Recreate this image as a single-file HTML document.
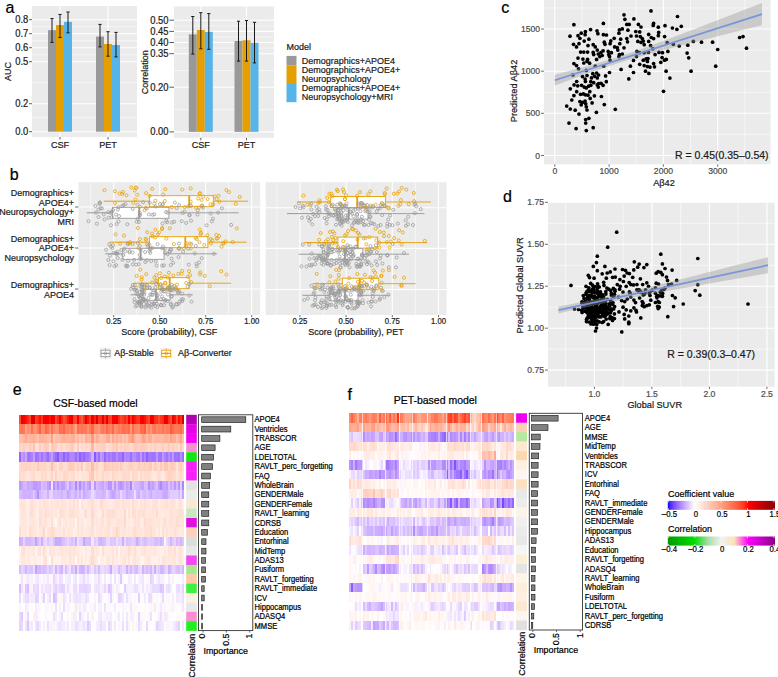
<!DOCTYPE html>
<html><head><meta charset="utf-8"><style>
html,body{margin:0;padding:0;background:#fff;width:778px;height:677px;overflow:hidden}
svg{display:block;position:absolute;left:0;top:0;font-family:"Liberation Sans", sans-serif}
.o{r:1.55px;fill:none;stroke:#E69F00;stroke-width:.75px}
.g{r:1.55px;fill:none;stroke:#999;stroke-width:.75px}
.k{r:1.85px;fill:#000}
.hm div{position:absolute}
</style></head><body>
<svg width="778" height="677" viewBox="0 0 778 677">
<text x="5.5" y="12.9" font-size="16" text-anchor="start" fill="#000" stroke="#000" stroke-width="0.22" >a</text>
<text x="9.8" y="179.8" font-size="16" text-anchor="start" fill="#000" stroke="#000" stroke-width="0.22" >b</text>
<text x="501.3" y="13.1" font-size="16" text-anchor="start" fill="#000" stroke="#000" stroke-width="0.22" >c</text>
<text x="503" y="202" font-size="16" text-anchor="start" fill="#000" stroke="#000" stroke-width="0.22" >d</text>
<text x="12.8" y="395.4" font-size="16" text-anchor="start" fill="#000" stroke="#000" stroke-width="0.22" >e</text>
<text x="347.6" y="400.2" font-size="16" text-anchor="start" fill="#000" stroke="#000" stroke-width="0.22" >f</text>
<rect x="32" y="6" width="105" height="131" fill="#ebebeb" />
<line x1="32" y1="117.7" x2="137" y2="117.7" stroke="#fff" stroke-width="0.55" />
<line x1="32" y1="82.7" x2="137" y2="82.7" stroke="#fff" stroke-width="0.55" />
<line x1="32" y1="54.7" x2="137" y2="54.7" stroke="#fff" stroke-width="0.55" />
<line x1="32" y1="40.7" x2="137" y2="40.7" stroke="#fff" stroke-width="0.55" />
<line x1="32" y1="26.7" x2="137" y2="26.7" stroke="#fff" stroke-width="0.55" />
<line x1="32" y1="131.7" x2="137" y2="131.7" stroke="#fff" stroke-width="1.1" />
<line x1="32" y1="103.7" x2="137" y2="103.7" stroke="#fff" stroke-width="1.1" />
<line x1="32" y1="61.7" x2="137" y2="61.7" stroke="#fff" stroke-width="1.1" />
<line x1="32" y1="47.7" x2="137" y2="47.7" stroke="#fff" stroke-width="1.1" />
<line x1="32" y1="33.7" x2="137" y2="33.7" stroke="#fff" stroke-width="1.1" />
<line x1="32" y1="19.7" x2="137" y2="19.7" stroke="#fff" stroke-width="1.1" />
<line x1="60" y1="6" x2="60" y2="137" stroke="#fff" stroke-width="1.1" />
<line x1="108" y1="6" x2="108" y2="137" stroke="#fff" stroke-width="1.1" />
<rect x="48" y="30.2" width="8" height="101.5" fill="#999999" />
<rect x="56" y="25.1" width="8" height="106.6" fill="#E69F00" />
<rect x="64" y="21.9" width="8" height="109.8" fill="#56B4E9" />
<rect x="96" y="36.6" width="8" height="95.1" fill="#999999" />
<rect x="104" y="44" width="8" height="87.7" fill="#E69F00" />
<rect x="112" y="45" width="8" height="86.7" fill="#56B4E9" />
<line x1="52" y1="18.6" x2="52" y2="42.4" stroke="#1a1a1a" stroke-width="1.0" />
<line x1="50.4" y1="18.6" x2="53.6" y2="18.6" stroke="#1a1a1a" stroke-width="1.0" />
<line x1="50.4" y1="42.4" x2="53.6" y2="42.4" stroke="#1a1a1a" stroke-width="1.0" />
<line x1="60" y1="14.4" x2="60" y2="37.5" stroke="#1a1a1a" stroke-width="1.0" />
<line x1="58.4" y1="14.4" x2="61.6" y2="14.4" stroke="#1a1a1a" stroke-width="1.0" />
<line x1="58.4" y1="37.5" x2="61.6" y2="37.5" stroke="#1a1a1a" stroke-width="1.0" />
<line x1="68" y1="12" x2="68" y2="32.8" stroke="#1a1a1a" stroke-width="1.0" />
<line x1="66.4" y1="12" x2="69.6" y2="12" stroke="#1a1a1a" stroke-width="1.0" />
<line x1="66.4" y1="32.8" x2="69.6" y2="32.8" stroke="#1a1a1a" stroke-width="1.0" />
<line x1="100" y1="24.4" x2="100" y2="46.9" stroke="#1a1a1a" stroke-width="1.0" />
<line x1="98.4" y1="24.4" x2="101.6" y2="24.4" stroke="#1a1a1a" stroke-width="1.0" />
<line x1="98.4" y1="46.9" x2="101.6" y2="46.9" stroke="#1a1a1a" stroke-width="1.0" />
<line x1="108" y1="31.7" x2="108" y2="56.2" stroke="#1a1a1a" stroke-width="1.0" />
<line x1="106.4" y1="31.7" x2="109.6" y2="31.7" stroke="#1a1a1a" stroke-width="1.0" />
<line x1="106.4" y1="56.2" x2="109.6" y2="56.2" stroke="#1a1a1a" stroke-width="1.0" />
<line x1="116" y1="32.4" x2="116" y2="56.9" stroke="#1a1a1a" stroke-width="1.0" />
<line x1="114.4" y1="32.4" x2="117.6" y2="32.4" stroke="#1a1a1a" stroke-width="1.0" />
<line x1="114.4" y1="56.9" x2="117.6" y2="56.9" stroke="#1a1a1a" stroke-width="1.0" />
<text transform="translate(28.3,135) scale(0.926,1)" font-size="10.15" text-anchor="end" fill="#1a1a1a" stroke="#1a1a1a" stroke-width="0.22" >0.0</text>
<line x1="29.1" y1="131.7" x2="32" y2="131.7" stroke="#333" stroke-width="0.8" />
<text transform="translate(28.3,107) scale(0.926,1)" font-size="10.15" text-anchor="end" fill="#1a1a1a" stroke="#1a1a1a" stroke-width="0.22" >0.2</text>
<line x1="29.1" y1="103.7" x2="32" y2="103.7" stroke="#333" stroke-width="0.8" />
<text transform="translate(28.3,65) scale(0.926,1)" font-size="10.15" text-anchor="end" fill="#1a1a1a" stroke="#1a1a1a" stroke-width="0.22" >0.5</text>
<line x1="29.1" y1="61.7" x2="32" y2="61.7" stroke="#333" stroke-width="0.8" />
<text transform="translate(28.3,51) scale(0.926,1)" font-size="10.15" text-anchor="end" fill="#1a1a1a" stroke="#1a1a1a" stroke-width="0.22" >0.6</text>
<line x1="29.1" y1="47.7" x2="32" y2="47.7" stroke="#333" stroke-width="0.8" />
<text transform="translate(28.3,37) scale(0.926,1)" font-size="10.15" text-anchor="end" fill="#1a1a1a" stroke="#1a1a1a" stroke-width="0.22" >0.7</text>
<line x1="29.1" y1="33.7" x2="32" y2="33.7" stroke="#333" stroke-width="0.8" />
<text transform="translate(28.3,23) scale(0.926,1)" font-size="10.15" text-anchor="end" fill="#1a1a1a" stroke="#1a1a1a" stroke-width="0.22" >0.8</text>
<line x1="29.1" y1="19.7" x2="32" y2="19.7" stroke="#333" stroke-width="0.8" />
<line x1="60" y1="137" x2="60" y2="139.5" stroke="#333" stroke-width="0.8" />
<text transform="translate(60,148) scale(0.926,1)" font-size="9.83" text-anchor="middle" fill="#1a1a1a" stroke="#1a1a1a" stroke-width="0.22" >CSF</text>
<line x1="108" y1="137" x2="108" y2="139.5" stroke="#333" stroke-width="0.8" />
<text transform="translate(108,148) scale(0.926,1)" font-size="9.83" text-anchor="middle" fill="#1a1a1a" stroke="#1a1a1a" stroke-width="0.22" >PET</text>
<text transform="translate(10.6,71.5) rotate(-90) scale(0.926,1)" font-size="9.72" text-anchor="middle" fill="#1a1a1a" stroke="#1a1a1a" stroke-width="0.22">AUC</text>
<rect x="174" y="6.5" width="100" height="131.3" fill="#ebebeb" />
<line x1="174" y1="109.6" x2="274" y2="109.6" stroke="#fff" stroke-width="0.55" />
<line x1="174" y1="70.5" x2="274" y2="70.5" stroke="#fff" stroke-width="0.55" />
<line x1="174" y1="48.1" x2="274" y2="48.1" stroke="#fff" stroke-width="0.55" />
<line x1="174" y1="37" x2="274" y2="37" stroke="#fff" stroke-width="0.55" />
<line x1="174" y1="25.8" x2="274" y2="25.8" stroke="#fff" stroke-width="0.55" />
<line x1="174" y1="131.9" x2="274" y2="131.9" stroke="#fff" stroke-width="1.1" />
<line x1="174" y1="87.2" x2="274" y2="87.2" stroke="#fff" stroke-width="1.1" />
<line x1="174" y1="53.7" x2="274" y2="53.7" stroke="#fff" stroke-width="1.1" />
<line x1="174" y1="42.5" x2="274" y2="42.5" stroke="#fff" stroke-width="1.1" />
<line x1="174" y1="31.4" x2="274" y2="31.4" stroke="#fff" stroke-width="1.1" />
<line x1="174" y1="20.2" x2="274" y2="20.2" stroke="#fff" stroke-width="1.1" />
<line x1="200.8" y1="6.5" x2="200.8" y2="137.8" stroke="#fff" stroke-width="1.1" />
<line x1="246.5" y1="6.5" x2="246.5" y2="137.8" stroke="#fff" stroke-width="1.1" />
<rect x="188.8" y="34.4" width="8" height="97.5" fill="#999999" />
<rect x="196.8" y="30" width="8" height="101.9" fill="#E69F00" />
<rect x="204.8" y="31.8" width="8" height="100.1" fill="#56B4E9" />
<rect x="234.5" y="41" width="8" height="90.9" fill="#999999" />
<rect x="242.5" y="40.3" width="8" height="91.6" fill="#E69F00" />
<rect x="250.5" y="42.8" width="8" height="89.1" fill="#56B4E9" />
<line x1="192.8" y1="16.5" x2="192.8" y2="54.1" stroke="#1a1a1a" stroke-width="1.0" />
<line x1="191.2" y1="16.5" x2="194.4" y2="16.5" stroke="#1a1a1a" stroke-width="1.0" />
<line x1="191.2" y1="54.1" x2="194.4" y2="54.1" stroke="#1a1a1a" stroke-width="1.0" />
<line x1="200.8" y1="12.7" x2="200.8" y2="48.8" stroke="#1a1a1a" stroke-width="1.0" />
<line x1="199.2" y1="12.7" x2="202.4" y2="12.7" stroke="#1a1a1a" stroke-width="1.0" />
<line x1="199.2" y1="48.8" x2="202.4" y2="48.8" stroke="#1a1a1a" stroke-width="1.0" />
<line x1="208.8" y1="13.6" x2="208.8" y2="49.3" stroke="#1a1a1a" stroke-width="1.0" />
<line x1="207.2" y1="13.6" x2="210.4" y2="13.6" stroke="#1a1a1a" stroke-width="1.0" />
<line x1="207.2" y1="49.3" x2="210.4" y2="49.3" stroke="#1a1a1a" stroke-width="1.0" />
<line x1="238.5" y1="21.2" x2="238.5" y2="61.1" stroke="#1a1a1a" stroke-width="1.0" />
<line x1="236.9" y1="21.2" x2="240.1" y2="21.2" stroke="#1a1a1a" stroke-width="1.0" />
<line x1="236.9" y1="61.1" x2="240.1" y2="61.1" stroke="#1a1a1a" stroke-width="1.0" />
<line x1="246.5" y1="20.5" x2="246.5" y2="61.1" stroke="#1a1a1a" stroke-width="1.0" />
<line x1="244.9" y1="20.5" x2="248.1" y2="20.5" stroke="#1a1a1a" stroke-width="1.0" />
<line x1="244.9" y1="61.1" x2="248.1" y2="61.1" stroke="#1a1a1a" stroke-width="1.0" />
<line x1="254.5" y1="22.3" x2="254.5" y2="62.9" stroke="#1a1a1a" stroke-width="1.0" />
<line x1="252.9" y1="22.3" x2="256.1" y2="22.3" stroke="#1a1a1a" stroke-width="1.0" />
<line x1="252.9" y1="62.9" x2="256.1" y2="62.9" stroke="#1a1a1a" stroke-width="1.0" />
<text transform="translate(168.5,135.2) scale(0.926,1)" font-size="10.15" text-anchor="end" fill="#1a1a1a" stroke="#1a1a1a" stroke-width="0.22" >0.00</text>
<line x1="169.3" y1="131.9" x2="174" y2="131.9" stroke="#333" stroke-width="0.8" />
<text transform="translate(168.5,90.5) scale(0.926,1)" font-size="10.15" text-anchor="end" fill="#1a1a1a" stroke="#1a1a1a" stroke-width="0.22" >0.20</text>
<line x1="169.3" y1="87.2" x2="174" y2="87.2" stroke="#333" stroke-width="0.8" />
<text transform="translate(168.5,57) scale(0.926,1)" font-size="10.15" text-anchor="end" fill="#1a1a1a" stroke="#1a1a1a" stroke-width="0.22" >0.35</text>
<line x1="169.3" y1="53.7" x2="174" y2="53.7" stroke="#333" stroke-width="0.8" />
<text transform="translate(168.5,45.8) scale(0.926,1)" font-size="10.15" text-anchor="end" fill="#1a1a1a" stroke="#1a1a1a" stroke-width="0.22" >0.40</text>
<line x1="169.3" y1="42.5" x2="174" y2="42.5" stroke="#333" stroke-width="0.8" />
<text transform="translate(168.5,34.7) scale(0.926,1)" font-size="10.15" text-anchor="end" fill="#1a1a1a" stroke="#1a1a1a" stroke-width="0.22" >0.45</text>
<line x1="169.3" y1="31.4" x2="174" y2="31.4" stroke="#333" stroke-width="0.8" />
<text transform="translate(168.5,23.5) scale(0.926,1)" font-size="10.15" text-anchor="end" fill="#1a1a1a" stroke="#1a1a1a" stroke-width="0.22" >0.50</text>
<line x1="169.3" y1="20.2" x2="174" y2="20.2" stroke="#333" stroke-width="0.8" />
<line x1="200.8" y1="137.8" x2="200.8" y2="140.3" stroke="#333" stroke-width="0.8" />
<text transform="translate(200.8,148) scale(0.926,1)" font-size="9.83" text-anchor="middle" fill="#1a1a1a" stroke="#1a1a1a" stroke-width="0.22" >CSF</text>
<line x1="246.5" y1="137.8" x2="246.5" y2="140.3" stroke="#333" stroke-width="0.8" />
<text transform="translate(246.5,148) scale(0.926,1)" font-size="9.83" text-anchor="middle" fill="#1a1a1a" stroke="#1a1a1a" stroke-width="0.22" >PET</text>
<text transform="translate(148.3,72.2) rotate(-90) scale(0.926,1)" font-size="9.72" text-anchor="middle" fill="#1a1a1a" stroke="#1a1a1a" stroke-width="0.22">Correlation</text>
<text transform="translate(286.4,50.2) scale(0.926,1)" font-size="9.72" text-anchor="start" fill="#1a1a1a" stroke="#1a1a1a" stroke-width="0.22" >Model</text>
<rect x="286.5" y="55.9" width="10" height="9.7" fill="#999999" />
<rect x="286.5" y="65.6" width="10" height="18.4" fill="#E69F00" />
<rect x="286.5" y="84" width="10" height="18.2" fill="#56B4E9" />
<text transform="translate(301.7,63.6) scale(0.926,1)" font-size="9.72" text-anchor="start" fill="#1a1a1a" stroke="#1a1a1a" stroke-width="0.22" >Demographics+APOE4</text>
<text transform="translate(301.7,72.7) scale(0.926,1)" font-size="9.72" text-anchor="start" fill="#1a1a1a" stroke="#1a1a1a" stroke-width="0.22" >Demographics+APOE4+</text>
<text transform="translate(301.7,81.7) scale(0.926,1)" font-size="9.72" text-anchor="start" fill="#1a1a1a" stroke="#1a1a1a" stroke-width="0.22" >Neuropsychology</text>
<text transform="translate(301.7,90.8) scale(0.926,1)" font-size="9.72" text-anchor="start" fill="#1a1a1a" stroke="#1a1a1a" stroke-width="0.22" >Demographics+APOE4+</text>
<text transform="translate(301.7,99.9) scale(0.926,1)" font-size="9.72" text-anchor="start" fill="#1a1a1a" stroke="#1a1a1a" stroke-width="0.22" >Neuropsychology+MRI</text>
<rect x="78.4" y="182.2" width="181.8" height="132.8" fill="#ebebeb" />
<line x1="90.7" y1="182.2" x2="90.7" y2="315" stroke="#fff" stroke-width="0.55" />
<line x1="136.7" y1="182.2" x2="136.7" y2="315" stroke="#fff" stroke-width="0.55" />
<line x1="182.7" y1="182.2" x2="182.7" y2="315" stroke="#fff" stroke-width="0.55" />
<line x1="228.7" y1="182.2" x2="228.7" y2="315" stroke="#fff" stroke-width="0.55" />
<line x1="113.7" y1="182.2" x2="113.7" y2="315" stroke="#fff" stroke-width="1.1" />
<line x1="159.7" y1="182.2" x2="159.7" y2="315" stroke="#fff" stroke-width="1.1" />
<line x1="205.7" y1="182.2" x2="205.7" y2="315" stroke="#fff" stroke-width="1.1" />
<line x1="251.7" y1="182.2" x2="251.7" y2="315" stroke="#fff" stroke-width="1.1" />
<line x1="78.4" y1="207" x2="260.2" y2="207" stroke="#fff" stroke-width="1.1" />
<line x1="78.4" y1="248" x2="260.2" y2="248" stroke="#fff" stroke-width="1.1" />
<line x1="78.4" y1="289" x2="260.2" y2="289" stroke="#fff" stroke-width="1.1" />
<line x1="103.8" y1="201.2" x2="149.4" y2="201.2" stroke="#E69F00" stroke-width="1.0"/>
<line x1="213.3" y1="201.2" x2="248" y2="201.2" stroke="#E69F00" stroke-width="0.9"/>
<rect x="149.4" y="195.7" width="63.9" height="11" fill="#fff" stroke="#E69F00" stroke-width="0.9"/>
<line x1="189.2" y1="195.7" x2="189.2" y2="206.7" stroke="#E69F00" stroke-width="1.8"/>
<line x1="86.9" y1="212.8" x2="112.6" y2="212.8" stroke="#999999" stroke-width="1.0"/>
<line x1="168.9" y1="212.8" x2="238.7" y2="212.8" stroke="#999999" stroke-width="0.9"/>
<rect x="112.6" y="207.3" width="56.3" height="11" fill="#fff" stroke="#999999" stroke-width="0.9"/>
<line x1="139.2" y1="207.3" x2="139.2" y2="218.3" stroke="#999999" stroke-width="1.8"/>
<line x1="109.5" y1="242.2" x2="149.4" y2="242.2" stroke="#E69F00" stroke-width="1.0"/>
<line x1="207.9" y1="242.2" x2="246.6" y2="242.2" stroke="#E69F00" stroke-width="0.9"/>
<rect x="149.4" y="236.7" width="58.5" height="11" fill="#fff" stroke="#E69F00" stroke-width="0.9"/>
<line x1="185.3" y1="236.7" x2="185.3" y2="247.7" stroke="#E69F00" stroke-width="1.8"/>
<line x1="105.2" y1="253.8" x2="122.8" y2="253.8" stroke="#999999" stroke-width="1.0"/>
<line x1="164.1" y1="253.8" x2="217" y2="253.8" stroke="#999999" stroke-width="0.9"/>
<rect x="122.8" y="248.3" width="41.3" height="11" fill="#fff" stroke="#999999" stroke-width="0.9"/>
<line x1="140.6" y1="248.3" x2="140.6" y2="259.3" stroke="#999999" stroke-width="1.8"/>
<line x1="134.1" y1="283.2" x2="158.4" y2="283.2" stroke="#E69F00" stroke-width="1.0"/>
<line x1="189.2" y1="283.2" x2="231.1" y2="283.2" stroke="#E69F00" stroke-width="0.9"/>
<rect x="158.4" y="277.7" width="30.8" height="11" fill="#fff" stroke="#E69F00" stroke-width="0.9"/>
<line x1="169.7" y1="277.7" x2="169.7" y2="288.7" stroke="#E69F00" stroke-width="1.8"/>
<line x1="130.7" y1="294.8" x2="143" y2="294.8" stroke="#999999" stroke-width="1.0"/>
<line x1="170" y1="294.8" x2="192.9" y2="294.8" stroke="#999999" stroke-width="0.9"/>
<rect x="143" y="289.3" width="27" height="11" fill="#fff" stroke="#999999" stroke-width="0.9"/>
<line x1="156" y1="289.3" x2="156" y2="300.3" stroke="#999999" stroke-width="1.8"/>
<circle cx="155.1" cy="237.4" class="o"/>
<circle cx="142" cy="301.9" class="g"/>
<circle cx="165.2" cy="282.7" class="o"/>
<circle cx="164.9" cy="252.9" class="g"/>
<circle cx="159" cy="232.4" class="o"/>
<circle cx="118.5" cy="221.5" class="g"/>
<circle cx="186.3" cy="245.5" class="o"/>
<circle cx="200" cy="274.5" class="o"/>
<circle cx="116" cy="214.6" class="g"/>
<circle cx="135.6" cy="199.4" class="o"/>
<circle cx="140" cy="239.1" class="o"/>
<circle cx="189.4" cy="214.8" class="g"/>
<circle cx="226.4" cy="190.1" class="o"/>
<circle cx="110.8" cy="212.9" class="g"/>
<circle cx="200.3" cy="272.4" class="o"/>
<circle cx="175.8" cy="288.2" class="g"/>
<circle cx="199.5" cy="242.3" class="o"/>
<circle cx="210.8" cy="213.5" class="g"/>
<circle cx="201.9" cy="205.4" class="o"/>
<circle cx="100.1" cy="203" class="g"/>
<circle cx="188.3" cy="206.3" class="g"/>
<circle cx="143.3" cy="298.9" class="g"/>
<circle cx="136" cy="287.9" class="o"/>
<circle cx="211.9" cy="221.3" class="g"/>
<circle cx="236.8" cy="228.4" class="o"/>
<circle cx="203.2" cy="196.6" class="o"/>
<circle cx="164" cy="265.4" class="g"/>
<circle cx="114.5" cy="266.2" class="g"/>
<circle cx="140.3" cy="269.7" class="o"/>
<circle cx="146.8" cy="260.2" class="g"/>
<circle cx="196.4" cy="263.9" class="g"/>
<circle cx="136.1" cy="264.6" class="g"/>
<circle cx="140.8" cy="250.2" class="g"/>
<circle cx="167.6" cy="212.7" class="g"/>
<circle cx="162.5" cy="223.5" class="g"/>
<circle cx="139.9" cy="258.5" class="g"/>
<circle cx="156.8" cy="296.1" class="g"/>
<circle cx="111" cy="246.7" class="g"/>
<circle cx="174.2" cy="286" class="o"/>
<circle cx="216.6" cy="199.2" class="o"/>
<circle cx="135.6" cy="306.5" class="g"/>
<circle cx="167.2" cy="222.2" class="g"/>
<circle cx="108.4" cy="260" class="g"/>
<circle cx="178.9" cy="292.5" class="g"/>
<circle cx="141.8" cy="277.3" class="o"/>
<circle cx="141.2" cy="305.5" class="g"/>
<circle cx="162.5" cy="285.4" class="o"/>
<circle cx="131.3" cy="187.5" class="o"/>
<circle cx="146.2" cy="274.2" class="o"/>
<circle cx="134.8" cy="190.5" class="o"/>
<circle cx="101.9" cy="208.4" class="g"/>
<circle cx="162.9" cy="289.8" class="o"/>
<circle cx="137.6" cy="294.2" class="g"/>
<circle cx="95.9" cy="212.6" class="g"/>
<circle cx="171.1" cy="303.7" class="g"/>
<circle cx="155.2" cy="301.6" class="g"/>
<circle cx="138.8" cy="302.6" class="g"/>
<circle cx="152.2" cy="188.9" class="o"/>
<circle cx="161.2" cy="278" class="o"/>
<circle cx="112.9" cy="245.2" class="g"/>
<circle cx="201.6" cy="200" class="o"/>
<circle cx="183.1" cy="251.7" class="g"/>
<circle cx="149.5" cy="244.8" class="o"/>
<circle cx="152.1" cy="282.5" class="o"/>
<circle cx="169.5" cy="251.7" class="g"/>
<circle cx="196.7" cy="239.2" class="o"/>
<circle cx="111" cy="225.2" class="g"/>
<circle cx="141.6" cy="279.5" class="o"/>
<circle cx="156.4" cy="293.9" class="g"/>
<circle cx="144.2" cy="294.6" class="g"/>
<circle cx="122.9" cy="191.9" class="o"/>
<circle cx="152.5" cy="247.9" class="g"/>
<circle cx="145.8" cy="300.8" class="g"/>
<circle cx="189" cy="271.1" class="o"/>
<circle cx="127.7" cy="244.2" class="g"/>
<circle cx="119" cy="216.1" class="g"/>
<circle cx="224" cy="243" class="o"/>
<circle cx="182.3" cy="189.6" class="o"/>
<circle cx="109.9" cy="255.6" class="g"/>
<circle cx="199.5" cy="193.6" class="o"/>
<circle cx="239.8" cy="197" class="o"/>
<circle cx="179" cy="290.9" class="g"/>
<circle cx="203.1" cy="207.4" class="g"/>
<circle cx="226.5" cy="274.6" class="o"/>
<circle cx="155.4" cy="306" class="g"/>
<circle cx="114.9" cy="203.1" class="o"/>
<circle cx="140.4" cy="295.4" class="g"/>
<circle cx="109.2" cy="244.4" class="g"/>
<circle cx="152.1" cy="233.6" class="o"/>
<circle cx="146.6" cy="208.6" class="g"/>
<circle cx="121.3" cy="249.9" class="g"/>
<circle cx="160.9" cy="299.5" class="g"/>
<circle cx="178" cy="292.6" class="g"/>
<circle cx="139.3" cy="303.3" class="g"/>
<circle cx="125.5" cy="204.1" class="g"/>
<circle cx="153" cy="292.3" class="g"/>
<circle cx="139.9" cy="302.2" class="g"/>
<circle cx="216.4" cy="234.8" class="o"/>
<circle cx="139.8" cy="246" class="g"/>
<circle cx="144.4" cy="292.6" class="g"/>
<circle cx="142.3" cy="290.6" class="g"/>
<circle cx="135.6" cy="289.9" class="g"/>
<circle cx="100.5" cy="208.2" class="g"/>
<circle cx="157.5" cy="244.2" class="g"/>
<circle cx="111.8" cy="217.2" class="g"/>
<circle cx="155.4" cy="200.7" class="o"/>
<circle cx="147.2" cy="287.7" class="g"/>
<circle cx="98.4" cy="209.5" class="g"/>
<circle cx="150.2" cy="294.5" class="g"/>
<circle cx="142.5" cy="293.3" class="g"/>
<circle cx="174.2" cy="221.8" class="g"/>
<circle cx="161.9" cy="229.1" class="o"/>
<circle cx="139.7" cy="254.9" class="g"/>
<circle cx="184.4" cy="211.6" class="g"/>
<circle cx="221.3" cy="271.2" class="o"/>
<circle cx="171.7" cy="296.1" class="g"/>
<circle cx="127.6" cy="266" class="g"/>
<circle cx="139.1" cy="296.8" class="g"/>
<circle cx="160.6" cy="284.3" class="o"/>
<circle cx="182.6" cy="213" class="g"/>
<circle cx="151.2" cy="261.1" class="g"/>
<circle cx="196.1" cy="207.6" class="o"/>
<circle cx="189.3" cy="295.6" class="g"/>
<circle cx="218.1" cy="212.6" class="g"/>
<circle cx="165.3" cy="189.2" class="o"/>
<circle cx="179.6" cy="301.8" class="g"/>
<circle cx="145.1" cy="252" class="g"/>
<circle cx="150.3" cy="252.9" class="g"/>
<circle cx="123.2" cy="255" class="g"/>
<circle cx="157.4" cy="307.1" class="g"/>
<circle cx="176.8" cy="304.4" class="g"/>
<circle cx="161" cy="305" class="g"/>
<circle cx="181.7" cy="221.2" class="g"/>
<circle cx="142.6" cy="292.3" class="g"/>
<circle cx="88.5" cy="221.2" class="g"/>
<circle cx="187.5" cy="286.6" class="g"/>
<circle cx="149.7" cy="248.4" class="g"/>
<circle cx="189.7" cy="215.5" class="g"/>
<circle cx="190.8" cy="248.3" class="o"/>
<circle cx="181.8" cy="273.6" class="o"/>
<circle cx="200.1" cy="193.3" class="o"/>
<circle cx="134.5" cy="299.3" class="g"/>
<circle cx="141.3" cy="306.7" class="g"/>
<circle cx="144.7" cy="289.4" class="o"/>
<circle cx="171.6" cy="289.5" class="g"/>
<circle cx="172.9" cy="288.6" class="g"/>
<circle cx="145.3" cy="262.1" class="g"/>
<circle cx="166.4" cy="238.6" class="o"/>
<circle cx="155.3" cy="229.8" class="o"/>
<circle cx="134.7" cy="289.6" class="g"/>
<circle cx="148.9" cy="214.4" class="g"/>
<circle cx="131.1" cy="288.8" class="g"/>
<circle cx="200.6" cy="234.1" class="o"/>
<circle cx="104.6" cy="219.4" class="g"/>
<circle cx="184.6" cy="207.1" class="o"/>
<circle cx="139.8" cy="215.3" class="g"/>
<circle cx="209.7" cy="286.3" class="o"/>
<circle cx="155.4" cy="287.3" class="g"/>
<circle cx="154" cy="303.9" class="g"/>
<circle cx="169.2" cy="287.4" class="g"/>
<circle cx="201.7" cy="258.2" class="g"/>
<circle cx="207.5" cy="235.2" class="o"/>
<circle cx="213.1" cy="204.3" class="o"/>
<circle cx="149.6" cy="287.5" class="g"/>
<circle cx="161.2" cy="291.7" class="g"/>
<circle cx="178.7" cy="248.6" class="g"/>
<circle cx="156.7" cy="303.7" class="g"/>
<circle cx="191.4" cy="244" class="g"/>
<circle cx="199.8" cy="229.6" class="o"/>
<circle cx="153.6" cy="303.7" class="g"/>
<circle cx="177.1" cy="290.4" class="g"/>
<circle cx="219.1" cy="236" class="o"/>
<circle cx="163.2" cy="194.6" class="o"/>
<circle cx="143" cy="299.1" class="g"/>
<circle cx="178.8" cy="248.3" class="o"/>
<circle cx="141.6" cy="289.3" class="g"/>
<circle cx="206.6" cy="225.3" class="g"/>
<circle cx="186.2" cy="283" class="o"/>
<circle cx="188.7" cy="264.6" class="g"/>
<circle cx="156.6" cy="299.3" class="g"/>
<circle cx="195.8" cy="237.8" class="o"/>
<circle cx="199" cy="262.5" class="g"/>
<circle cx="115.5" cy="234.4" class="o"/>
<circle cx="168" cy="294.5" class="g"/>
<circle cx="149.8" cy="287.9" class="g"/>
<circle cx="168.5" cy="288" class="g"/>
<circle cx="190.7" cy="188.4" class="o"/>
<circle cx="178.4" cy="273.9" class="o"/>
<circle cx="221.6" cy="246.7" class="o"/>
<circle cx="183.9" cy="248.4" class="o"/>
<circle cx="122.4" cy="259.9" class="g"/>
<circle cx="137.5" cy="204.6" class="g"/>
<circle cx="167.8" cy="301.1" class="g"/>
<circle cx="176.1" cy="289.6" class="o"/>
<circle cx="179.1" cy="243.6" class="g"/>
<circle cx="194.7" cy="253.4" class="g"/>
<circle cx="127.3" cy="224.2" class="g"/>
<circle cx="132.8" cy="209" class="g"/>
<circle cx="229" cy="192.1" class="o"/>
<circle cx="183" cy="299.2" class="g"/>
<circle cx="142.4" cy="285.1" class="g"/>
<circle cx="95.4" cy="205.9" class="g"/>
<circle cx="155.8" cy="280.5" class="o"/>
<circle cx="126.6" cy="266.4" class="g"/>
<circle cx="137" cy="305.6" class="g"/>
<circle cx="166.2" cy="220.8" class="g"/>
<circle cx="210.5" cy="204.2" class="o"/>
<circle cx="137.8" cy="228.1" class="o"/>
<circle cx="127.7" cy="243.1" class="g"/>
<circle cx="189.5" cy="284.1" class="g"/>
<circle cx="168.2" cy="289.9" class="o"/>
<circle cx="171.7" cy="284.6" class="g"/>
<circle cx="219.3" cy="201.6" class="o"/>
<circle cx="191.1" cy="282.1" class="o"/>
<circle cx="153.4" cy="290.4" class="g"/>
<circle cx="145.6" cy="238.7" class="o"/>
<circle cx="155.6" cy="206.5" class="g"/>
<circle cx="167.4" cy="288.2" class="g"/>
<circle cx="197.4" cy="214.6" class="g"/>
<circle cx="172.4" cy="287" class="g"/>
<circle cx="189.9" cy="243.5" class="o"/>
<circle cx="179.5" cy="248.3" class="g"/>
<circle cx="136.4" cy="293.6" class="g"/>
<circle cx="147.2" cy="232.2" class="o"/>
<circle cx="190.7" cy="201.7" class="o"/>
<circle cx="161.9" cy="289" class="o"/>
<circle cx="165.4" cy="283.2" class="o"/>
<circle cx="163.5" cy="289.2" class="g"/>
<circle cx="146" cy="239.7" class="o"/>
<circle cx="122.2" cy="194.1" class="o"/>
<circle cx="190.1" cy="275.2" class="o"/>
<circle cx="213.9" cy="253.8" class="g"/>
<circle cx="138.9" cy="222" class="g"/>
<circle cx="150.5" cy="249.2" class="g"/>
<circle cx="117.3" cy="251.9" class="g"/>
<circle cx="235.7" cy="203.8" class="o"/>
<circle cx="132.8" cy="285" class="g"/>
<circle cx="162.5" cy="204.5" class="g"/>
<circle cx="160" cy="273.3" class="o"/>
<circle cx="141.6" cy="300.7" class="g"/>
<circle cx="145.8" cy="207.9" class="o"/>
<circle cx="149.8" cy="202.7" class="g"/>
<circle cx="141.6" cy="306.3" class="g"/>
<circle cx="171.9" cy="207" class="o"/>
<circle cx="210.9" cy="243.2" class="o"/>
<circle cx="164.8" cy="201" class="o"/>
<circle cx="165.7" cy="300" class="g"/>
<circle cx="167.7" cy="286.7" class="o"/>
<circle cx="152.1" cy="304.2" class="g"/>
<circle cx="151.3" cy="307.6" class="g"/>
<circle cx="135.7" cy="187.8" class="o"/>
<circle cx="165.3" cy="291.5" class="g"/>
<circle cx="212.9" cy="218.7" class="g"/>
<circle cx="134.8" cy="284.8" class="g"/>
<circle cx="130.2" cy="242.1" class="o"/>
<circle cx="146.1" cy="193.1" class="o"/>
<circle cx="138.4" cy="248" class="o"/>
<circle cx="202.1" cy="206.1" class="g"/>
<circle cx="129.6" cy="243.6" class="o"/>
<circle cx="160.5" cy="284.9" class="g"/>
<circle cx="214.7" cy="196.4" class="o"/>
<circle cx="128.1" cy="260.7" class="g"/>
<circle cx="167.7" cy="277.5" class="o"/>
<circle cx="176.7" cy="208" class="g"/>
<circle cx="129.4" cy="252.4" class="g"/>
<circle cx="104.5" cy="190.2" class="o"/>
<circle cx="155.8" cy="261.4" class="g"/>
<circle cx="106.1" cy="249.7" class="g"/>
<circle cx="126.1" cy="265.5" class="g"/>
<circle cx="173.9" cy="244.1" class="o"/>
<circle cx="157.8" cy="295.1" class="g"/>
<circle cx="99.8" cy="202.4" class="g"/>
<circle cx="195.8" cy="245.9" class="g"/>
<circle cx="148.1" cy="305.4" class="g"/>
<circle cx="137.2" cy="194.7" class="o"/>
<circle cx="141.3" cy="258.9" class="g"/>
<circle cx="221.9" cy="208.2" class="g"/>
<circle cx="156.6" cy="265.6" class="g"/>
<circle cx="140.1" cy="298.1" class="g"/>
<circle cx="162.1" cy="265.6" class="g"/>
<circle cx="158.1" cy="234.2" class="o"/>
<circle cx="170.2" cy="290.2" class="g"/>
<circle cx="125.3" cy="251.3" class="g"/>
<circle cx="164.9" cy="300.7" class="g"/>
<circle cx="98.5" cy="217" class="g"/>
<circle cx="156.9" cy="281.1" class="o"/>
<circle cx="223" cy="243.4" class="o"/>
<circle cx="113.5" cy="253" class="g"/>
<circle cx="116.3" cy="253.7" class="g"/>
<circle cx="149.4" cy="303.1" class="g"/>
<circle cx="197.8" cy="210.4" class="g"/>
<circle cx="108.2" cy="212.2" class="g"/>
<circle cx="187.8" cy="276.8" class="o"/>
<circle cx="162.9" cy="246.5" class="g"/>
<circle cx="99.5" cy="203.8" class="g"/>
<circle cx="149.6" cy="195.8" class="o"/>
<circle cx="162.9" cy="204" class="g"/>
<circle cx="139.8" cy="212.6" class="g"/>
<circle cx="154.4" cy="203.5" class="g"/>
<circle cx="173.1" cy="262.7" class="g"/>
<circle cx="151.6" cy="294.7" class="g"/>
<circle cx="136.8" cy="221.7" class="g"/>
<circle cx="144.9" cy="284.8" class="o"/>
<circle cx="132.9" cy="264.3" class="g"/>
<circle cx="124.1" cy="235.6" class="o"/>
<circle cx="160" cy="204.1" class="g"/>
<circle cx="161.3" cy="305.2" class="g"/>
<circle cx="232.7" cy="242.1" class="o"/>
<circle cx="182.2" cy="270.9" class="o"/>
<circle cx="117.5" cy="253.8" class="g"/>
<circle cx="140.4" cy="285.9" class="g"/>
<circle cx="140.3" cy="296.2" class="g"/>
<circle cx="190.5" cy="205.9" class="o"/>
<circle cx="173.2" cy="306.7" class="g"/>
<circle cx="218.5" cy="195.7" class="o"/>
<circle cx="141.6" cy="284.3" class="g"/>
<circle cx="147.3" cy="244.2" class="g"/>
<circle cx="181.5" cy="299.5" class="g"/>
<circle cx="216.5" cy="238.6" class="o"/>
<circle cx="126.5" cy="195.2" class="o"/>
<circle cx="137.8" cy="243" class="g"/>
<circle cx="178.8" cy="303.8" class="g"/>
<circle cx="231.1" cy="224.9" class="g"/>
<circle cx="169.2" cy="289" class="o"/>
<circle cx="112.3" cy="248" class="g"/>
<circle cx="137.6" cy="218.8" class="g"/>
<circle cx="113.1" cy="210" class="g"/>
<circle cx="162.1" cy="296.3" class="g"/>
<circle cx="170.2" cy="249.5" class="g"/>
<circle cx="212.2" cy="240.2" class="o"/>
<circle cx="204.8" cy="275.9" class="o"/>
<circle cx="171.2" cy="249.4" class="g"/>
<circle cx="176" cy="288.3" class="g"/>
<circle cx="119.5" cy="193.5" class="o"/>
<circle cx="164.7" cy="248.6" class="g"/>
<circle cx="138.8" cy="264.2" class="g"/>
<circle cx="103.8" cy="214.4" class="g"/>
<circle cx="156.4" cy="275.2" class="o"/>
<circle cx="142.6" cy="289.8" class="g"/>
<circle cx="173.3" cy="275.6" class="o"/>
<circle cx="190.8" cy="205.5" class="g"/>
<circle cx="188.2" cy="248.6" class="g"/>
<circle cx="146.9" cy="285.2" class="g"/>
<circle cx="112" cy="211.6" class="g"/>
<circle cx="166.1" cy="212.1" class="g"/>
<circle cx="179.1" cy="205.1" class="g"/>
<circle cx="177" cy="284.5" class="o"/>
<circle cx="176.2" cy="304.2" class="g"/>
<circle cx="207.6" cy="199" class="o"/>
<circle cx="142.3" cy="284.6" class="g"/>
<circle cx="169.9" cy="251.6" class="g"/>
<circle cx="132.7" cy="252.5" class="g"/>
<circle cx="139.9" cy="206.9" class="o"/>
<circle cx="169.8" cy="228.3" class="o"/>
<circle cx="172.3" cy="307.6" class="g"/>
<circle cx="152.6" cy="214.8" class="g"/>
<circle cx="138" cy="302.1" class="g"/>
<circle cx="171.4" cy="296.7" class="g"/>
<circle cx="168.9" cy="272.8" class="o"/>
<circle cx="117.7" cy="258.1" class="g"/>
<circle cx="161.4" cy="287" class="g"/>
<circle cx="198.2" cy="198.5" class="o"/>
<circle cx="115.4" cy="253.1" class="g"/>
<circle cx="129.5" cy="251" class="g"/>
<circle cx="196.9" cy="266.3" class="g"/>
<circle cx="217.4" cy="238.4" class="o"/>
<circle cx="123.7" cy="205.1" class="g"/>
<circle cx="163.7" cy="299" class="g"/>
<circle cx="182.2" cy="293.6" class="g"/>
<circle cx="143.1" cy="299.5" class="g"/>
<circle cx="139.4" cy="292.3" class="g"/>
<circle cx="170.8" cy="304.8" class="g"/>
<circle cx="178.6" cy="257.1" class="g"/>
<circle cx="174.8" cy="202.6" class="g"/>
<circle cx="160.6" cy="305.1" class="g"/>
<circle cx="142" cy="286.8" class="g"/>
<circle cx="120.1" cy="243.6" class="o"/>
<circle cx="186.8" cy="243.5" class="o"/>
<circle cx="170.7" cy="265.1" class="g"/>
<circle cx="162.3" cy="248.4" class="g"/>
<circle cx="118.5" cy="207.4" class="g"/>
<circle cx="146.1" cy="305.8" class="g"/>
<circle cx="154.2" cy="214.3" class="g"/>
<circle cx="164.1" cy="305.2" class="g"/>
<circle cx="164" cy="291.4" class="g"/>
<circle cx="154.4" cy="277.6" class="o"/>
<circle cx="156.9" cy="298.2" class="g"/>
<circle cx="144.4" cy="287.1" class="g"/>
<circle cx="191.5" cy="301.6" class="g"/>
<circle cx="161.7" cy="289.7" class="g"/>
<circle cx="172.5" cy="290.3" class="g"/>
<circle cx="171.9" cy="222.5" class="g"/>
<circle cx="116.2" cy="265.2" class="g"/>
<circle cx="141.2" cy="302.7" class="g"/>
<circle cx="169.5" cy="289.2" class="g"/>
<circle cx="164.8" cy="276.5" class="o"/>
<circle cx="136.7" cy="275.9" class="o"/>
<circle cx="156.3" cy="284.1" class="g"/>
<circle cx="132.6" cy="243.9" class="g"/>
<circle cx="144.5" cy="210.3" class="g"/>
<circle cx="137.8" cy="302" class="g"/>
<circle cx="136.3" cy="187.8" class="o"/>
<circle cx="149.5" cy="251.1" class="g"/>
<circle cx="152.6" cy="294.9" class="g"/>
<circle cx="149.8" cy="306.2" class="g"/>
<circle cx="225.6" cy="241.4" class="o"/>
<circle cx="96.9" cy="223.7" class="g"/>
<circle cx="114.9" cy="191.3" class="o"/>
<circle cx="144.4" cy="299.3" class="g"/>
<circle cx="210.7" cy="239" class="o"/>
<circle cx="148.5" cy="298" class="g"/>
<circle cx="109.6" cy="265.1" class="g"/>
<circle cx="116.6" cy="224.1" class="g"/>
<circle cx="133" cy="287.6" class="g"/>
<circle cx="134.1" cy="259.8" class="g"/>
<circle cx="134.5" cy="302.2" class="g"/>
<circle cx="124.4" cy="248.7" class="g"/>
<circle cx="198.8" cy="207.5" class="o"/>
<circle cx="133.3" cy="202.9" class="o"/>
<circle cx="113.5" cy="261.3" class="g"/>
<circle cx="171.5" cy="258.7" class="g"/>
<circle cx="117.8" cy="209.6" class="g"/>
<circle cx="152.6" cy="236.4" class="o"/>
<circle cx="122.4" cy="206" class="g"/>
<circle cx="146.1" cy="302.3" class="g"/>
<circle cx="191" cy="220.7" class="g"/>
<circle cx="145.5" cy="307.4" class="g"/>
<circle cx="162.2" cy="228" class="o"/>
<circle cx="147.7" cy="246.1" class="g"/>
<circle cx="204.2" cy="244.9" class="o"/>
<circle cx="182.2" cy="301.2" class="g"/>
<circle cx="201" cy="232.8" class="o"/>
<circle cx="136.9" cy="290.8" class="g"/>
<circle cx="143.1" cy="202.3" class="g"/>
<circle cx="186.2" cy="222.9" class="g"/>
<circle cx="167.6" cy="254.3" class="g"/>
<circle cx="108.6" cy="217.8" class="g"/>
<circle cx="140" cy="214.7" class="g"/>
<line x1="113.7" y1="315" x2="113.7" y2="317.2" stroke="#333" stroke-width="0.7" />
<text transform="translate(113.7,324.1) scale(0.926,1)" font-size="8.32" text-anchor="middle" fill="#1a1a1a" stroke="#1a1a1a" stroke-width="0.22" >0.25</text>
<line x1="159.7" y1="315" x2="159.7" y2="317.2" stroke="#333" stroke-width="0.7" />
<text transform="translate(159.7,324.1) scale(0.926,1)" font-size="8.32" text-anchor="middle" fill="#1a1a1a" stroke="#1a1a1a" stroke-width="0.22" >0.50</text>
<line x1="205.7" y1="315" x2="205.7" y2="317.2" stroke="#333" stroke-width="0.7" />
<text transform="translate(205.7,324.1) scale(0.926,1)" font-size="8.32" text-anchor="middle" fill="#1a1a1a" stroke="#1a1a1a" stroke-width="0.22" >0.75</text>
<line x1="251.7" y1="315" x2="251.7" y2="317.2" stroke="#333" stroke-width="0.7" />
<text transform="translate(251.7,324.1) scale(0.926,1)" font-size="8.32" text-anchor="middle" fill="#1a1a1a" stroke="#1a1a1a" stroke-width="0.22" >1.00</text>
<text transform="translate(169.3,334.8) scale(0.926,1)" font-size="9.72" text-anchor="middle" fill="#1a1a1a" stroke="#1a1a1a" stroke-width="0.22" >Score (probability), CSF</text>
<rect x="265.7" y="182.2" width="180.9" height="132.8" fill="#ebebeb" />
<line x1="276.8" y1="182.2" x2="276.8" y2="315" stroke="#fff" stroke-width="0.55" />
<line x1="323" y1="182.2" x2="323" y2="315" stroke="#fff" stroke-width="0.55" />
<line x1="369.2" y1="182.2" x2="369.2" y2="315" stroke="#fff" stroke-width="0.55" />
<line x1="415.4" y1="182.2" x2="415.4" y2="315" stroke="#fff" stroke-width="0.55" />
<line x1="299.9" y1="182.2" x2="299.9" y2="315" stroke="#fff" stroke-width="1.1" />
<line x1="346.1" y1="182.2" x2="346.1" y2="315" stroke="#fff" stroke-width="1.1" />
<line x1="392.3" y1="182.2" x2="392.3" y2="315" stroke="#fff" stroke-width="1.1" />
<line x1="438.5" y1="182.2" x2="438.5" y2="315" stroke="#fff" stroke-width="1.1" />
<line x1="265.7" y1="207.8" x2="446.6" y2="207.8" stroke="#fff" stroke-width="1.1" />
<line x1="265.7" y1="248.4" x2="446.6" y2="248.4" stroke="#fff" stroke-width="1.1" />
<line x1="265.7" y1="289.5" x2="446.6" y2="289.5" stroke="#fff" stroke-width="1.1" />
<line x1="297.3" y1="202" x2="330.7" y2="202" stroke="#E69F00" stroke-width="1.0"/>
<line x1="385.4" y1="202" x2="431" y2="202" stroke="#E69F00" stroke-width="0.9"/>
<rect x="330.7" y="196.5" width="54.7" height="11" fill="#fff" stroke="#E69F00" stroke-width="0.9"/>
<line x1="357.2" y1="196.5" x2="357.2" y2="207.5" stroke="#E69F00" stroke-width="1.8"/>
<line x1="287" y1="213.6" x2="337" y2="213.6" stroke="#999999" stroke-width="1.0"/>
<line x1="368" y1="213.6" x2="424.5" y2="213.6" stroke="#999999" stroke-width="0.9"/>
<rect x="337" y="208.1" width="31" height="11" fill="#fff" stroke="#999999" stroke-width="0.9"/>
<line x1="348.7" y1="208.1" x2="348.7" y2="219.1" stroke="#999999" stroke-width="1.8"/>
<line x1="304.2" y1="242.6" x2="337.9" y2="242.6" stroke="#E69F00" stroke-width="1.0"/>
<line x1="377.7" y1="242.6" x2="427.1" y2="242.6" stroke="#E69F00" stroke-width="0.9"/>
<rect x="337.9" y="237.1" width="39.8" height="11" fill="#fff" stroke="#E69F00" stroke-width="0.9"/>
<line x1="357.7" y1="237.1" x2="357.7" y2="248.1" stroke="#E69F00" stroke-width="1.8"/>
<line x1="298.6" y1="254.2" x2="328" y2="254.2" stroke="#999999" stroke-width="1.0"/>
<line x1="362.8" y1="254.2" x2="409" y2="254.2" stroke="#999999" stroke-width="0.9"/>
<rect x="328" y="248.7" width="34.8" height="11" fill="#fff" stroke="#999999" stroke-width="0.9"/>
<line x1="345" y1="248.7" x2="345" y2="259.7" stroke="#999999" stroke-width="1.8"/>
<line x1="312.7" y1="283.7" x2="342.3" y2="283.7" stroke="#E69F00" stroke-width="1.0"/>
<line x1="378.8" y1="283.7" x2="415.5" y2="283.7" stroke="#E69F00" stroke-width="0.9"/>
<rect x="342.3" y="278.2" width="36.5" height="11" fill="#fff" stroke="#E69F00" stroke-width="0.9"/>
<line x1="359.7" y1="278.2" x2="359.7" y2="289.2" stroke="#E69F00" stroke-width="1.8"/>
<line x1="302.4" y1="295.3" x2="330" y2="295.3" stroke="#999999" stroke-width="1.0"/>
<line x1="358" y1="295.3" x2="389.8" y2="295.3" stroke="#999999" stroke-width="0.9"/>
<rect x="330" y="289.8" width="28" height="11" fill="#fff" stroke="#999999" stroke-width="0.9"/>
<line x1="345" y1="289.8" x2="345" y2="300.8" stroke="#999999" stroke-width="1.8"/>
<circle cx="381" cy="287.7" class="g"/>
<circle cx="339.3" cy="218.9" class="g"/>
<circle cx="359.3" cy="289.2" class="o"/>
<circle cx="357.2" cy="215" class="g"/>
<circle cx="313.1" cy="214" class="g"/>
<circle cx="369" cy="219.7" class="g"/>
<circle cx="345.6" cy="220.6" class="g"/>
<circle cx="357.3" cy="274" class="o"/>
<circle cx="311.7" cy="253.6" class="g"/>
<circle cx="387.5" cy="255.5" class="g"/>
<circle cx="328" cy="239.3" class="o"/>
<circle cx="341.4" cy="208.4" class="g"/>
<circle cx="341.9" cy="206.7" class="g"/>
<circle cx="358.5" cy="285.7" class="o"/>
<circle cx="375.9" cy="261.3" class="g"/>
<circle cx="352.2" cy="252.9" class="g"/>
<circle cx="320.7" cy="289.3" class="g"/>
<circle cx="338.1" cy="293.7" class="g"/>
<circle cx="321.3" cy="302.9" class="g"/>
<circle cx="327.8" cy="248.2" class="g"/>
<circle cx="347.7" cy="253" class="g"/>
<circle cx="366.4" cy="284.4" class="o"/>
<circle cx="302.9" cy="205.7" class="g"/>
<circle cx="331" cy="264.9" class="g"/>
<circle cx="366.9" cy="251.7" class="g"/>
<circle cx="357.2" cy="301.3" class="g"/>
<circle cx="373.8" cy="290.9" class="g"/>
<circle cx="325.8" cy="302.5" class="g"/>
<circle cx="340.4" cy="294.5" class="g"/>
<circle cx="382.8" cy="290.9" class="g"/>
<circle cx="335.5" cy="281.6" class="o"/>
<circle cx="355.9" cy="220.8" class="g"/>
<circle cx="332.3" cy="291.5" class="g"/>
<circle cx="401.7" cy="188" class="o"/>
<circle cx="365.4" cy="238.2" class="o"/>
<circle cx="336.2" cy="301.4" class="g"/>
<circle cx="311.9" cy="264.7" class="g"/>
<circle cx="357.8" cy="306.3" class="g"/>
<circle cx="385.1" cy="206.2" class="g"/>
<circle cx="349.2" cy="278.2" class="o"/>
<circle cx="369.5" cy="254.1" class="g"/>
<circle cx="399" cy="191.6" class="o"/>
<circle cx="359.9" cy="192.1" class="o"/>
<circle cx="377.2" cy="264.9" class="g"/>
<circle cx="359.9" cy="266.2" class="g"/>
<circle cx="310.3" cy="205.3" class="o"/>
<circle cx="330.6" cy="292.9" class="g"/>
<circle cx="400.9" cy="200.1" class="o"/>
<circle cx="304.3" cy="300" class="g"/>
<circle cx="323.9" cy="260" class="g"/>
<circle cx="360.8" cy="207.4" class="g"/>
<circle cx="327.5" cy="209.9" class="g"/>
<circle cx="359.2" cy="302" class="g"/>
<circle cx="401.7" cy="244.5" class="o"/>
<circle cx="357.5" cy="239.6" class="o"/>
<circle cx="397.9" cy="223.6" class="g"/>
<circle cx="331.8" cy="206" class="g"/>
<circle cx="335.1" cy="297.6" class="g"/>
<circle cx="332.8" cy="231.4" class="o"/>
<circle cx="401.4" cy="284.9" class="o"/>
<circle cx="347.5" cy="245.1" class="g"/>
<circle cx="338.8" cy="302.6" class="g"/>
<circle cx="360.8" cy="222.2" class="g"/>
<circle cx="336.6" cy="259.9" class="g"/>
<circle cx="324.7" cy="218" class="g"/>
<circle cx="338.7" cy="278.7" class="o"/>
<circle cx="350.9" cy="302.4" class="g"/>
<circle cx="353.3" cy="256.4" class="g"/>
<circle cx="347.7" cy="222" class="g"/>
<circle cx="381.7" cy="203" class="o"/>
<circle cx="323.2" cy="285.5" class="g"/>
<circle cx="331.5" cy="260" class="g"/>
<circle cx="338.2" cy="212.7" class="g"/>
<circle cx="368.5" cy="302.5" class="g"/>
<circle cx="414.8" cy="213.2" class="g"/>
<circle cx="361.3" cy="265.1" class="g"/>
<circle cx="343.3" cy="210.3" class="g"/>
<circle cx="330.5" cy="252.2" class="g"/>
<circle cx="343.3" cy="241.2" class="o"/>
<circle cx="371.6" cy="265.3" class="g"/>
<circle cx="313.5" cy="293.9" class="g"/>
<circle cx="340.1" cy="288.2" class="g"/>
<circle cx="327.8" cy="254" class="g"/>
<circle cx="360" cy="286.4" class="o"/>
<circle cx="352.2" cy="213.6" class="g"/>
<circle cx="314.1" cy="305.1" class="g"/>
<circle cx="355.8" cy="230.5" class="o"/>
<circle cx="374.6" cy="289.4" class="g"/>
<circle cx="329.6" cy="299.2" class="g"/>
<circle cx="326.7" cy="296.8" class="g"/>
<circle cx="325.5" cy="259" class="g"/>
<circle cx="345" cy="199.1" class="o"/>
<circle cx="344.8" cy="206.2" class="g"/>
<circle cx="317.3" cy="210.8" class="g"/>
<circle cx="413.8" cy="193" class="o"/>
<circle cx="388.2" cy="219.4" class="g"/>
<circle cx="300.1" cy="208.3" class="g"/>
<circle cx="348.8" cy="263.1" class="g"/>
<circle cx="357" cy="302.9" class="g"/>
<circle cx="357.7" cy="208.5" class="g"/>
<circle cx="360.9" cy="205.5" class="o"/>
<circle cx="347.7" cy="300.2" class="g"/>
<circle cx="341.6" cy="225.6" class="g"/>
<circle cx="379.9" cy="232" class="o"/>
<circle cx="332.4" cy="248.9" class="g"/>
<circle cx="311.4" cy="265.6" class="g"/>
<circle cx="351.3" cy="248.9" class="g"/>
<circle cx="336.9" cy="189.7" class="o"/>
<circle cx="367.8" cy="211.9" class="g"/>
<circle cx="344" cy="259.6" class="g"/>
<circle cx="356.9" cy="290.6" class="g"/>
<circle cx="345.1" cy="249.9" class="g"/>
<circle cx="347.3" cy="307.2" class="g"/>
<circle cx="366" cy="209.8" class="g"/>
<circle cx="363.6" cy="238.4" class="o"/>
<circle cx="345.9" cy="206" class="g"/>
<circle cx="375.6" cy="228.9" class="o"/>
<circle cx="345.9" cy="215.3" class="g"/>
<circle cx="346.8" cy="220" class="g"/>
<circle cx="373.6" cy="270.5" class="o"/>
<circle cx="406.3" cy="189.7" class="o"/>
<circle cx="326.8" cy="305.8" class="g"/>
<circle cx="350.5" cy="211.5" class="g"/>
<circle cx="346.1" cy="288.6" class="g"/>
<circle cx="338.8" cy="274.9" class="o"/>
<circle cx="364.9" cy="258.1" class="g"/>
<circle cx="316.7" cy="273.9" class="o"/>
<circle cx="314.6" cy="288.2" class="g"/>
<circle cx="376.8" cy="211.4" class="g"/>
<circle cx="357.1" cy="195.7" class="o"/>
<circle cx="345.7" cy="251" class="g"/>
<circle cx="335.8" cy="210.6" class="g"/>
<circle cx="373.8" cy="288.5" class="o"/>
<circle cx="341.1" cy="205.1" class="g"/>
<circle cx="363" cy="221.1" class="g"/>
<circle cx="361.6" cy="286.5" class="o"/>
<circle cx="346.4" cy="298.2" class="g"/>
<circle cx="326.8" cy="263.5" class="g"/>
<circle cx="336.2" cy="307" class="g"/>
<circle cx="340.4" cy="267.3" class="g"/>
<circle cx="364.3" cy="286" class="g"/>
<circle cx="368.1" cy="288.3" class="g"/>
<circle cx="375.8" cy="277" class="o"/>
<circle cx="369.7" cy="216.1" class="g"/>
<circle cx="326.8" cy="219.5" class="g"/>
<circle cx="348.9" cy="300.4" class="g"/>
<circle cx="383.8" cy="232.4" class="o"/>
<circle cx="388.9" cy="208.3" class="o"/>
<circle cx="355.4" cy="246.7" class="g"/>
<circle cx="338.1" cy="291.8" class="g"/>
<circle cx="324.2" cy="292.2" class="g"/>
<circle cx="368.6" cy="225" class="g"/>
<circle cx="328.9" cy="248.6" class="g"/>
<circle cx="351.2" cy="300" class="g"/>
<circle cx="361.4" cy="292.6" class="g"/>
<circle cx="379.7" cy="208.4" class="g"/>
<circle cx="321.6" cy="263.4" class="g"/>
<circle cx="387.2" cy="226.5" class="g"/>
<circle cx="310.8" cy="218.9" class="g"/>
<circle cx="367.5" cy="254.8" class="g"/>
<circle cx="325.8" cy="206.3" class="g"/>
<circle cx="333.7" cy="293.6" class="g"/>
<circle cx="314.2" cy="292.5" class="g"/>
<circle cx="376.4" cy="286.3" class="g"/>
<circle cx="358.1" cy="233" class="o"/>
<circle cx="352.1" cy="308.3" class="g"/>
<circle cx="354.6" cy="288.4" class="g"/>
<circle cx="340.7" cy="204" class="o"/>
<circle cx="375.1" cy="272.7" class="o"/>
<circle cx="338.8" cy="298.2" class="g"/>
<circle cx="370.8" cy="223.4" class="g"/>
<circle cx="370.4" cy="217" class="g"/>
<circle cx="329.7" cy="213.5" class="g"/>
<circle cx="388.8" cy="267.3" class="g"/>
<circle cx="352.5" cy="252.2" class="g"/>
<circle cx="392.6" cy="244" class="g"/>
<circle cx="348.3" cy="283.8" class="o"/>
<circle cx="394.1" cy="238.2" class="o"/>
<circle cx="333.1" cy="288.6" class="g"/>
<circle cx="326.4" cy="298.7" class="g"/>
<circle cx="321.7" cy="300.3" class="g"/>
<circle cx="363.4" cy="205.4" class="g"/>
<circle cx="371" cy="252" class="g"/>
<circle cx="379.6" cy="299.7" class="g"/>
<circle cx="295.6" cy="207" class="g"/>
<circle cx="414.1" cy="201.2" class="o"/>
<circle cx="372.8" cy="296.9" class="g"/>
<circle cx="327.2" cy="197.8" class="o"/>
<circle cx="340.6" cy="267.4" class="g"/>
<circle cx="345.3" cy="251.1" class="g"/>
<circle cx="344.4" cy="247.3" class="g"/>
<circle cx="363.9" cy="225" class="g"/>
<circle cx="371" cy="306.4" class="g"/>
<circle cx="365.5" cy="261.7" class="g"/>
<circle cx="348" cy="231" class="o"/>
<circle cx="408" cy="224.2" class="g"/>
<circle cx="324.6" cy="245.2" class="o"/>
<circle cx="352.6" cy="256.2" class="g"/>
<circle cx="331.7" cy="252.3" class="g"/>
<circle cx="302.8" cy="244.5" class="g"/>
<circle cx="335.4" cy="242.6" class="o"/>
<circle cx="339.8" cy="208.5" class="g"/>
<circle cx="339.7" cy="256.5" class="g"/>
<circle cx="339.1" cy="250.9" class="g"/>
<circle cx="364.5" cy="205.3" class="o"/>
<circle cx="347.2" cy="218.7" class="g"/>
<circle cx="347.4" cy="210.1" class="g"/>
<circle cx="375.6" cy="204.6" class="o"/>
<circle cx="397.3" cy="193.5" class="o"/>
<circle cx="334.4" cy="295.2" class="g"/>
<circle cx="327.9" cy="252" class="g"/>
<circle cx="323.7" cy="251.9" class="g"/>
<circle cx="361.8" cy="286.2" class="g"/>
<circle cx="384" cy="236.1" class="o"/>
<circle cx="319.7" cy="202.3" class="o"/>
<circle cx="342.6" cy="305.1" class="g"/>
<circle cx="364.1" cy="282.5" class="o"/>
<circle cx="319.8" cy="287.7" class="g"/>
<circle cx="325" cy="259.6" class="g"/>
<circle cx="334.9" cy="293.2" class="g"/>
<circle cx="309.4" cy="265.2" class="g"/>
<circle cx="341.7" cy="216.3" class="g"/>
<circle cx="335.5" cy="300.4" class="g"/>
<circle cx="327.9" cy="255.1" class="g"/>
<circle cx="326.1" cy="260.6" class="g"/>
<circle cx="334.4" cy="233.5" class="o"/>
<circle cx="340" cy="259.5" class="g"/>
<circle cx="334.4" cy="206.5" class="o"/>
<circle cx="372" cy="249.2" class="g"/>
<circle cx="384.3" cy="297.1" class="g"/>
<circle cx="370.4" cy="191.3" class="o"/>
<circle cx="332.6" cy="292.9" class="g"/>
<circle cx="400.3" cy="204.1" class="o"/>
<circle cx="369.4" cy="237.1" class="o"/>
<circle cx="361.3" cy="285.6" class="g"/>
<circle cx="358.7" cy="222.8" class="g"/>
<circle cx="315" cy="300.2" class="g"/>
<circle cx="353.5" cy="216.3" class="g"/>
<circle cx="330.9" cy="288.5" class="o"/>
<circle cx="357.3" cy="221.7" class="g"/>
<circle cx="360.9" cy="291.8" class="g"/>
<circle cx="359.5" cy="234.5" class="o"/>
<circle cx="315.9" cy="288.2" class="g"/>
<circle cx="372.4" cy="223.2" class="g"/>
<circle cx="354.5" cy="308.3" class="g"/>
<circle cx="336" cy="224.9" class="g"/>
<circle cx="345.8" cy="254.6" class="g"/>
<circle cx="357.4" cy="266.8" class="g"/>
<circle cx="351" cy="212.3" class="g"/>
<circle cx="375.9" cy="245.2" class="g"/>
<circle cx="357.7" cy="304.9" class="g"/>
<circle cx="337.7" cy="216.4" class="g"/>
<circle cx="401.6" cy="285.9" class="o"/>
<circle cx="359.4" cy="286.1" class="o"/>
<circle cx="320.8" cy="302.7" class="g"/>
<circle cx="372.4" cy="289.6" class="g"/>
<circle cx="342.4" cy="303.5" class="g"/>
<circle cx="381.7" cy="290.1" class="o"/>
<circle cx="311.4" cy="209.4" class="g"/>
<circle cx="351.8" cy="303.7" class="g"/>
<circle cx="360.4" cy="211.2" class="g"/>
<circle cx="337.3" cy="204.6" class="g"/>
<circle cx="345.2" cy="249.5" class="g"/>
<circle cx="319.4" cy="212.3" class="g"/>
<circle cx="315.5" cy="304.5" class="g"/>
<circle cx="388.4" cy="294.7" class="g"/>
<circle cx="382.2" cy="206.4" class="g"/>
<circle cx="360.2" cy="259.7" class="g"/>
<circle cx="403.9" cy="253" class="g"/>
<circle cx="356.2" cy="246.8" class="g"/>
<circle cx="329.8" cy="289" class="g"/>
<circle cx="303.5" cy="207.3" class="g"/>
<circle cx="328.7" cy="202.2" class="o"/>
<circle cx="387.2" cy="255.1" class="g"/>
<circle cx="343" cy="189.5" class="o"/>
<circle cx="357.4" cy="259.1" class="g"/>
<circle cx="345.1" cy="286.1" class="g"/>
<circle cx="372.5" cy="207.3" class="g"/>
<circle cx="334" cy="215.8" class="g"/>
<circle cx="372" cy="301.5" class="g"/>
<circle cx="367.8" cy="261.4" class="g"/>
<circle cx="340.6" cy="300.4" class="g"/>
<circle cx="306.5" cy="266.5" class="g"/>
<circle cx="347.4" cy="264.2" class="g"/>
<circle cx="362" cy="280.9" class="o"/>
<circle cx="344.7" cy="289.2" class="o"/>
<circle cx="344.9" cy="288.7" class="g"/>
<circle cx="342.9" cy="218.4" class="g"/>
<circle cx="366.4" cy="285.3" class="o"/>
<circle cx="359.3" cy="295.2" class="g"/>
<circle cx="379.4" cy="242.6" class="o"/>
<circle cx="341.7" cy="221.2" class="g"/>
<circle cx="382.4" cy="263.5" class="g"/>
<circle cx="345.8" cy="289.4" class="g"/>
<circle cx="314.6" cy="287.8" class="o"/>
<circle cx="371.2" cy="301.5" class="g"/>
<circle cx="405.7" cy="220.3" class="g"/>
<circle cx="334.2" cy="263.9" class="g"/>
<circle cx="341.3" cy="212.2" class="g"/>
<circle cx="389.6" cy="247.6" class="o"/>
<circle cx="352" cy="225.4" class="g"/>
<circle cx="319.1" cy="258" class="g"/>
<circle cx="331.5" cy="193.7" class="o"/>
<circle cx="415.3" cy="203.8" class="g"/>
<circle cx="342.3" cy="219.5" class="g"/>
<circle cx="380.1" cy="258.5" class="g"/>
<circle cx="374.2" cy="224.2" class="g"/>
<circle cx="349.7" cy="300.4" class="g"/>
<circle cx="396" cy="267.4" class="g"/>
<circle cx="396.7" cy="257.5" class="g"/>
<circle cx="344.9" cy="199.1" class="o"/>
<circle cx="388.1" cy="207.8" class="o"/>
<circle cx="319.7" cy="256" class="g"/>
<circle cx="382.2" cy="215.1" class="g"/>
<circle cx="412.9" cy="225" class="g"/>
<circle cx="392.4" cy="225.2" class="g"/>
<circle cx="319.1" cy="244.4" class="g"/>
<circle cx="338.7" cy="286.9" class="g"/>
<circle cx="329" cy="292.7" class="g"/>
<circle cx="372.1" cy="281" class="o"/>
<circle cx="380.6" cy="225" class="g"/>
<circle cx="319.6" cy="200.3" class="o"/>
<circle cx="386.8" cy="242.1" class="o"/>
<circle cx="338.5" cy="252.5" class="g"/>
<circle cx="331.9" cy="236.9" class="o"/>
<circle cx="337.7" cy="250.3" class="g"/>
<circle cx="361.4" cy="263.5" class="g"/>
<circle cx="353.7" cy="287.6" class="o"/>
<circle cx="340.8" cy="204.3" class="o"/>
<circle cx="343.3" cy="222.1" class="g"/>
<circle cx="319" cy="209.4" class="g"/>
<circle cx="316.6" cy="258.3" class="g"/>
<circle cx="345.1" cy="235.4" class="o"/>
<circle cx="348.7" cy="259.6" class="g"/>
<circle cx="402.8" cy="232.4" class="o"/>
<circle cx="318.5" cy="256.4" class="g"/>
<circle cx="353.7" cy="222.9" class="g"/>
<circle cx="341.4" cy="213.4" class="g"/>
<circle cx="331.4" cy="304.8" class="g"/>
<circle cx="366.3" cy="244.3" class="o"/>
<circle cx="369.8" cy="207.4" class="g"/>
<circle cx="372.9" cy="293.5" class="g"/>
<circle cx="327.8" cy="287.6" class="g"/>
<circle cx="329.6" cy="305" class="g"/>
<circle cx="408.1" cy="216.7" class="g"/>
<circle cx="357.2" cy="218.5" class="g"/>
<circle cx="352" cy="228.9" class="o"/>
<circle cx="399.1" cy="230.3" class="o"/>
<circle cx="353.4" cy="210.6" class="g"/>
<circle cx="322.7" cy="260.4" class="g"/>
<circle cx="301.9" cy="217.7" class="g"/>
<circle cx="376.5" cy="240.3" class="o"/>
<circle cx="341.1" cy="215.4" class="g"/>
<circle cx="339.2" cy="215.9" class="g"/>
<circle cx="414.5" cy="204.5" class="g"/>
<circle cx="331.9" cy="249.4" class="g"/>
<circle cx="358.5" cy="258.4" class="g"/>
<circle cx="326.6" cy="223.4" class="g"/>
<circle cx="360.9" cy="219.7" class="g"/>
<circle cx="381.7" cy="282.7" class="o"/>
<circle cx="332.4" cy="196.2" class="o"/>
<circle cx="347.1" cy="288" class="o"/>
<circle cx="360" cy="266.6" class="g"/>
<circle cx="337.1" cy="219.4" class="g"/>
<circle cx="323.3" cy="257.5" class="g"/>
<circle cx="339.1" cy="290.7" class="g"/>
<circle cx="322.3" cy="284.6" class="g"/>
<circle cx="346" cy="195.3" class="o"/>
<circle cx="345.1" cy="260" class="g"/>
<circle cx="314.9" cy="216.1" class="g"/>
<circle cx="338.8" cy="215.1" class="g"/>
<circle cx="337.9" cy="210.3" class="g"/>
<circle cx="370.5" cy="246.1" class="g"/>
<circle cx="318.3" cy="202.7" class="o"/>
<circle cx="344.1" cy="254" class="g"/>
<circle cx="309.5" cy="258.7" class="g"/>
<circle cx="332.9" cy="215.3" class="g"/>
<circle cx="405.9" cy="225.7" class="g"/>
<circle cx="340.2" cy="223.9" class="g"/>
<circle cx="350.9" cy="254.6" class="g"/>
<circle cx="362.1" cy="203.1" class="g"/>
<circle cx="315.5" cy="297.5" class="g"/>
<circle cx="381.3" cy="275.9" class="o"/>
<circle cx="361.9" cy="216.7" class="g"/>
<circle cx="328.8" cy="244.4" class="g"/>
<circle cx="357.9" cy="281.8" class="o"/>
<circle cx="370.9" cy="205.6" class="o"/>
<circle cx="342.3" cy="262.7" class="g"/>
<circle cx="338.1" cy="246.9" class="o"/>
<circle cx="314.3" cy="258.1" class="g"/>
<circle cx="319.1" cy="239.8" class="o"/>
<circle cx="384.7" cy="193" class="o"/>
<circle cx="362" cy="255.1" class="g"/>
<circle cx="367.2" cy="284.8" class="g"/>
<circle cx="351.8" cy="286.6" class="g"/>
<circle cx="367" cy="264.1" class="g"/>
<circle cx="366" cy="255.5" class="g"/>
<circle cx="298.9" cy="203.3" class="g"/>
<circle cx="362" cy="254.4" class="g"/>
<circle cx="323.6" cy="252.5" class="g"/>
<circle cx="343.2" cy="250.2" class="g"/>
<circle cx="364.9" cy="224.8" class="g"/>
<circle cx="324.4" cy="302" class="g"/>
<circle cx="384.9" cy="194.3" class="o"/>
<circle cx="368.6" cy="249.6" class="g"/>
<circle cx="344.6" cy="263.8" class="g"/>
<circle cx="301.4" cy="266.3" class="g"/>
<circle cx="333" cy="286.7" class="g"/>
<circle cx="364.8" cy="205.7" class="g"/>
<circle cx="318" cy="306.9" class="g"/>
<circle cx="384.2" cy="205.3" class="o"/>
<circle cx="331.5" cy="289.7" class="g"/>
<circle cx="340" cy="291.7" class="g"/>
<circle cx="311.4" cy="285.8" class="g"/>
<circle cx="408.8" cy="204.2" class="o"/>
<circle cx="375" cy="248.1" class="o"/>
<circle cx="346.8" cy="249.2" class="g"/>
<circle cx="338.9" cy="291.9" class="g"/>
<circle cx="323.5" cy="249.5" class="g"/>
<circle cx="335" cy="293.8" class="g"/>
<circle cx="322.1" cy="246.7" class="g"/>
<circle cx="360.3" cy="294.3" class="g"/>
<circle cx="361.2" cy="203" class="g"/>
<circle cx="379.4" cy="247.6" class="o"/>
<circle cx="342" cy="222" class="g"/>
<circle cx="346.8" cy="260.7" class="g"/>
<circle cx="332.6" cy="204.7" class="g"/>
<circle cx="353" cy="248.9" class="g"/>
<circle cx="329.4" cy="282.3" class="o"/>
<circle cx="344.1" cy="192" class="o"/>
<circle cx="393.8" cy="193.7" class="o"/>
<circle cx="370.7" cy="251.5" class="g"/>
<circle cx="380.6" cy="205.2" class="g"/>
<circle cx="348.9" cy="256.1" class="g"/>
<circle cx="326.4" cy="307.8" class="g"/>
<circle cx="336.3" cy="263" class="g"/>
<circle cx="307.4" cy="204.7" class="o"/>
<circle cx="362.6" cy="300.3" class="g"/>
<circle cx="359.1" cy="302.7" class="g"/>
<circle cx="321.9" cy="246.2" class="g"/>
<circle cx="371.4" cy="286.6" class="g"/>
<circle cx="350.5" cy="246.5" class="g"/>
<circle cx="362.1" cy="255.8" class="g"/>
<circle cx="368.7" cy="262.5" class="g"/>
<circle cx="316.1" cy="260.1" class="g"/>
<circle cx="344.3" cy="205.5" class="g"/>
<circle cx="322.7" cy="306.7" class="g"/>
<circle cx="420.8" cy="209.2" class="g"/>
<circle cx="318.1" cy="216" class="g"/>
<circle cx="332.6" cy="243" class="o"/>
<circle cx="357" cy="213.9" class="g"/>
<circle cx="358.1" cy="265.2" class="g"/>
<circle cx="338.4" cy="300.9" class="g"/>
<circle cx="358.5" cy="303.4" class="g"/>
<circle cx="346.5" cy="234.3" class="o"/>
<circle cx="345.4" cy="301.7" class="g"/>
<circle cx="316.5" cy="206.8" class="g"/>
<circle cx="340" cy="295.4" class="g"/>
<circle cx="327.6" cy="303.9" class="g"/>
<circle cx="335.7" cy="214.6" class="g"/>
<circle cx="330.6" cy="265.7" class="g"/>
<circle cx="353.7" cy="255" class="g"/>
<circle cx="325.2" cy="257.2" class="g"/>
<circle cx="359" cy="287.1" class="g"/>
<circle cx="350.4" cy="251.9" class="g"/>
<circle cx="324" cy="244" class="g"/>
<circle cx="361.4" cy="291.2" class="g"/>
<circle cx="328.5" cy="263.5" class="g"/>
<circle cx="390.2" cy="215.4" class="g"/>
<circle cx="344.5" cy="260" class="g"/>
<circle cx="311.3" cy="203.7" class="g"/>
<circle cx="334" cy="251.3" class="g"/>
<circle cx="404" cy="277.7" class="o"/>
<circle cx="329" cy="246" class="g"/>
<circle cx="388.8" cy="235.9" class="o"/>
<circle cx="389.7" cy="224.8" class="g"/>
<circle cx="338.2" cy="210.4" class="g"/>
<circle cx="354" cy="289.3" class="g"/>
<circle cx="347.8" cy="307.2" class="g"/>
<circle cx="386.6" cy="188.5" class="o"/>
<circle cx="375.5" cy="301.5" class="g"/>
<circle cx="327.7" cy="263.5" class="g"/>
<circle cx="320.7" cy="233.1" class="o"/>
<circle cx="308" cy="217.2" class="g"/>
<circle cx="381.4" cy="275.8" class="o"/>
<circle cx="336.1" cy="269.8" class="o"/>
<circle cx="339.9" cy="222.7" class="g"/>
<circle cx="338.1" cy="292.3" class="g"/>
<circle cx="345.9" cy="296.3" class="g"/>
<circle cx="348.1" cy="247.3" class="g"/>
<circle cx="345.2" cy="291" class="g"/>
<circle cx="336.6" cy="297.1" class="g"/>
<circle cx="378.3" cy="226.1" class="g"/>
<circle cx="380.7" cy="255.6" class="g"/>
<circle cx="393.2" cy="209.7" class="g"/>
<circle cx="330" cy="232" class="o"/>
<circle cx="322.1" cy="288.5" class="g"/>
<circle cx="321.9" cy="308.2" class="g"/>
<circle cx="330.6" cy="295.4" class="g"/>
<circle cx="349" cy="290.7" class="g"/>
<circle cx="343.3" cy="300.8" class="g"/>
<circle cx="326.5" cy="305.7" class="g"/>
<circle cx="347.9" cy="215" class="g"/>
<circle cx="369.5" cy="211.5" class="g"/>
<circle cx="340.9" cy="289.4" class="g"/>
<circle cx="329.1" cy="216.1" class="g"/>
<circle cx="416.2" cy="206.3" class="g"/>
<circle cx="331.3" cy="287.6" class="g"/>
<circle cx="328.1" cy="213.7" class="g"/>
<circle cx="344.2" cy="291.3" class="g"/>
<circle cx="353" cy="229.3" class="o"/>
<circle cx="387.3" cy="223.7" class="g"/>
<circle cx="309.2" cy="244.6" class="g"/>
<circle cx="303.5" cy="195.6" class="o"/>
<circle cx="424.8" cy="240.9" class="o"/>
<circle cx="382.7" cy="203.9" class="g"/>
<circle cx="361" cy="264.4" class="g"/>
<circle cx="394.6" cy="276.9" class="o"/>
<circle cx="335" cy="294.3" class="g"/>
<circle cx="358.5" cy="203.5" class="g"/>
<circle cx="340.6" cy="249.7" class="g"/>
<circle cx="367" cy="205" class="g"/>
<circle cx="312.6" cy="305.6" class="g"/>
<circle cx="323.4" cy="264.8" class="g"/>
<circle cx="398.5" cy="206" class="o"/>
<circle cx="363.3" cy="290.8" class="g"/>
<circle cx="370.4" cy="277.1" class="o"/>
<circle cx="346.8" cy="262.4" class="g"/>
<circle cx="373.2" cy="206.1" class="g"/>
<circle cx="325.7" cy="241.6" class="o"/>
<circle cx="349.5" cy="267.3" class="g"/>
<circle cx="326.1" cy="209.4" class="g"/>
<circle cx="380" cy="298.4" class="g"/>
<circle cx="307.9" cy="298.4" class="g"/>
<circle cx="317" cy="284.4" class="o"/>
<circle cx="382.9" cy="270.6" class="o"/>
<circle cx="338.3" cy="284.5" class="g"/>
<circle cx="360.3" cy="203.7" class="g"/>
<circle cx="337.8" cy="191.1" class="o"/>
<circle cx="355.3" cy="287.1" class="g"/>
<circle cx="350.9" cy="259.2" class="g"/>
<circle cx="366.1" cy="207.7" class="o"/>
<circle cx="321" cy="256.7" class="g"/>
<circle cx="372.4" cy="277.8" class="o"/>
<circle cx="321.8" cy="258.9" class="g"/>
<circle cx="390.9" cy="241.6" class="o"/>
<circle cx="355.4" cy="209.6" class="g"/>
<circle cx="339" cy="270.1" class="o"/>
<circle cx="315.3" cy="264.2" class="g"/>
<circle cx="376.9" cy="252.1" class="g"/>
<circle cx="364.9" cy="274.8" class="o"/>
<circle cx="389" cy="270.2" class="o"/>
<circle cx="324.9" cy="289.7" class="g"/>
<circle cx="352" cy="290.3" class="g"/>
<circle cx="333.2" cy="240" class="o"/>
<circle cx="359.2" cy="303.6" class="g"/>
<circle cx="335.6" cy="238" class="o"/>
<circle cx="398.7" cy="240.5" class="o"/>
<circle cx="367" cy="249.4" class="o"/>
<circle cx="327.3" cy="263.2" class="g"/>
<circle cx="354.4" cy="222.1" class="g"/>
<circle cx="338.7" cy="219.1" class="g"/>
<circle cx="348" cy="307.9" class="g"/>
<circle cx="346.4" cy="262.8" class="g"/>
<circle cx="376.4" cy="285.3" class="g"/>
<circle cx="340.1" cy="263.4" class="g"/>
<circle cx="355.9" cy="307.5" class="g"/>
<circle cx="357.1" cy="222.6" class="g"/>
<circle cx="335.4" cy="305.2" class="g"/>
<circle cx="309.3" cy="220.8" class="g"/>
<circle cx="356.3" cy="263.8" class="g"/>
<circle cx="322.1" cy="260.2" class="g"/>
<circle cx="346.6" cy="203.5" class="g"/>
<circle cx="345.2" cy="296.4" class="g"/>
<circle cx="358.2" cy="290.1" class="g"/>
<circle cx="312.3" cy="224.3" class="g"/>
<circle cx="347.6" cy="252.6" class="g"/>
<circle cx="365.3" cy="211.3" class="g"/>
<circle cx="330.3" cy="276.3" class="o"/>
<circle cx="356.7" cy="266.6" class="g"/>
<circle cx="334.9" cy="209" class="g"/>
<circle cx="342.9" cy="247" class="o"/>
<circle cx="378" cy="208.4" class="g"/>
<circle cx="338.3" cy="213.7" class="g"/>
<circle cx="345.6" cy="265.2" class="g"/>
<circle cx="350.8" cy="294.7" class="g"/>
<circle cx="361.6" cy="295.4" class="g"/>
<circle cx="329.4" cy="193.7" class="o"/>
<circle cx="363" cy="303.2" class="g"/>
<circle cx="368.2" cy="194.4" class="o"/>
<circle cx="339.9" cy="203.4" class="g"/>
<line x1="299.9" y1="315" x2="299.9" y2="317.2" stroke="#333" stroke-width="0.7" />
<text transform="translate(299.9,324.1) scale(0.926,1)" font-size="8.32" text-anchor="middle" fill="#1a1a1a" stroke="#1a1a1a" stroke-width="0.22" >0.25</text>
<line x1="346.1" y1="315" x2="346.1" y2="317.2" stroke="#333" stroke-width="0.7" />
<text transform="translate(346.1,324.1) scale(0.926,1)" font-size="8.32" text-anchor="middle" fill="#1a1a1a" stroke="#1a1a1a" stroke-width="0.22" >0.50</text>
<line x1="392.3" y1="315" x2="392.3" y2="317.2" stroke="#333" stroke-width="0.7" />
<text transform="translate(392.3,324.1) scale(0.926,1)" font-size="8.32" text-anchor="middle" fill="#1a1a1a" stroke="#1a1a1a" stroke-width="0.22" >0.75</text>
<line x1="438.5" y1="315" x2="438.5" y2="317.2" stroke="#333" stroke-width="0.7" />
<text transform="translate(438.5,324.1) scale(0.926,1)" font-size="8.32" text-anchor="middle" fill="#1a1a1a" stroke="#1a1a1a" stroke-width="0.22" >1.00</text>
<text transform="translate(356.1,334.8) scale(0.926,1)" font-size="9.72" text-anchor="middle" fill="#1a1a1a" stroke="#1a1a1a" stroke-width="0.22" >Score (probability), PET</text>
<text transform="translate(74.1,196.2) scale(0.926,1)" font-size="9.72" text-anchor="end" fill="#1a1a1a" stroke="#1a1a1a" stroke-width="0.22" >Demographics+</text>
<text transform="translate(74.1,205.8) scale(0.926,1)" font-size="9.72" text-anchor="end" fill="#1a1a1a" stroke="#1a1a1a" stroke-width="0.22" >APOE4+</text>
<text transform="translate(74.1,215.3) scale(0.926,1)" font-size="9.72" text-anchor="end" fill="#1a1a1a" stroke="#1a1a1a" stroke-width="0.22" >Neuropsychology+</text>
<text transform="translate(74.1,224.8) scale(0.926,1)" font-size="9.72" text-anchor="end" fill="#1a1a1a" stroke="#1a1a1a" stroke-width="0.22" >MRI</text>
<text transform="translate(74.1,241.7) scale(0.926,1)" font-size="9.72" text-anchor="end" fill="#1a1a1a" stroke="#1a1a1a" stroke-width="0.22" >Demographics+</text>
<text transform="translate(74.1,251.2) scale(0.926,1)" font-size="9.72" text-anchor="end" fill="#1a1a1a" stroke="#1a1a1a" stroke-width="0.22" >APOE4+</text>
<text transform="translate(74.1,260.8) scale(0.926,1)" font-size="9.72" text-anchor="end" fill="#1a1a1a" stroke="#1a1a1a" stroke-width="0.22" >Neuropsychology</text>
<text transform="translate(74.1,288.3) scale(0.926,1)" font-size="9.72" text-anchor="end" fill="#1a1a1a" stroke="#1a1a1a" stroke-width="0.22" >Demographics+</text>
<text transform="translate(74.1,297.9) scale(0.926,1)" font-size="9.72" text-anchor="end" fill="#1a1a1a" stroke="#1a1a1a" stroke-width="0.22" >APOE4</text>
<line x1="75" y1="207" x2="78.4" y2="207" stroke="#333" stroke-width="0.7" />
<line x1="75" y1="248" x2="78.4" y2="248" stroke="#333" stroke-width="0.7" />
<line x1="75" y1="289" x2="78.4" y2="289" stroke="#333" stroke-width="0.7" />
<rect x="99.5" y="347.8" width="12" height="11.2" fill="#f2f2f2" />
<line x1="105.5" y1="348.4" x2="105.5" y2="358.4" stroke="#999999" stroke-width="0.9"/>
<rect x="101" y="350.2" width="9" height="6.4" fill="#fff" stroke="#999999" stroke-width="0.9"/>
<line x1="101" y1="353.4" x2="110" y2="353.4" stroke="#999999" stroke-width="1.2" />
<circle cx="105.5" cy="353.4" r="1.5" fill="none" stroke="#999999" stroke-width="0.75"/>
<text transform="translate(114.2,355.8) scale(0.926,1)" font-size="9.72" text-anchor="start" fill="#1a1a1a" stroke="#1a1a1a" stroke-width="0.22" >A&#946;-Stable</text>
<rect x="160.2" y="347.8" width="12" height="11.2" fill="#f2f2f2" />
<line x1="166.2" y1="348.4" x2="166.2" y2="358.4" stroke="#E69F00" stroke-width="0.9"/>
<rect x="161.7" y="350.2" width="9" height="6.4" fill="#fff" stroke="#E69F00" stroke-width="0.9"/>
<line x1="161.7" y1="353.4" x2="170.7" y2="353.4" stroke="#E69F00" stroke-width="1.2" />
<circle cx="166.2" cy="353.4" r="1.5" fill="none" stroke="#E69F00" stroke-width="0.75"/>
<text transform="translate(178,355.8) scale(0.926,1)" font-size="9.72" text-anchor="start" fill="#1a1a1a" stroke="#1a1a1a" stroke-width="0.22" >A&#946;-Converter</text>
<rect x="544" y="0" width="226.6" height="164.3" fill="#ebebeb" />
<line x1="581.9" y1="0" x2="581.9" y2="164.3" stroke="#fff" stroke-width="0.55" />
<line x1="636.2" y1="0" x2="636.2" y2="164.3" stroke="#fff" stroke-width="0.55" />
<line x1="690.5" y1="0" x2="690.5" y2="164.3" stroke="#fff" stroke-width="0.55" />
<line x1="744.8" y1="0" x2="744.8" y2="164.3" stroke="#fff" stroke-width="0.55" />
<line x1="544" y1="134.4" x2="770.6" y2="134.4" stroke="#fff" stroke-width="0.55" />
<line x1="544" y1="92.3" x2="770.6" y2="92.3" stroke="#fff" stroke-width="0.55" />
<line x1="544" y1="50.1" x2="770.6" y2="50.1" stroke="#fff" stroke-width="0.55" />
<line x1="544" y1="7.9" x2="770.6" y2="7.9" stroke="#fff" stroke-width="0.55" />
<line x1="554.8" y1="0" x2="554.8" y2="164.3" stroke="#fff" stroke-width="1.1" />
<line x1="609.1" y1="0" x2="609.1" y2="164.3" stroke="#fff" stroke-width="1.1" />
<line x1="663.4" y1="0" x2="663.4" y2="164.3" stroke="#fff" stroke-width="1.1" />
<line x1="717.7" y1="0" x2="717.7" y2="164.3" stroke="#fff" stroke-width="1.1" />
<line x1="544" y1="155.5" x2="770.6" y2="155.5" stroke="#fff" stroke-width="1.1" />
<line x1="544" y1="113.3" x2="770.6" y2="113.3" stroke="#fff" stroke-width="1.1" />
<line x1="544" y1="71.2" x2="770.6" y2="71.2" stroke="#fff" stroke-width="1.1" />
<line x1="544" y1="29" x2="770.6" y2="29" stroke="#fff" stroke-width="1.1" />
<circle cx="573.9" cy="24.7" class="k"/>
<circle cx="603.4" cy="23.4" class="k"/>
<circle cx="624" cy="14.8" class="k"/>
<circle cx="624.9" cy="19.3" class="k"/>
<circle cx="633.9" cy="18.9" class="k"/>
<circle cx="651" cy="10.9" class="k"/>
<circle cx="653.6" cy="23.4" class="k"/>
<circle cx="653.2" cy="25.4" class="k"/>
<circle cx="658.3" cy="27.2" class="k"/>
<circle cx="570" cy="36.2" class="k"/>
<circle cx="578" cy="35.7" class="k"/>
<circle cx="581.2" cy="33.2" class="k"/>
<circle cx="585.4" cy="31.5" class="k"/>
<circle cx="585.1" cy="34.7" class="k"/>
<circle cx="590.6" cy="29.6" class="k"/>
<circle cx="597" cy="30.8" class="k"/>
<circle cx="597.9" cy="33.7" class="k"/>
<circle cx="603.4" cy="34.7" class="k"/>
<circle cx="606.5" cy="35" class="k"/>
<circle cx="579.9" cy="38.3" class="k"/>
<circle cx="584.2" cy="41.1" class="k"/>
<circle cx="588.9" cy="39.2" class="k"/>
<circle cx="573.5" cy="44.3" class="k"/>
<circle cx="576.5" cy="46.9" class="k"/>
<circle cx="579" cy="43.7" class="k"/>
<circle cx="588" cy="45.6" class="k"/>
<circle cx="593.2" cy="44.7" class="k"/>
<circle cx="595.3" cy="46.9" class="k"/>
<circle cx="597.3" cy="50.1" class="k"/>
<circle cx="604.3" cy="42.2" class="k"/>
<circle cx="605" cy="44.3" class="k"/>
<circle cx="610.8" cy="40.9" class="k"/>
<circle cx="610.1" cy="43.7" class="k"/>
<circle cx="614.2" cy="38.3" class="k"/>
<circle cx="619.4" cy="29.8" class="k"/>
<circle cx="622.3" cy="28.9" class="k"/>
<circle cx="618.9" cy="33.2" class="k"/>
<circle cx="620.7" cy="39.2" class="k"/>
<circle cx="619.8" cy="43.7" class="k"/>
<circle cx="626.8" cy="24.4" class="k"/>
<circle cx="629.2" cy="24.4" class="k"/>
<circle cx="627.9" cy="30.2" class="k"/>
<circle cx="631" cy="36" class="k"/>
<circle cx="626.8" cy="38.6" class="k"/>
<circle cx="627.5" cy="41.8" class="k"/>
<circle cx="635.8" cy="31.5" class="k"/>
<circle cx="638.4" cy="24.4" class="k"/>
<circle cx="641" cy="27" class="k"/>
<circle cx="639.7" cy="31.9" class="k"/>
<circle cx="636.5" cy="36" class="k"/>
<circle cx="640.3" cy="36.6" class="k"/>
<circle cx="642.3" cy="38.6" class="k"/>
<circle cx="643.3" cy="41.1" class="k"/>
<circle cx="637.8" cy="41.4" class="k"/>
<circle cx="641" cy="42.4" class="k"/>
<circle cx="644.2" cy="44.7" class="k"/>
<circle cx="648.7" cy="34.4" class="k"/>
<circle cx="651.3" cy="37.5" class="k"/>
<circle cx="653.6" cy="38.6" class="k"/>
<circle cx="648.7" cy="41.4" class="k"/>
<circle cx="658.7" cy="32.4" class="k"/>
<circle cx="658.3" cy="35.7" class="k"/>
<circle cx="650.6" cy="45.6" class="k"/>
<circle cx="652.8" cy="48.8" class="k"/>
<circle cx="580.6" cy="52.1" class="k"/>
<circle cx="583.8" cy="52.1" class="k"/>
<circle cx="587.6" cy="52.1" class="k"/>
<circle cx="593.2" cy="52.4" class="k"/>
<circle cx="593.7" cy="54.6" class="k"/>
<circle cx="598.3" cy="54" class="k"/>
<circle cx="600.9" cy="52.7" class="k"/>
<circle cx="603.1" cy="50.8" class="k"/>
<circle cx="602.2" cy="55.5" class="k"/>
<circle cx="599.8" cy="56.6" class="k"/>
<circle cx="608.2" cy="51.4" class="k"/>
<circle cx="611.4" cy="52.7" class="k"/>
<circle cx="608.8" cy="54.6" class="k"/>
<circle cx="609.5" cy="56.6" class="k"/>
<circle cx="614.6" cy="46.9" class="k"/>
<circle cx="617.2" cy="47.6" class="k"/>
<circle cx="617.8" cy="50.1" class="k"/>
<circle cx="624" cy="47.8" class="k"/>
<circle cx="619.4" cy="54.6" class="k"/>
<circle cx="622.3" cy="54" class="k"/>
<circle cx="618.9" cy="56.6" class="k"/>
<circle cx="636.9" cy="51.4" class="k"/>
<circle cx="639.4" cy="52.7" class="k"/>
<circle cx="636.5" cy="56.6" class="k"/>
<circle cx="644.2" cy="52.7" class="k"/>
<circle cx="648.4" cy="52.4" class="k"/>
<circle cx="655.1" cy="54.6" class="k"/>
<circle cx="659" cy="52.4" class="k"/>
<circle cx="578" cy="58.1" class="k"/>
<circle cx="582.9" cy="59.1" class="k"/>
<circle cx="587.6" cy="59.4" class="k"/>
<circle cx="583.8" cy="63" class="k"/>
<circle cx="587" cy="61.4" class="k"/>
<circle cx="589.6" cy="63.2" class="k"/>
<circle cx="573.9" cy="63.6" class="k"/>
<circle cx="576.5" cy="65.6" class="k"/>
<circle cx="596.6" cy="59.4" class="k"/>
<circle cx="595.3" cy="66.2" class="k"/>
<circle cx="603.7" cy="66.2" class="k"/>
<circle cx="610.1" cy="60.2" class="k"/>
<circle cx="633.5" cy="60.4" class="k"/>
<circle cx="630.4" cy="66.2" class="k"/>
<circle cx="639.7" cy="64.3" class="k"/>
<circle cx="643.3" cy="60.2" class="k"/>
<circle cx="646.1" cy="58.9" class="k"/>
<circle cx="648" cy="58.5" class="k"/>
<circle cx="647.4" cy="61.4" class="k"/>
<circle cx="644.2" cy="65.6" class="k"/>
<circle cx="647.4" cy="66.6" class="k"/>
<circle cx="650" cy="67.1" class="k"/>
<circle cx="653.6" cy="63.6" class="k"/>
<circle cx="654.5" cy="66.8" class="k"/>
<circle cx="621.1" cy="69.4" class="k"/>
<circle cx="578.6" cy="68.8" class="k"/>
<circle cx="677.5" cy="16.5" class="k"/>
<circle cx="665" cy="25.7" class="k"/>
<circle cx="672.4" cy="28" class="k"/>
<circle cx="676.9" cy="29.3" class="k"/>
<circle cx="681.3" cy="26.3" class="k"/>
<circle cx="664.6" cy="36.6" class="k"/>
<circle cx="667.2" cy="42.7" class="k"/>
<circle cx="673.3" cy="44.3" class="k"/>
<circle cx="679.2" cy="46" class="k"/>
<circle cx="687.8" cy="45.2" class="k"/>
<circle cx="693.3" cy="41.4" class="k"/>
<circle cx="701.5" cy="42.2" class="k"/>
<circle cx="712.6" cy="42.2" class="k"/>
<circle cx="717.7" cy="49.5" class="k"/>
<circle cx="739.6" cy="37.5" class="k"/>
<circle cx="743" cy="36.6" class="k"/>
<circle cx="746.5" cy="48.2" class="k"/>
<circle cx="662.5" cy="52.7" class="k"/>
<circle cx="667.9" cy="51.4" class="k"/>
<circle cx="687.1" cy="53.1" class="k"/>
<circle cx="688.7" cy="57.8" class="k"/>
<circle cx="662.1" cy="57.6" class="k"/>
<circle cx="666.3" cy="59.4" class="k"/>
<circle cx="664.6" cy="60.2" class="k"/>
<circle cx="660.8" cy="62.3" class="k"/>
<circle cx="715.7" cy="66.2" class="k"/>
<circle cx="586.3" cy="70.4" class="k"/>
<circle cx="572.9" cy="75" class="k"/>
<circle cx="633.5" cy="72.5" class="k"/>
<circle cx="628.8" cy="78.9" class="k"/>
<circle cx="645.5" cy="71.2" class="k"/>
<circle cx="648.9" cy="73.4" class="k"/>
<circle cx="609.5" cy="72.5" class="k"/>
<circle cx="605.6" cy="75.9" class="k"/>
<circle cx="606.3" cy="81.7" class="k"/>
<circle cx="582.5" cy="76.6" class="k"/>
<circle cx="587" cy="75.5" class="k"/>
<circle cx="591.5" cy="77.9" class="k"/>
<circle cx="592.8" cy="73.7" class="k"/>
<circle cx="596.6" cy="73" class="k"/>
<circle cx="598.6" cy="75" class="k"/>
<circle cx="597.3" cy="77.9" class="k"/>
<circle cx="594.7" cy="76.3" class="k"/>
<circle cx="585.1" cy="79.1" class="k"/>
<circle cx="585.4" cy="81.5" class="k"/>
<circle cx="590.8" cy="81.7" class="k"/>
<circle cx="593.7" cy="82.7" class="k"/>
<circle cx="598.6" cy="83.6" class="k"/>
<circle cx="601.1" cy="83.3" class="k"/>
<circle cx="603.1" cy="85.3" class="k"/>
<circle cx="598.3" cy="87.1" class="k"/>
<circle cx="597.3" cy="84.9" class="k"/>
<circle cx="576.7" cy="81.5" class="k"/>
<circle cx="574.1" cy="84.9" class="k"/>
<circle cx="577.7" cy="85.8" class="k"/>
<circle cx="581.6" cy="85.3" class="k"/>
<circle cx="584.2" cy="87.1" class="k"/>
<circle cx="586.3" cy="87.9" class="k"/>
<circle cx="588.5" cy="86.2" class="k"/>
<circle cx="590.8" cy="85.3" class="k"/>
<circle cx="570.3" cy="88.8" class="k"/>
<circle cx="576.7" cy="91.7" class="k"/>
<circle cx="580.6" cy="94.3" class="k"/>
<circle cx="583.4" cy="93.9" class="k"/>
<circle cx="585.4" cy="94.8" class="k"/>
<circle cx="589.8" cy="91.7" class="k"/>
<circle cx="588" cy="95.2" class="k"/>
<circle cx="594.4" cy="95.8" class="k"/>
<circle cx="601.4" cy="96.5" class="k"/>
<circle cx="573.9" cy="95.6" class="k"/>
<circle cx="571.8" cy="100" class="k"/>
<circle cx="590.2" cy="98.4" class="k"/>
<circle cx="579.9" cy="101.6" class="k"/>
<circle cx="582.5" cy="102.3" class="k"/>
<circle cx="585.1" cy="101" class="k"/>
<circle cx="581.2" cy="104.8" class="k"/>
<circle cx="585.7" cy="103.8" class="k"/>
<circle cx="592.1" cy="102.9" class="k"/>
<circle cx="604.3" cy="104.6" class="k"/>
<circle cx="566.7" cy="106.1" class="k"/>
<circle cx="570.3" cy="109" class="k"/>
<circle cx="575.2" cy="110.2" class="k"/>
<circle cx="586.3" cy="106.8" class="k"/>
<circle cx="587" cy="110" class="k"/>
<circle cx="596.4" cy="112.3" class="k"/>
<circle cx="579" cy="114.1" class="k"/>
<circle cx="615.3" cy="109.3" class="k"/>
<circle cx="588.9" cy="118.3" class="k"/>
<circle cx="585.7" cy="119.6" class="k"/>
<circle cx="585.7" cy="123.1" class="k"/>
<circle cx="569" cy="123.1" class="k"/>
<circle cx="576.1" cy="128.6" class="k"/>
<circle cx="586.3" cy="130.6" class="k"/>
<circle cx="593.2" cy="127.7" class="k"/>
<circle cx="666.1" cy="71.2" class="k"/>
<circle cx="669.9" cy="78.1" class="k"/>
<circle cx="663.5" cy="91.3" class="k"/>
<circle cx="691.1" cy="71.2" class="k"/>
<polygon points="554.8,74.8 565.2,72.1 575.5,69.3 585.9,66.5 596.2,63.5 606.6,60.5 617,57.2 627.3,53.8 637.7,50.2 648,46.5 658.4,42.7 668.8,38.8 679.1,34.9 689.5,31 699.8,27 710.2,23.1 720.6,19.1 730.9,15.1 741.3,11.1 751.6,7.1 762,3 762,25.2 751.6,27.8 741.3,30.3 730.9,33 720.6,35.6 710.2,38.2 699.8,40.8 689.5,43.5 679.1,46.1 668.8,48.8 658.4,51.6 648,54.4 637.7,57.3 627.3,60.3 617,63.5 606.6,66.9 596.2,70.4 585.9,74.1 575.5,77.8 565.2,81.7 554.8,85.6" fill="#999" fill-opacity="0.4"/>
<line x1="554.8" y1="80.2" x2="762" y2="14.1" stroke="#7895dc" stroke-width="1.7" />
<line x1="554.8" y1="164.3" x2="554.8" y2="166.7" stroke="#333" stroke-width="0.7" />
<text transform="translate(554.8,174.4) scale(0.926,1)" font-size="9.29" text-anchor="middle" fill="#4d4d4d" stroke="#4d4d4d" stroke-width="0.22" >0</text>
<line x1="609.1" y1="164.3" x2="609.1" y2="166.7" stroke="#333" stroke-width="0.7" />
<text transform="translate(609.1,174.4) scale(0.926,1)" font-size="9.29" text-anchor="middle" fill="#4d4d4d" stroke="#4d4d4d" stroke-width="0.22" >1000</text>
<line x1="663.4" y1="164.3" x2="663.4" y2="166.7" stroke="#333" stroke-width="0.7" />
<text transform="translate(663.4,174.4) scale(0.926,1)" font-size="9.29" text-anchor="middle" fill="#4d4d4d" stroke="#4d4d4d" stroke-width="0.22" >2000</text>
<line x1="717.7" y1="164.3" x2="717.7" y2="166.7" stroke="#333" stroke-width="0.7" />
<text transform="translate(717.7,174.4) scale(0.926,1)" font-size="9.29" text-anchor="middle" fill="#4d4d4d" stroke="#4d4d4d" stroke-width="0.22" >3000</text>
<line x1="541" y1="155.5" x2="544" y2="155.5" stroke="#333" stroke-width="0.7" />
<text transform="translate(540,158.6) scale(0.926,1)" font-size="9.29" text-anchor="end" fill="#4d4d4d" stroke="#4d4d4d" stroke-width="0.22" >0</text>
<line x1="541" y1="113.3" x2="544" y2="113.3" stroke="#333" stroke-width="0.7" />
<text transform="translate(540,116.4) scale(0.926,1)" font-size="9.29" text-anchor="end" fill="#4d4d4d" stroke="#4d4d4d" stroke-width="0.22" >500</text>
<line x1="541" y1="71.2" x2="544" y2="71.2" stroke="#333" stroke-width="0.7" />
<text transform="translate(540,74.3) scale(0.926,1)" font-size="9.29" text-anchor="end" fill="#4d4d4d" stroke="#4d4d4d" stroke-width="0.22" >1000</text>
<line x1="541" y1="29" x2="544" y2="29" stroke="#333" stroke-width="0.7" />
<text transform="translate(540,32.1) scale(0.926,1)" font-size="9.29" text-anchor="end" fill="#4d4d4d" stroke="#4d4d4d" stroke-width="0.22" >1500</text>
<text transform="translate(768.6,159) scale(0.926,1)" font-size="11.34" text-anchor="end" fill="#1a1a1a" stroke="#1a1a1a" stroke-width="0.22" >R = 0.45(0.35&#8211;0.54)</text>
<text transform="translate(664,185.5) scale(0.926,1)" font-size="9.94" text-anchor="middle" fill="#1a1a1a" stroke="#1a1a1a" stroke-width="0.22" >A&#946;42</text>
<text transform="translate(517.3,91) rotate(-90) scale(0.926,1)" font-size="9.94" text-anchor="middle" fill="#1a1a1a" stroke="#1a1a1a" stroke-width="0.22">Predicted A&#946;42</text>
<rect x="548" y="202.2" width="226.7" height="184.5" fill="#ebebeb" />
<line x1="565.6" y1="202.2" x2="565.6" y2="386.7" stroke="#fff" stroke-width="0.55" />
<line x1="623.1" y1="202.2" x2="623.1" y2="386.7" stroke="#fff" stroke-width="0.55" />
<line x1="680.6" y1="202.2" x2="680.6" y2="386.7" stroke="#fff" stroke-width="0.55" />
<line x1="738.1" y1="202.2" x2="738.1" y2="386.7" stroke="#fff" stroke-width="0.55" />
<line x1="548" y1="349.2" x2="774.7" y2="349.2" stroke="#fff" stroke-width="0.55" />
<line x1="548" y1="307.2" x2="774.7" y2="307.2" stroke="#fff" stroke-width="0.55" />
<line x1="548" y1="265.3" x2="774.7" y2="265.3" stroke="#fff" stroke-width="0.55" />
<line x1="548" y1="223.3" x2="774.7" y2="223.3" stroke="#fff" stroke-width="0.55" />
<line x1="594.4" y1="202.2" x2="594.4" y2="386.7" stroke="#fff" stroke-width="1.1" />
<line x1="651.9" y1="202.2" x2="651.9" y2="386.7" stroke="#fff" stroke-width="1.1" />
<line x1="709.4" y1="202.2" x2="709.4" y2="386.7" stroke="#fff" stroke-width="1.1" />
<line x1="766.9" y1="202.2" x2="766.9" y2="386.7" stroke="#fff" stroke-width="1.1" />
<line x1="548" y1="370.1" x2="774.7" y2="370.1" stroke="#fff" stroke-width="1.1" />
<line x1="548" y1="328.2" x2="774.7" y2="328.2" stroke="#fff" stroke-width="1.1" />
<line x1="548" y1="286.2" x2="774.7" y2="286.2" stroke="#fff" stroke-width="1.1" />
<line x1="548" y1="244.3" x2="774.7" y2="244.3" stroke="#fff" stroke-width="1.1" />
<line x1="548" y1="202.3" x2="774.7" y2="202.3" stroke="#fff" stroke-width="1.1" />
<circle cx="616.7" cy="232.2" class="k"/>
<circle cx="607.7" cy="247.2" class="k"/>
<circle cx="597.3" cy="256.2" class="k"/>
<circle cx="596.4" cy="262.6" class="k"/>
<circle cx="593.3" cy="266.4" class="k"/>
<circle cx="604.9" cy="266.4" class="k"/>
<circle cx="597.3" cy="270.7" class="k"/>
<circle cx="615" cy="269" class="k"/>
<circle cx="634.3" cy="261.8" class="k"/>
<circle cx="639.2" cy="264.1" class="k"/>
<circle cx="646.8" cy="264.6" class="k"/>
<circle cx="643.9" cy="267.6" class="k"/>
<circle cx="637.7" cy="267.2" class="k"/>
<circle cx="633.8" cy="269.9" class="k"/>
<circle cx="622.5" cy="269.5" class="k"/>
<circle cx="625.4" cy="270.3" class="k"/>
<circle cx="610.3" cy="271.9" class="k"/>
<circle cx="607.2" cy="273" class="k"/>
<circle cx="602.2" cy="273.8" class="k"/>
<circle cx="627.1" cy="273" class="k"/>
<circle cx="629.4" cy="273.6" class="k"/>
<circle cx="588.3" cy="275.3" class="k"/>
<circle cx="589.5" cy="277.6" class="k"/>
<circle cx="594.1" cy="278.2" class="k"/>
<circle cx="606.3" cy="278.2" class="k"/>
<circle cx="612.6" cy="277.3" class="k"/>
<circle cx="615.3" cy="277.1" class="k"/>
<circle cx="624.2" cy="276.1" class="k"/>
<circle cx="632.7" cy="277.3" class="k"/>
<circle cx="619.9" cy="279.6" class="k"/>
<circle cx="623.4" cy="281.5" class="k"/>
<circle cx="640.4" cy="278.8" class="k"/>
<circle cx="571" cy="285.4" class="k"/>
<circle cx="590.7" cy="283.4" class="k"/>
<circle cx="592.6" cy="285.2" class="k"/>
<circle cx="586" cy="286.3" class="k"/>
<circle cx="597.6" cy="283.8" class="k"/>
<circle cx="603.7" cy="282.3" class="k"/>
<circle cx="604" cy="285.4" class="k"/>
<circle cx="617.3" cy="284.6" class="k"/>
<circle cx="620.2" cy="286.3" class="k"/>
<circle cx="629.2" cy="282.6" class="k"/>
<circle cx="630.8" cy="284.6" class="k"/>
<circle cx="633.5" cy="284.9" class="k"/>
<circle cx="636.9" cy="284.6" class="k"/>
<circle cx="626.2" cy="286.3" class="k"/>
<circle cx="642.7" cy="284.6" class="k"/>
<circle cx="646.8" cy="282.8" class="k"/>
<circle cx="588.3" cy="289.8" class="k"/>
<circle cx="592.4" cy="289.2" class="k"/>
<circle cx="597" cy="289.8" class="k"/>
<circle cx="606.9" cy="288" class="k"/>
<circle cx="608.6" cy="289.2" class="k"/>
<circle cx="613.4" cy="288.4" class="k"/>
<circle cx="615" cy="289.8" class="k"/>
<circle cx="619.6" cy="289.2" class="k"/>
<circle cx="623" cy="292.1" class="k"/>
<circle cx="629.4" cy="291.9" class="k"/>
<circle cx="636.9" cy="289.8" class="k"/>
<circle cx="638.7" cy="292.1" class="k"/>
<circle cx="645.6" cy="289.8" class="k"/>
<circle cx="660.8" cy="254.2" class="k"/>
<circle cx="697.8" cy="258.5" class="k"/>
<circle cx="662.4" cy="263.9" class="k"/>
<circle cx="665" cy="268.5" class="k"/>
<circle cx="672.1" cy="270.1" class="k"/>
<circle cx="656.2" cy="273.2" class="k"/>
<circle cx="658.2" cy="271.6" class="k"/>
<circle cx="660.8" cy="272.4" class="k"/>
<circle cx="662.4" cy="274.7" class="k"/>
<circle cx="666.5" cy="277" class="k"/>
<circle cx="667.5" cy="280.4" class="k"/>
<circle cx="676.7" cy="280.4" class="k"/>
<circle cx="648.5" cy="286.3" class="k"/>
<circle cx="656.2" cy="283.2" class="k"/>
<circle cx="658.5" cy="284" class="k"/>
<circle cx="668.5" cy="284.7" class="k"/>
<circle cx="671.6" cy="284" class="k"/>
<circle cx="697.8" cy="284.7" class="k"/>
<circle cx="695.2" cy="290.6" class="k"/>
<circle cx="699.8" cy="295.2" class="k"/>
<circle cx="652.3" cy="290.1" class="k"/>
<circle cx="655.4" cy="287.8" class="k"/>
<circle cx="655.4" cy="293.2" class="k"/>
<circle cx="660.1" cy="292.1" class="k"/>
<circle cx="662.4" cy="296.3" class="k"/>
<circle cx="663.9" cy="289.4" class="k"/>
<circle cx="649.3" cy="293.2" class="k"/>
<circle cx="650" cy="295.5" class="k"/>
<circle cx="644.6" cy="294" class="k"/>
<circle cx="641.5" cy="292.4" class="k"/>
<circle cx="640" cy="290.9" class="k"/>
<circle cx="672.4" cy="295.5" class="k"/>
<circle cx="675.2" cy="297.8" class="k"/>
<circle cx="650.8" cy="300.2" class="k"/>
<circle cx="655.4" cy="302.5" class="k"/>
<circle cx="659.3" cy="302.5" class="k"/>
<circle cx="657" cy="297.8" class="k"/>
<circle cx="657.7" cy="295.5" class="k"/>
<circle cx="643.1" cy="303.2" class="k"/>
<circle cx="642.3" cy="305.6" class="k"/>
<circle cx="646.9" cy="305.6" class="k"/>
<circle cx="649.3" cy="304.8" class="k"/>
<circle cx="657.7" cy="306.3" class="k"/>
<circle cx="658.2" cy="308.6" class="k"/>
<circle cx="659.3" cy="307.1" class="k"/>
<circle cx="673.6" cy="306.6" class="k"/>
<circle cx="683.2" cy="304" class="k"/>
<circle cx="748" cy="304" class="k"/>
<circle cx="667.8" cy="316.7" class="k"/>
<circle cx="640.8" cy="317.9" class="k"/>
<circle cx="630.3" cy="293.4" class="k"/>
<circle cx="639.1" cy="289.8" class="k"/>
<circle cx="645.2" cy="291.8" class="k"/>
<circle cx="650.4" cy="291.3" class="k"/>
<circle cx="661.7" cy="290.3" class="k"/>
<circle cx="664.8" cy="288.2" class="k"/>
<circle cx="611.3" cy="293.4" class="k"/>
<circle cx="614.9" cy="291.3" class="k"/>
<circle cx="618.5" cy="297" class="k"/>
<circle cx="621.6" cy="300.6" class="k"/>
<circle cx="624.7" cy="301.6" class="k"/>
<circle cx="627.2" cy="299" class="k"/>
<circle cx="630.8" cy="297" class="k"/>
<circle cx="633.9" cy="300.1" class="k"/>
<circle cx="635.5" cy="302.6" class="k"/>
<circle cx="639.6" cy="298" class="k"/>
<circle cx="642.2" cy="301.6" class="k"/>
<circle cx="643.2" cy="294.9" class="k"/>
<circle cx="656.6" cy="296.5" class="k"/>
<circle cx="658.1" cy="301.6" class="k"/>
<circle cx="660.2" cy="295.9" class="k"/>
<circle cx="662.7" cy="293.4" class="k"/>
<circle cx="612.9" cy="302.6" class="k"/>
<circle cx="623.1" cy="307.2" class="k"/>
<circle cx="626.2" cy="309.8" class="k"/>
<circle cx="630.8" cy="310.8" class="k"/>
<circle cx="633.9" cy="307.8" class="k"/>
<circle cx="636" cy="310.3" class="k"/>
<circle cx="636.5" cy="311.9" class="k"/>
<circle cx="644.2" cy="306.7" class="k"/>
<circle cx="614.4" cy="313.9" class="k"/>
<circle cx="619" cy="311.9" class="k"/>
<circle cx="624.2" cy="314.4" class="k"/>
<circle cx="628.8" cy="316" class="k"/>
<circle cx="624.7" cy="318.9" class="k"/>
<circle cx="628.8" cy="322.2" class="k"/>
<circle cx="628.8" cy="323.7" class="k"/>
<circle cx="608.2" cy="324.4" class="k"/>
<circle cx="621.8" cy="331.9" class="k"/>
<circle cx="606.2" cy="319.1" class="k"/>
<circle cx="574.5" cy="309" class="k"/>
<circle cx="578.5" cy="309.5" class="k"/>
<circle cx="595.5" cy="331" class="k"/>
<circle cx="596.5" cy="328" class="k"/>
<circle cx="586.2" cy="294.5" class="k"/>
<circle cx="603.3" cy="308" class="k"/>
<circle cx="605.2" cy="301" class="k"/>
<circle cx="598" cy="303.1" class="k"/>
<circle cx="589.5" cy="307.5" class="k"/>
<circle cx="585.6" cy="302.5" class="k"/>
<circle cx="600.2" cy="306.6" class="k"/>
<circle cx="595.4" cy="300.1" class="k"/>
<circle cx="592.1" cy="302.5" class="k"/>
<circle cx="596.3" cy="312.7" class="k"/>
<circle cx="584.1" cy="302.3" class="k"/>
<circle cx="600" cy="300.8" class="k"/>
<circle cx="592.1" cy="310.6" class="k"/>
<circle cx="596.7" cy="308.9" class="k"/>
<circle cx="591.8" cy="318.9" class="k"/>
<circle cx="606.3" cy="306.3" class="k"/>
<circle cx="591.6" cy="313.3" class="k"/>
<circle cx="598.6" cy="295.6" class="k"/>
<circle cx="591.5" cy="316.5" class="k"/>
<circle cx="594.3" cy="302.7" class="k"/>
<circle cx="596.6" cy="305.7" class="k"/>
<circle cx="595" cy="286.7" class="k"/>
<circle cx="608.1" cy="308" class="k"/>
<circle cx="588.4" cy="315.8" class="k"/>
<circle cx="599.2" cy="321.9" class="k"/>
<circle cx="582.2" cy="303.3" class="k"/>
<circle cx="604.7" cy="316.4" class="k"/>
<circle cx="599.3" cy="287" class="k"/>
<circle cx="600.8" cy="310.9" class="k"/>
<circle cx="588.8" cy="303.6" class="k"/>
<circle cx="593.1" cy="311.7" class="k"/>
<circle cx="598.8" cy="308.7" class="k"/>
<circle cx="604.2" cy="305" class="k"/>
<circle cx="590.4" cy="310.1" class="k"/>
<circle cx="583.3" cy="295.6" class="k"/>
<circle cx="587.5" cy="308.9" class="k"/>
<circle cx="597.1" cy="301.5" class="k"/>
<circle cx="586" cy="293.1" class="k"/>
<circle cx="601.3" cy="312.6" class="k"/>
<circle cx="603.6" cy="321.6" class="k"/>
<circle cx="609.7" cy="305.9" class="k"/>
<circle cx="603.2" cy="304.3" class="k"/>
<circle cx="582.9" cy="307.2" class="k"/>
<circle cx="591.5" cy="309.2" class="k"/>
<circle cx="605.2" cy="302.5" class="k"/>
<circle cx="588.2" cy="306" class="k"/>
<circle cx="598" cy="286.3" class="k"/>
<circle cx="586.5" cy="319.4" class="k"/>
<circle cx="588.5" cy="291.5" class="k"/>
<circle cx="587.3" cy="317.8" class="k"/>
<circle cx="593.3" cy="317.3" class="k"/>
<circle cx="589.2" cy="295.3" class="k"/>
<circle cx="604.4" cy="306.9" class="k"/>
<circle cx="595" cy="320.9" class="k"/>
<circle cx="581.6" cy="310.3" class="k"/>
<circle cx="586.9" cy="291.7" class="k"/>
<circle cx="588.8" cy="317.7" class="k"/>
<circle cx="593.9" cy="287.3" class="k"/>
<circle cx="586.5" cy="321.6" class="k"/>
<circle cx="602.8" cy="294.9" class="k"/>
<circle cx="585.9" cy="304.6" class="k"/>
<circle cx="602.2" cy="322.5" class="k"/>
<circle cx="602.9" cy="301.6" class="k"/>
<circle cx="590.7" cy="291.1" class="k"/>
<circle cx="596.9" cy="293.1" class="k"/>
<circle cx="591" cy="297" class="k"/>
<circle cx="584.9" cy="311.2" class="k"/>
<circle cx="597.2" cy="320.9" class="k"/>
<circle cx="593.5" cy="303.9" class="k"/>
<circle cx="587.4" cy="297.4" class="k"/>
<circle cx="602.6" cy="306" class="k"/>
<circle cx="593.6" cy="316.1" class="k"/>
<circle cx="593.6" cy="307.9" class="k"/>
<circle cx="599.1" cy="292.8" class="k"/>
<circle cx="587" cy="298.7" class="k"/>
<circle cx="589.6" cy="300.1" class="k"/>
<circle cx="595.3" cy="305.7" class="k"/>
<circle cx="602.5" cy="314.1" class="k"/>
<circle cx="589.3" cy="313.5" class="k"/>
<circle cx="595.9" cy="314.2" class="k"/>
<circle cx="590.2" cy="301.6" class="k"/>
<circle cx="602.5" cy="315.7" class="k"/>
<circle cx="589.1" cy="308.9" class="k"/>
<circle cx="597.8" cy="287.6" class="k"/>
<circle cx="596.1" cy="298.6" class="k"/>
<circle cx="594.5" cy="311.8" class="k"/>
<circle cx="601.2" cy="305.4" class="k"/>
<circle cx="588.4" cy="298.9" class="k"/>
<circle cx="595.4" cy="297.6" class="k"/>
<circle cx="594.7" cy="292.6" class="k"/>
<circle cx="600.6" cy="307.7" class="k"/>
<circle cx="602.2" cy="297.9" class="k"/>
<circle cx="586.2" cy="311.7" class="k"/>
<circle cx="592.2" cy="292.3" class="k"/>
<circle cx="590.9" cy="324" class="k"/>
<circle cx="608.1" cy="313.7" class="k"/>
<circle cx="592.3" cy="296" class="k"/>
<circle cx="592" cy="323" class="k"/>
<circle cx="585.6" cy="307.7" class="k"/>
<circle cx="600.7" cy="316.9" class="k"/>
<circle cx="596.1" cy="302.5" class="k"/>
<circle cx="596.7" cy="324.4" class="k"/>
<circle cx="597.9" cy="291.7" class="k"/>
<circle cx="606.9" cy="308.6" class="k"/>
<circle cx="597.9" cy="300.1" class="k"/>
<circle cx="594.1" cy="300.8" class="k"/>
<circle cx="597.3" cy="307.5" class="k"/>
<circle cx="584" cy="298.5" class="k"/>
<circle cx="601.7" cy="302.4" class="k"/>
<circle cx="605.9" cy="311.3" class="k"/>
<circle cx="585.2" cy="301.3" class="k"/>
<circle cx="594.2" cy="318.6" class="k"/>
<circle cx="594.7" cy="322.7" class="k"/>
<circle cx="591" cy="305.4" class="k"/>
<circle cx="595.7" cy="315.6" class="k"/>
<circle cx="604.6" cy="313.6" class="k"/>
<circle cx="589.1" cy="322" class="k"/>
<circle cx="595.6" cy="310.9" class="k"/>
<circle cx="605.9" cy="303.5" class="k"/>
<circle cx="600.3" cy="293.4" class="k"/>
<circle cx="600.4" cy="296.3" class="k"/>
<circle cx="594.5" cy="296" class="k"/>
<circle cx="591.6" cy="307" class="k"/>
<circle cx="597.5" cy="310.9" class="k"/>
<circle cx="598.3" cy="313" class="k"/>
<circle cx="595.8" cy="317.4" class="k"/>
<circle cx="592.1" cy="320.5" class="k"/>
<circle cx="595.5" cy="308.1" class="k"/>
<circle cx="590.7" cy="312.5" class="k"/>
<circle cx="593.7" cy="290.2" class="k"/>
<circle cx="607.1" cy="312.5" class="k"/>
<circle cx="602" cy="299.1" class="k"/>
<circle cx="594.2" cy="309" class="k"/>
<circle cx="598.8" cy="316.8" class="k"/>
<circle cx="587.5" cy="313.1" class="k"/>
<circle cx="603.9" cy="299.6" class="k"/>
<circle cx="599.8" cy="311.7" class="k"/>
<circle cx="606" cy="315" class="k"/>
<circle cx="597.7" cy="298.1" class="k"/>
<circle cx="603.7" cy="297.1" class="k"/>
<circle cx="582.1" cy="312.5" class="k"/>
<circle cx="593.5" cy="324.2" class="k"/>
<circle cx="588.6" cy="310.1" class="k"/>
<circle cx="607.4" cy="299.3" class="k"/>
<circle cx="602.2" cy="300.3" class="k"/>
<circle cx="604.6" cy="308.7" class="k"/>
<circle cx="588.5" cy="302.4" class="k"/>
<circle cx="609.3" cy="303.9" class="k"/>
<circle cx="601.1" cy="294.8" class="k"/>
<circle cx="599" cy="302.1" class="k"/>
<circle cx="588.9" cy="287.8" class="k"/>
<circle cx="598" cy="315.1" class="k"/>
<circle cx="592.2" cy="315.1" class="k"/>
<circle cx="583.4" cy="308.3" class="k"/>
<circle cx="581.9" cy="301.9" class="k"/>
<circle cx="591.1" cy="295" class="k"/>
<circle cx="593.6" cy="297.7" class="k"/>
<circle cx="613.9" cy="297.3" class="k"/>
<circle cx="610.7" cy="290.4" class="k"/>
<circle cx="611.3" cy="310.8" class="k"/>
<circle cx="614.4" cy="318.5" class="k"/>
<circle cx="610.3" cy="316.5" class="k"/>
<circle cx="611.1" cy="308.8" class="k"/>
<circle cx="613.4" cy="296.1" class="k"/>
<circle cx="614.6" cy="306.5" class="k"/>
<circle cx="605.9" cy="294.1" class="k"/>
<circle cx="609.8" cy="318.6" class="k"/>
<circle cx="613.7" cy="308.9" class="k"/>
<circle cx="605.8" cy="291.7" class="k"/>
<circle cx="610.7" cy="300.7" class="k"/>
<circle cx="602.5" cy="309.5" class="k"/>
<circle cx="611.5" cy="295.6" class="k"/>
<circle cx="612.5" cy="317.9" class="k"/>
<circle cx="610.9" cy="302.2" class="k"/>
<circle cx="614.5" cy="294.4" class="k"/>
<circle cx="600.5" cy="291.9" class="k"/>
<circle cx="608.9" cy="310" class="k"/>
<circle cx="610.4" cy="312.8" class="k"/>
<circle cx="612.5" cy="320.5" class="k"/>
<circle cx="603.4" cy="311.7" class="k"/>
<circle cx="612.6" cy="304.2" class="k"/>
<polygon points="558.5,306.6 569,304.6 579.5,302.5 589.9,300.4 600.4,298.2 610.9,295.9 621.4,293.5 631.8,291.1 642.3,288.6 652.8,286.1 663.2,283.5 673.7,281 684.2,278.4 694.7,275.7 705.1,273.1 715.6,270.5 726.1,267.8 736.6,265.1 747,262.5 757.5,259.8 768,257.1 768,273.3 757.5,275.1 747,276.9 736.6,278.7 726.1,280.6 715.6,282.4 705.1,284.2 694.7,286.1 684.2,288 673.7,289.8 663.2,291.8 652.8,293.7 642.3,295.7 631.8,297.7 621.4,299.7 610.9,301.9 600.4,304.1 589.9,306.4 579.5,308.7 569,311.1 558.5,313.6" fill="#999" fill-opacity="0.4"/>
<line x1="558.5" y1="310.1" x2="768" y2="265.2" stroke="#7895dc" stroke-width="1.7" />
<line x1="594.4" y1="386.7" x2="594.4" y2="389.1" stroke="#333" stroke-width="0.7" />
<text transform="translate(594.4,397) scale(0.926,1)" font-size="9.29" text-anchor="middle" fill="#4d4d4d" stroke="#4d4d4d" stroke-width="0.22" >1.0</text>
<line x1="651.9" y1="386.7" x2="651.9" y2="389.1" stroke="#333" stroke-width="0.7" />
<text transform="translate(651.9,397) scale(0.926,1)" font-size="9.29" text-anchor="middle" fill="#4d4d4d" stroke="#4d4d4d" stroke-width="0.22" >1.5</text>
<line x1="709.4" y1="386.7" x2="709.4" y2="389.1" stroke="#333" stroke-width="0.7" />
<text transform="translate(709.4,397) scale(0.926,1)" font-size="9.29" text-anchor="middle" fill="#4d4d4d" stroke="#4d4d4d" stroke-width="0.22" >2.0</text>
<line x1="766.9" y1="386.7" x2="766.9" y2="389.1" stroke="#333" stroke-width="0.7" />
<text transform="translate(766.9,397) scale(0.926,1)" font-size="9.29" text-anchor="middle" fill="#4d4d4d" stroke="#4d4d4d" stroke-width="0.22" >2.5</text>
<line x1="545" y1="370.1" x2="548" y2="370.1" stroke="#333" stroke-width="0.7" />
<text transform="translate(544,373.2) scale(0.926,1)" font-size="9.29" text-anchor="end" fill="#4d4d4d" stroke="#4d4d4d" stroke-width="0.22" >0.75</text>
<line x1="545" y1="328.2" x2="548" y2="328.2" stroke="#333" stroke-width="0.7" />
<text transform="translate(544,331.3) scale(0.926,1)" font-size="9.29" text-anchor="end" fill="#4d4d4d" stroke="#4d4d4d" stroke-width="0.22" >1.00</text>
<line x1="545" y1="286.2" x2="548" y2="286.2" stroke="#333" stroke-width="0.7" />
<text transform="translate(544,289.4) scale(0.926,1)" font-size="9.29" text-anchor="end" fill="#4d4d4d" stroke="#4d4d4d" stroke-width="0.22" >1.25</text>
<line x1="545" y1="244.3" x2="548" y2="244.3" stroke="#333" stroke-width="0.7" />
<text transform="translate(544,247.4) scale(0.926,1)" font-size="9.29" text-anchor="end" fill="#4d4d4d" stroke="#4d4d4d" stroke-width="0.22" >1.50</text>
<line x1="545" y1="202.3" x2="548" y2="202.3" stroke="#333" stroke-width="0.7" />
<text transform="translate(544,205.4) scale(0.926,1)" font-size="9.29" text-anchor="end" fill="#4d4d4d" stroke="#4d4d4d" stroke-width="0.22" >1.75</text>
<text transform="translate(755,358) scale(0.926,1)" font-size="11.34" text-anchor="end" fill="#1a1a1a" stroke="#1a1a1a" stroke-width="0.22" >R = 0.39(0.3&#8211;0.47)</text>
<text transform="translate(654.7,408.3) scale(0.926,1)" font-size="9.94" text-anchor="middle" fill="#1a1a1a" stroke="#1a1a1a" stroke-width="0.22" >Global SUVR</text>
<text transform="translate(523.3,285.4) rotate(-90) scale(0.926,1)" font-size="9.94" text-anchor="middle" fill="#1a1a1a" stroke="#1a1a1a" stroke-width="0.22">Predicted Global SUVR</text>
<rect x="186.2" y="414.8" width="10.6" height="9.7" fill="#b400b4" />
<rect x="186.2" y="424.2" width="10.6" height="9.7" fill="#e600e6" />
<rect x="186.2" y="433.6" width="10.6" height="9.7" fill="#f400f4" />
<rect x="186.2" y="442.9" width="10.6" height="9.7" fill="#f890d0" />
<rect x="186.2" y="452.3" width="10.6" height="9.7" fill="#10e810" />
<rect x="186.2" y="461.7" width="10.6" height="9.7" fill="#f820f8" />
<rect x="186.2" y="471.1" width="10.6" height="9.7" fill="#f820f8" />
<rect x="186.2" y="480.5" width="10.6" height="9.7" fill="#e2e2e2" />
<rect x="186.2" y="489.9" width="10.6" height="9.7" fill="#ebebeb" />
<rect x="186.2" y="499.2" width="10.6" height="9.7" fill="#fbe8d4" />
<rect x="186.2" y="508.6" width="10.6" height="9.7" fill="#c8e8c0" />
<rect x="186.2" y="518" width="10.6" height="9.7" fill="#e010e0" />
<rect x="186.2" y="527.4" width="10.6" height="9.7" fill="#fcd0bc" />
<rect x="186.2" y="536.8" width="10.6" height="9.7" fill="#d8e0d8" />
<rect x="186.2" y="546.2" width="10.6" height="9.7" fill="#e8e8e8" />
<rect x="186.2" y="555.5" width="10.6" height="9.7" fill="#f448f0" />
<rect x="186.2" y="564.9" width="10.6" height="9.7" fill="#a8e894" />
<rect x="186.2" y="574.3" width="10.6" height="9.7" fill="#fccaa8" />
<rect x="186.2" y="583.7" width="10.6" height="9.7" fill="#40f040" />
<rect x="186.2" y="593.1" width="10.6" height="9.7" fill="#fcf0e0" />
<rect x="186.2" y="602.5" width="10.6" height="9.7" fill="#e8e8e8" />
<rect x="186.2" y="611.8" width="10.6" height="9.7" fill="#f890d0" />
<rect x="186.2" y="621.2" width="10.6" height="9.7" fill="#20f020" />
<rect x="198.5" y="414.8" width="54.3" height="215.8" fill="#fff" stroke="#333" stroke-width="0.9"/>
<rect x="201.7" y="416.8" width="44.1" height="5.8" fill="#808080" stroke="#111" stroke-width="0.6"/>
<text transform="translate(254.5,422.3) scale(0.926,1)" font-size="8.21" text-anchor="start" fill="#000" stroke="#000" stroke-width="0.22" >APOE4</text>
<rect x="201.7" y="426.2" width="29.1" height="5.8" fill="#808080" stroke="#111" stroke-width="0.6"/>
<text transform="translate(254.5,431.7) scale(0.926,1)" font-size="8.21" text-anchor="start" fill="#000" stroke="#000" stroke-width="0.22" >Ventricles</text>
<rect x="201.7" y="435.6" width="18.2" height="5.8" fill="#808080" stroke="#111" stroke-width="0.6"/>
<text transform="translate(254.5,441.1) scale(0.926,1)" font-size="8.21" text-anchor="start" fill="#000" stroke="#000" stroke-width="0.22" >TRABSCOR</text>
<rect x="201.7" y="444.9" width="13.4" height="5.8" fill="#808080" stroke="#111" stroke-width="0.6"/>
<text transform="translate(254.5,450.4) scale(0.926,1)" font-size="8.21" text-anchor="start" fill="#000" stroke="#000" stroke-width="0.22" >AGE</text>
<rect x="201.7" y="454.3" width="11.9" height="5.8" fill="#808080" stroke="#111" stroke-width="0.6"/>
<text transform="translate(254.5,459.8) scale(0.926,1)" font-size="8.21" text-anchor="start" fill="#000" stroke="#000" stroke-width="0.22" >LDELTOTAL</text>
<rect x="201.7" y="463.7" width="10.9" height="5.8" fill="#808080" stroke="#111" stroke-width="0.6"/>
<text transform="translate(254.5,469.2) scale(0.926,1)" font-size="8.21" text-anchor="start" fill="#000" stroke="#000" stroke-width="0.22" >RAVLT_perc_forgetting</text>
<rect x="201.7" y="473.1" width="8.8" height="5.8" fill="#808080" stroke="#111" stroke-width="0.6"/>
<text transform="translate(254.5,478.6) scale(0.926,1)" font-size="8.21" text-anchor="start" fill="#000" stroke="#000" stroke-width="0.22" >FAQ</text>
<rect x="201.7" y="482.5" width="8" height="5.8" fill="#808080" stroke="#111" stroke-width="0.6"/>
<text transform="translate(254.5,488) scale(0.926,1)" font-size="8.21" text-anchor="start" fill="#000" stroke="#000" stroke-width="0.22" >WholeBrain</text>
<rect x="201.7" y="491.9" width="7.1" height="5.8" fill="#808080" stroke="#111" stroke-width="0.6"/>
<text transform="translate(254.5,497.4) scale(0.926,1)" font-size="8.21" text-anchor="start" fill="#000" stroke="#000" stroke-width="0.22" >GENDERMale</text>
<rect x="201.7" y="501.2" width="7.1" height="5.8" fill="#808080" stroke="#111" stroke-width="0.6"/>
<text transform="translate(254.5,506.7) scale(0.926,1)" font-size="8.21" text-anchor="start" fill="#000" stroke="#000" stroke-width="0.22" >GENDERFemale</text>
<rect x="201.7" y="510.6" width="7.1" height="5.8" fill="#808080" stroke="#111" stroke-width="0.6"/>
<text transform="translate(254.5,516.1) scale(0.926,1)" font-size="8.21" text-anchor="start" fill="#000" stroke="#000" stroke-width="0.22" >RAVLT_learning</text>
<rect x="201.7" y="520" width="7.1" height="5.8" fill="#808080" stroke="#111" stroke-width="0.6"/>
<text transform="translate(254.5,525.5) scale(0.926,1)" font-size="8.21" text-anchor="start" fill="#000" stroke="#000" stroke-width="0.22" >CDRSB</text>
<rect x="201.7" y="529.4" width="5.8" height="5.8" fill="#808080" stroke="#111" stroke-width="0.6"/>
<text transform="translate(254.5,534.9) scale(0.926,1)" font-size="8.21" text-anchor="start" fill="#000" stroke="#000" stroke-width="0.22" >Education</text>
<rect x="201.7" y="538.8" width="4.3" height="5.8" fill="#808080" stroke="#111" stroke-width="0.6"/>
<text transform="translate(254.5,544.3) scale(0.926,1)" font-size="8.21" text-anchor="start" fill="#000" stroke="#000" stroke-width="0.22" >Entorhinal</text>
<rect x="201.7" y="548.2" width="4.3" height="5.8" fill="#808080" stroke="#111" stroke-width="0.6"/>
<text transform="translate(254.5,553.6) scale(0.926,1)" font-size="8.21" text-anchor="start" fill="#000" stroke="#000" stroke-width="0.22" >MidTemp</text>
<rect x="201.7" y="557.5" width="3.8" height="5.8" fill="#808080" stroke="#111" stroke-width="0.6"/>
<text transform="translate(254.5,563) scale(0.926,1)" font-size="8.21" text-anchor="start" fill="#000" stroke="#000" stroke-width="0.22" >ADAS13</text>
<rect x="201.7" y="566.9" width="3.8" height="5.8" fill="#808080" stroke="#111" stroke-width="0.6"/>
<text transform="translate(254.5,572.4) scale(0.926,1)" font-size="8.21" text-anchor="start" fill="#000" stroke="#000" stroke-width="0.22" >Fusiform</text>
<rect x="201.7" y="576.3" width="3.8" height="5.8" fill="#808080" stroke="#111" stroke-width="0.6"/>
<text transform="translate(254.5,581.8) scale(0.926,1)" font-size="8.21" text-anchor="start" fill="#000" stroke="#000" stroke-width="0.22" >RAVLT_forgetting</text>
<rect x="201.7" y="585.7" width="2.5" height="5.8" fill="#808080" stroke="#111" stroke-width="0.6"/>
<text transform="translate(254.5,591.2) scale(0.926,1)" font-size="8.21" text-anchor="start" fill="#000" stroke="#000" stroke-width="0.22" >RAVLT_immediate</text>
<rect x="201.7" y="595.1" width="2.5" height="5.8" fill="#808080" stroke="#111" stroke-width="0.6"/>
<text transform="translate(254.5,600.6) scale(0.926,1)" font-size="8.21" text-anchor="start" fill="#000" stroke="#000" stroke-width="0.22" >ICV</text>
<rect x="201.7" y="604.5" width="0.8" height="5.8" fill="#808080" stroke="#111" stroke-width="0.6"/>
<text transform="translate(254.5,609.9) scale(0.926,1)" font-size="8.21" text-anchor="start" fill="#000" stroke="#000" stroke-width="0.22" >Hippocampus</text>
<rect x="201.7" y="613.8" width="0.8" height="5.8" fill="#808080" stroke="#111" stroke-width="0.6"/>
<text transform="translate(254.5,619.3) scale(0.926,1)" font-size="8.21" text-anchor="start" fill="#000" stroke="#000" stroke-width="0.22" >ADASQ4</text>
<rect x="201.7" y="623.2" width="0.8" height="5.8" fill="#808080" stroke="#111" stroke-width="0.6"/>
<text transform="translate(254.5,628.7) scale(0.926,1)" font-size="8.21" text-anchor="start" fill="#000" stroke="#000" stroke-width="0.22" >MMSE</text>
<line x1="203" y1="630.6" x2="203" y2="632.6" stroke="#333" stroke-width="0.7" />
<text transform="translate(205.4,633.6) rotate(-90) scale(0.926,1)" font-size="9.50" text-anchor="end" fill="#000" stroke="#000" stroke-width="0.22">0</text>
<line x1="226.3" y1="630.6" x2="226.3" y2="632.6" stroke="#333" stroke-width="0.7" />
<text transform="translate(228.8,633.6) rotate(-90) scale(0.926,1)" font-size="9.50" text-anchor="end" fill="#000" stroke="#000" stroke-width="0.22">0.5</text>
<line x1="249.7" y1="630.6" x2="249.7" y2="632.6" stroke="#333" stroke-width="0.7" />
<text transform="translate(252.1,633.6) rotate(-90) scale(0.926,1)" font-size="9.50" text-anchor="end" fill="#000" stroke="#000" stroke-width="0.22">1</text>
<text transform="translate(225.7,654.2) scale(0.926,1)" font-size="9.61" text-anchor="middle" fill="#000" stroke="#000" stroke-width="0.22" >Importance</text>
<text transform="translate(194.7,633.8) rotate(-90) scale(0.926,1)" font-size="9.72" text-anchor="end" fill="#000" stroke="#000" stroke-width="0.22">Correlation</text>
<text transform="translate(95.4,407.4) scale(0.926,1)" font-size="11.34" text-anchor="middle" fill="#000" stroke="#000" stroke-width="0.22" >CSF-based model</text>
<rect x="516.1" y="413.3" width="10.9" height="9.7" fill="#f000f0" />
<rect x="516.1" y="422.7" width="10.9" height="9.7" fill="#fcd0b8" />
<rect x="516.1" y="432.1" width="10.9" height="9.7" fill="#b8e8a0" />
<rect x="516.1" y="441.6" width="10.9" height="9.7" fill="#fde8d0" />
<rect x="516.1" y="451" width="10.9" height="9.7" fill="#fcd8b0" />
<rect x="516.1" y="460.4" width="10.9" height="9.7" fill="#fdf0e0" />
<rect x="516.1" y="469.8" width="10.9" height="9.7" fill="#fdf6f0" />
<rect x="516.1" y="479.3" width="10.9" height="9.7" fill="#fce0c0" />
<rect x="516.1" y="488.7" width="10.9" height="9.7" fill="#e8e8e8" />
<rect x="516.1" y="498.1" width="10.9" height="9.7" fill="#ececec" />
<rect x="516.1" y="507.5" width="10.9" height="9.7" fill="#fdf4e8" />
<rect x="516.1" y="516.9" width="10.9" height="9.7" fill="#f0f0f0" />
<rect x="516.1" y="526.4" width="10.9" height="9.7" fill="#ebebeb" />
<rect x="516.1" y="535.8" width="10.9" height="9.7" fill="#e8e8e8" />
<rect x="516.1" y="545.2" width="10.9" height="9.7" fill="#f6f6f6" />
<rect x="516.1" y="554.6" width="10.9" height="9.7" fill="#fdeed8" />
<rect x="516.1" y="564" width="10.9" height="9.7" fill="#e4e4e4" />
<rect x="516.1" y="573.5" width="10.9" height="9.7" fill="#fdf4ea" />
<rect x="516.1" y="582.9" width="10.9" height="9.7" fill="#fdeedc" />
<rect x="516.1" y="592.3" width="10.9" height="9.7" fill="#fdf0e0" />
<rect x="516.1" y="601.7" width="10.9" height="9.7" fill="#fde8d4" />
<rect x="516.1" y="611.2" width="10.9" height="9.7" fill="#fdf6f0" />
<rect x="516.1" y="620.6" width="10.9" height="9.7" fill="#e0e0e0" />
<rect x="529.3" y="413.3" width="53.2" height="216.7" fill="#fff" stroke="#333" stroke-width="0.9"/>
<rect x="531.5" y="415.3" width="26.6" height="5.8" fill="#808080" stroke="#111" stroke-width="0.6"/>
<text transform="translate(584.8,420.8) scale(0.926,1)" font-size="8.21" text-anchor="start" fill="#000" stroke="#000" stroke-width="0.22" >APOE4</text>
<rect x="531.5" y="424.7" width="16.5" height="5.8" fill="#808080" stroke="#111" stroke-width="0.6"/>
<text transform="translate(584.8,430.2) scale(0.926,1)" font-size="8.21" text-anchor="start" fill="#000" stroke="#000" stroke-width="0.22" >AGE</text>
<rect x="531.5" y="434.1" width="8.7" height="5.8" fill="#808080" stroke="#111" stroke-width="0.6"/>
<text transform="translate(584.8,439.7) scale(0.926,1)" font-size="8.21" text-anchor="start" fill="#000" stroke="#000" stroke-width="0.22" >MMSE</text>
<rect x="531.5" y="443.6" width="8.5" height="5.8" fill="#808080" stroke="#111" stroke-width="0.6"/>
<text transform="translate(584.8,449.1) scale(0.926,1)" font-size="8.21" text-anchor="start" fill="#000" stroke="#000" stroke-width="0.22" >MidTemp</text>
<rect x="531.5" y="453" width="7.2" height="5.8" fill="#808080" stroke="#111" stroke-width="0.6"/>
<text transform="translate(584.8,458.5) scale(0.926,1)" font-size="8.21" text-anchor="start" fill="#000" stroke="#000" stroke-width="0.22" >Ventricles</text>
<rect x="531.5" y="462.4" width="6.6" height="5.8" fill="#808080" stroke="#111" stroke-width="0.6"/>
<text transform="translate(584.8,467.9) scale(0.926,1)" font-size="8.21" text-anchor="start" fill="#000" stroke="#000" stroke-width="0.22" >TRABSCOR</text>
<rect x="531.5" y="471.8" width="6.6" height="5.8" fill="#808080" stroke="#111" stroke-width="0.6"/>
<text transform="translate(584.8,477.3) scale(0.926,1)" font-size="8.21" text-anchor="start" fill="#000" stroke="#000" stroke-width="0.22" >ICV</text>
<rect x="531.5" y="481.3" width="6.6" height="5.8" fill="#808080" stroke="#111" stroke-width="0.6"/>
<text transform="translate(584.8,486.8) scale(0.926,1)" font-size="8.21" text-anchor="start" fill="#000" stroke="#000" stroke-width="0.22" >Entorhinal</text>
<rect x="531.5" y="490.7" width="6.1" height="5.8" fill="#808080" stroke="#111" stroke-width="0.6"/>
<text transform="translate(584.8,496.2) scale(0.926,1)" font-size="8.21" text-anchor="start" fill="#000" stroke="#000" stroke-width="0.22" >FAQ</text>
<rect x="531.5" y="500.1" width="6.1" height="5.8" fill="#808080" stroke="#111" stroke-width="0.6"/>
<text transform="translate(584.8,505.6) scale(0.926,1)" font-size="8.21" text-anchor="start" fill="#000" stroke="#000" stroke-width="0.22" >RAVLT_immediate</text>
<rect x="531.5" y="509.5" width="6.1" height="5.8" fill="#808080" stroke="#111" stroke-width="0.6"/>
<text transform="translate(584.8,515) scale(0.926,1)" font-size="8.21" text-anchor="start" fill="#000" stroke="#000" stroke-width="0.22" >GENDERFemale</text>
<rect x="531.5" y="518.9" width="6.1" height="5.8" fill="#808080" stroke="#111" stroke-width="0.6"/>
<text transform="translate(584.8,524.4) scale(0.926,1)" font-size="8.21" text-anchor="start" fill="#000" stroke="#000" stroke-width="0.22" >GENDERMale</text>
<rect x="531.5" y="528.4" width="6.1" height="5.8" fill="#808080" stroke="#111" stroke-width="0.6"/>
<text transform="translate(584.8,533.9) scale(0.926,1)" font-size="8.21" text-anchor="start" fill="#000" stroke="#000" stroke-width="0.22" >Hippocampus</text>
<rect x="531.5" y="537.8" width="4.6" height="5.8" fill="#808080" stroke="#111" stroke-width="0.6"/>
<text transform="translate(584.8,543.3) scale(0.926,1)" font-size="8.21" text-anchor="start" fill="#000" stroke="#000" stroke-width="0.22" >ADAS13</text>
<rect x="531.5" y="547.2" width="4" height="5.8" fill="#808080" stroke="#111" stroke-width="0.6"/>
<text transform="translate(584.8,552.7) scale(0.926,1)" font-size="8.21" text-anchor="start" fill="#000" stroke="#000" stroke-width="0.22" >Education</text>
<rect x="531.5" y="556.6" width="4" height="5.8" fill="#808080" stroke="#111" stroke-width="0.6"/>
<text transform="translate(584.8,562.1) scale(0.926,1)" font-size="8.21" text-anchor="start" fill="#000" stroke="#000" stroke-width="0.22" >RAVLT_forgetting</text>
<rect x="531.5" y="566" width="4" height="5.8" fill="#808080" stroke="#111" stroke-width="0.6"/>
<text transform="translate(584.8,571.6) scale(0.926,1)" font-size="8.21" text-anchor="start" fill="#000" stroke="#000" stroke-width="0.22" >ADASQ4</text>
<rect x="531.5" y="575.5" width="3.5" height="5.8" fill="#808080" stroke="#111" stroke-width="0.6"/>
<text transform="translate(584.8,581) scale(0.926,1)" font-size="8.21" text-anchor="start" fill="#000" stroke="#000" stroke-width="0.22" >RAVLT_learning</text>
<rect x="531.5" y="584.9" width="3.5" height="5.8" fill="#808080" stroke="#111" stroke-width="0.6"/>
<text transform="translate(584.8,590.4) scale(0.926,1)" font-size="8.21" text-anchor="start" fill="#000" stroke="#000" stroke-width="0.22" >WholeBrain</text>
<rect x="531.5" y="594.3" width="3.5" height="5.8" fill="#808080" stroke="#111" stroke-width="0.6"/>
<text transform="translate(584.8,599.8) scale(0.926,1)" font-size="8.21" text-anchor="start" fill="#000" stroke="#000" stroke-width="0.22" >Fusiform</text>
<rect x="531.5" y="603.7" width="3" height="5.8" fill="#808080" stroke="#111" stroke-width="0.6"/>
<text transform="translate(584.8,609.2) scale(0.926,1)" font-size="8.21" text-anchor="start" fill="#000" stroke="#000" stroke-width="0.22" >LDELTOTAL</text>
<rect x="531.5" y="613.2" width="2.3" height="5.8" fill="#808080" stroke="#111" stroke-width="0.6"/>
<text transform="translate(584.8,618.7) scale(0.926,1)" font-size="8.21" text-anchor="start" fill="#000" stroke="#000" stroke-width="0.22" >RAVLT_perc_forgetting</text>
<rect x="531.5" y="622.6" width="1.3" height="5.8" fill="#808080" stroke="#111" stroke-width="0.6"/>
<text transform="translate(584.8,628.1) scale(0.926,1)" font-size="8.21" text-anchor="start" fill="#000" stroke="#000" stroke-width="0.22" >CDRSB</text>
<line x1="532.8" y1="630" x2="532.8" y2="632" stroke="#333" stroke-width="0.7" />
<text transform="translate(535.2,633) rotate(-90) scale(0.926,1)" font-size="9.50" text-anchor="end" fill="#000" stroke="#000" stroke-width="0.22">0</text>
<line x1="556.5" y1="630" x2="556.5" y2="632" stroke="#333" stroke-width="0.7" />
<text transform="translate(558.9,633) rotate(-90) scale(0.926,1)" font-size="9.50" text-anchor="end" fill="#000" stroke="#000" stroke-width="0.22">0.5</text>
<line x1="580.2" y1="630" x2="580.2" y2="632" stroke="#333" stroke-width="0.7" />
<text transform="translate(582.6,633) rotate(-90) scale(0.926,1)" font-size="9.50" text-anchor="end" fill="#000" stroke="#000" stroke-width="0.22">1</text>
<text transform="translate(555.9,652.7) scale(0.926,1)" font-size="9.61" text-anchor="middle" fill="#000" stroke="#000" stroke-width="0.22" >Importance</text>
<text transform="translate(524.8,631.8) rotate(-90) scale(0.926,1)" font-size="9.72" text-anchor="end" fill="#000" stroke="#000" stroke-width="0.22">Correlation</text>
<text transform="translate(435.3,403.7) scale(0.926,1)" font-size="11.34" text-anchor="middle" fill="#000" stroke="#000" stroke-width="0.22" >PET-based model</text>
<defs><linearGradient id="gc" x1="0" x2="1" y1="0" y2="0"><stop offset="0.000" stop-color="#0000ff"/><stop offset="0.025" stop-color="#502bff"/><stop offset="0.050" stop-color="#7145ff"/><stop offset="0.075" stop-color="#8a5dff"/><stop offset="0.100" stop-color="#a074ff"/><stop offset="0.125" stop-color="#b38bff"/><stop offset="0.150" stop-color="#c4a2ff"/><stop offset="0.175" stop-color="#d4b9ff"/><stop offset="0.200" stop-color="#e3d0ff"/><stop offset="0.225" stop-color="#f2e7ff"/><stop offset="0.250" stop-color="#ffffff"/><stop offset="0.275" stop-color="#fff5f2"/><stop offset="0.300" stop-color="#ffece5"/><stop offset="0.325" stop-color="#ffe2d8"/><stop offset="0.350" stop-color="#ffd9cb"/><stop offset="0.375" stop-color="#ffcfbf"/><stop offset="0.400" stop-color="#ffc6b2"/><stop offset="0.425" stop-color="#ffbca6"/><stop offset="0.450" stop-color="#ffb299"/><stop offset="0.475" stop-color="#ffa88d"/><stop offset="0.500" stop-color="#ff9e81"/><stop offset="0.525" stop-color="#ff9475"/><stop offset="0.550" stop-color="#ff8969"/><stop offset="0.575" stop-color="#ff7e5e"/><stop offset="0.600" stop-color="#ff7352"/><stop offset="0.625" stop-color="#ff6846"/><stop offset="0.650" stop-color="#ff5b3a"/><stop offset="0.675" stop-color="#ff4d2e"/><stop offset="0.700" stop-color="#ff3e22"/><stop offset="0.725" stop-color="#ff2913"/><stop offset="0.750" stop-color="#ff0000"/><stop offset="0.775" stop-color="#f30001"/><stop offset="0.800" stop-color="#e70001"/><stop offset="0.825" stop-color="#db0001"/><stop offset="0.850" stop-color="#cf0002"/><stop offset="0.875" stop-color="#c30002"/><stop offset="0.900" stop-color="#b80002"/><stop offset="0.925" stop-color="#ac0002"/><stop offset="0.950" stop-color="#a10002"/><stop offset="0.975" stop-color="#960001"/><stop offset="1.000" stop-color="#8b0000"/></linearGradient><linearGradient id="gr" x1="0" x2="1" y1="0" y2="0"><stop offset="0" stop-color="#009a00"/><stop offset="0.25" stop-color="#00dd00"/><stop offset="0.375" stop-color="#a8dca8"/><stop offset="0.5" stop-color="#f2f2f2"/><stop offset="0.62" stop-color="#fde0b8"/><stop offset="0.75" stop-color="#ff00ff"/><stop offset="1" stop-color="#8b008b"/></linearGradient></defs>
<text transform="translate(668,497.3) scale(0.926,1)" font-size="9.72" text-anchor="start" fill="#000" stroke="#000" stroke-width="0.22" >Coefficient value</text>
<rect x="667.8" y="500.9" width="107.2" height="8.9" fill="url(#gc)" />
<line x1="668.4" y1="500.9" x2="668.4" y2="502.5" stroke="#fff" stroke-width="0.7" />
<line x1="668.4" y1="508.2" x2="668.4" y2="509.8" stroke="#fff" stroke-width="0.7" />
<text transform="translate(669.4,517.2) scale(0.926,1)" font-size="8.42" text-anchor="middle" fill="#000" stroke="#000" stroke-width="0.22" >&#8211;0.5</text>
<line x1="694.8" y1="500.9" x2="694.8" y2="502.5" stroke="#fff" stroke-width="0.7" />
<line x1="694.8" y1="508.2" x2="694.8" y2="509.8" stroke="#fff" stroke-width="0.7" />
<text transform="translate(695.8,517.2) scale(0.926,1)" font-size="8.42" text-anchor="middle" fill="#000" stroke="#000" stroke-width="0.22" >0</text>
<line x1="721.1" y1="500.9" x2="721.1" y2="502.5" stroke="#fff" stroke-width="0.7" />
<line x1="721.1" y1="508.2" x2="721.1" y2="509.8" stroke="#fff" stroke-width="0.7" />
<text transform="translate(722.1,517.2) scale(0.926,1)" font-size="8.42" text-anchor="middle" fill="#000" stroke="#000" stroke-width="0.22" >0.5</text>
<line x1="747.5" y1="500.9" x2="747.5" y2="502.5" stroke="#fff" stroke-width="0.7" />
<line x1="747.5" y1="508.2" x2="747.5" y2="509.8" stroke="#fff" stroke-width="0.7" />
<text transform="translate(748.5,517.2) scale(0.926,1)" font-size="8.42" text-anchor="middle" fill="#000" stroke="#000" stroke-width="0.22" >1</text>
<line x1="773.9" y1="500.9" x2="773.9" y2="502.5" stroke="#fff" stroke-width="0.7" />
<line x1="773.9" y1="508.2" x2="773.9" y2="509.8" stroke="#fff" stroke-width="0.7" />
<text transform="translate(774.9,517.2) scale(0.926,1)" font-size="8.42" text-anchor="middle" fill="#000" stroke="#000" stroke-width="0.22" >1.5</text>
<text transform="translate(668,532.4) scale(0.926,1)" font-size="9.72" text-anchor="start" fill="#000" stroke="#000" stroke-width="0.22" >Correlation</text>
<rect x="667.8" y="536.5" width="107.2" height="9.1" fill="url(#gr)" />
<line x1="668.4" y1="536.5" x2="668.4" y2="538.1" stroke="#fff" stroke-width="0.7" />
<line x1="668.4" y1="544" x2="668.4" y2="545.6" stroke="#fff" stroke-width="0.7" />
<text transform="translate(669.4,552.3) scale(0.926,1)" font-size="8.42" text-anchor="middle" fill="#000" stroke="#000" stroke-width="0.22" >&#8211;0.4</text>
<line x1="694.8" y1="536.5" x2="694.8" y2="538.1" stroke="#fff" stroke-width="0.7" />
<line x1="694.8" y1="544" x2="694.8" y2="545.6" stroke="#fff" stroke-width="0.7" />
<text transform="translate(695.8,552.3) scale(0.926,1)" font-size="8.42" text-anchor="middle" fill="#000" stroke="#000" stroke-width="0.22" >&#8211;0.2</text>
<line x1="721.1" y1="536.5" x2="721.1" y2="538.1" stroke="#fff" stroke-width="0.7" />
<line x1="721.1" y1="544" x2="721.1" y2="545.6" stroke="#fff" stroke-width="0.7" />
<text transform="translate(722.1,552.3) scale(0.926,1)" font-size="8.42" text-anchor="middle" fill="#000" stroke="#000" stroke-width="0.22" >0</text>
<line x1="747.5" y1="536.5" x2="747.5" y2="538.1" stroke="#fff" stroke-width="0.7" />
<line x1="747.5" y1="544" x2="747.5" y2="545.6" stroke="#fff" stroke-width="0.7" />
<text transform="translate(748.5,552.3) scale(0.926,1)" font-size="8.42" text-anchor="middle" fill="#000" stroke="#000" stroke-width="0.22" >0.2</text>
<line x1="773.9" y1="536.5" x2="773.9" y2="538.1" stroke="#fff" stroke-width="0.7" />
<line x1="773.9" y1="544" x2="773.9" y2="545.6" stroke="#fff" stroke-width="0.7" />
<text transform="translate(774.9,552.3) scale(0.926,1)" font-size="8.42" text-anchor="middle" fill="#000" stroke="#000" stroke-width="0.22" >0.4</text>
</svg><div class="hm"><div style="left:19px;top:414.8px;width:165px;height:9.7px;background:linear-gradient(90deg,#ff4b2c 0 2px,#eb0001 0 4px,#fe0000 0 6px,#ff1005 0 8px,#ff2a13 0 10.1px,#ff4427 0 12.1px,#e30001 0 14.1px,#e70001 0 16.1px,#ff391e 0 18.1px,#ff2d15 0 20.1px,#ff1205 0 22.1px,#ff381d 0 24.1px,#fe0000 0 26.2px,#fc0000 0 28.2px,#fc0000 0 30.2px,#ff1607 0 32.2px,#f10001 0 34.2px,#fa0000 0 36.2px,#ff4629 0 38.2px,#ff2812 0 40.2px,#fa0000 0 42.3px,#ff2f17 0 44.3px,#ff5333 0 46.3px,#ff4023 0 48.3px,#ff1b0a 0 50.3px,#fd0000 0 52.3px,#ea0001 0 54.3px,#ff3e22 0 56.3px,#ff4527 0 58.4px,#fb0000 0 60.4px,#ff4326 0 62.4px,#ff5b3a 0 64.4px,#ff2e16 0 66.4px,#e90001 0 68.4px,#ff1808 0 70.4px,#ff3c21 0 72.4px,#f10001 0 74.5px,#ff240f 0 76.5px,#df0001 0 78.5px,#ff3118 0 80.5px,#ff2c15 0 82.5px,#ee0001 0 84.5px,#ff2e16 0 86.5px,#ec0001 0 88.5px,#ff391e 0 90.5px,#ff4426 0 92.6px,#fb0000 0 94.6px,#fe0000 0 96.6px,#ef0001 0 98.6px,#ff2b14 0 100.6px,#ff482a 0 102.6px,#ff3b20 0 104.6px,#ff2913 0 106.6px,#ff4023 0 108.7px,#f90000 0 110.7px,#ff341b 0 112.7px,#f30001 0 114.7px,#ff1708 0 116.7px,#ff3018 0 118.7px,#ff341a 0 120.7px,#fd0000 0 122.7px,#fa0000 0 124.8px,#ff1105 0 126.8px,#ff361c 0 128.8px,#ff4124 0 130.8px,#ef0001 0 132.8px,#f30001 0 134.8px,#ff2b14 0 136.8px,#ff331a 0 138.8px,#ff4d2e 0 140.9px,#ff361c 0 142.9px,#ff2b14 0 144.9px,#e60001 0 146.9px,#f90000 0 148.9px,#ff2d15 0 150.9px,#ff4f2f 0 152.9px,#ef0001 0 154.9px,#ff0f04 0 157px,#ff4a2c 0 159px,#ff0c03 0 161px,#ff351b 0 163px,#dc0001 0 165px)"></div><div style="left:19px;top:424.2px;width:165px;height:9.7px;background:linear-gradient(90deg,#ff7a59 0 2px,#ff7352 0 4px,#ff7857 0 6px,#ff9e81 0 8px,#ff8b6c 0 10.1px,#ff9374 0 12.1px,#ff7251 0 14.1px,#ff9072 0 16.1px,#ff9476 0 18.1px,#ff7a59 0 20.1px,#ff6140 0 22.1px,#ff8a6a 0 24.1px,#ff8565 0 26.2px,#ff6948 0 28.2px,#ff7453 0 30.2px,#ff8d6e 0 32.2px,#ff714f 0 34.2px,#ff8a6a 0 36.2px,#ff9476 0 38.2px,#ff9172 0 40.2px,#ff6d4b 0 42.3px,#ff7453 0 44.3px,#ff6544 0 46.3px,#ff805f 0 48.3px,#ff7e5d 0 50.3px,#ff8565 0 52.3px,#ff7655 0 54.3px,#ff8e6e 0 56.3px,#ffa488 0 58.4px,#ff6f4d 0 60.4px,#ff7857 0 62.4px,#ff7553 0 64.4px,#ff7a59 0 66.4px,#ff7b5a 0 68.4px,#ff8e6f 0 70.4px,#ff7b5a 0 72.4px,#ff6544 0 74.5px,#ff8d6e 0 76.5px,#ff8d6e 0 78.5px,#ff9c7f 0 80.5px,#ff8160 0 82.5px,#ff7755 0 84.5px,#ff8565 0 86.5px,#ff6746 0 88.5px,#ff7b5a 0 90.5px,#ff805f 0 92.6px,#ff6947 0 94.6px,#ff9071 0 96.6px,#ff8868 0 98.6px,#ff7958 0 100.6px,#ff8161 0 102.6px,#ff6d4b 0 104.6px,#ff7150 0 106.6px,#ff7655 0 108.7px,#ff6b49 0 110.7px,#ff9a7c 0 112.7px,#ff6948 0 114.7px,#ff8261 0 116.7px,#ff8767 0 118.7px,#ff8b6b 0 120.7px,#ff6d4c 0 122.7px,#ff6e4d 0 124.8px,#ff6140 0 126.8px,#ff9779 0 128.8px,#ff8161 0 130.8px,#ff987b 0 132.8px,#ff7d5c 0 134.8px,#ff7553 0 136.8px,#ff8767 0 138.8px,#ff8060 0 140.9px,#ff8464 0 142.9px,#ff7553 0 144.9px,#ff8464 0 146.9px,#ff7c5b 0 148.9px,#ff805f 0 150.9px,#ff5c3b 0 152.9px,#ff6847 0 154.9px,#ff7a59 0 157px,#ff7a59 0 159px,#ff7655 0 161px,#ff6c4a 0 163px,#ff8464 0 165px)"></div><div style="left:19px;top:433.6px;width:165px;height:9.7px;background:linear-gradient(90deg,#ffbfaa 0 2px,#ffbea9 0 4px,#ffb69e 0 6px,#ffab91 0 8px,#ffb9a2 0 10.1px,#ffb69e 0 12.1px,#ffb59d 0 14.1px,#ffaf96 0 16.1px,#ffbaa3 0 18.1px,#ffc2ae 0 20.1px,#ffb098 0 22.1px,#ffb199 0 24.1px,#ffb49c 0 26.2px,#ffb7a0 0 28.2px,#ffbfa9 0 30.2px,#ffc0ab 0 32.2px,#ffa084 0 34.2px,#ffcbb9 0 36.2px,#ffbca7 0 38.2px,#ffc1ad 0 40.2px,#ffbaa4 0 42.3px,#ffb49c 0 44.3px,#ffae95 0 46.3px,#ffb69e 0 48.3px,#ffb69e 0 50.3px,#ffb7a0 0 52.3px,#ffb198 0 54.3px,#ffad94 0 56.3px,#ffc3af 0 58.4px,#ffbba5 0 60.4px,#ffc8b5 0 62.4px,#ffc0ab 0 64.4px,#ffc9b7 0 66.4px,#ffad93 0 68.4px,#ffb7a0 0 70.4px,#ffb79f 0 72.4px,#ff9779 0 74.5px,#ffbca6 0 76.5px,#ffab91 0 78.5px,#ffb79f 0 80.5px,#ffc4b0 0 82.5px,#ffbfaa 0 84.5px,#ffbea9 0 86.5px,#ffac93 0 88.5px,#ffab90 0 90.5px,#ffc5b2 0 92.6px,#ffaa90 0 94.6px,#ffbda8 0 96.6px,#ffaf96 0 98.6px,#ffbda8 0 100.6px,#ffb59d 0 102.6px,#ffc5b1 0 104.6px,#ffb9a2 0 106.6px,#ffc3af 0 108.7px,#ffac93 0 110.7px,#ffa58a 0 112.7px,#ff987a 0 114.7px,#ffb59e 0 116.7px,#ffc3af 0 118.7px,#ffbea8 0 120.7px,#ffb9a3 0 122.7px,#ffa387 0 124.8px,#ffa88d 0 126.8px,#ffbea9 0 128.8px,#ffab91 0 130.8px,#ffaf95 0 132.8px,#ffc2ad 0 134.8px,#ffb9a2 0 136.8px,#ffb7a0 0 138.8px,#ffb9a2 0 140.9px,#ffbaa4 0 142.9px,#ffbba5 0 144.9px,#ffb198 0 146.9px,#ffb29a 0 148.9px,#ffb8a1 0 150.9px,#ffa388 0 152.9px,#ffaf95 0 154.9px,#ffae95 0 157px,#ffc2ae 0 159px,#ffb39b 0 161px,#ffa58a 0 163px,#ffc2ae 0 165px)"></div><div style="left:19px;top:442.9px;width:165px;height:9.7px;background:linear-gradient(90deg,#ffd3c4 0 2px,#ffd6c8 0 4px,#ffcebd 0 6px,#ffd8cb 0 8px,#ffdacc 0 10.1px,#ffcdbc 0 12.1px,#ffd6c7 0 14.1px,#ffc5b1 0 16.1px,#ffe0d5 0 18.1px,#ffe1d7 0 20.1px,#ffcdbc 0 22.1px,#ffdacd 0 24.1px,#ffd0c0 0 26.2px,#ffcab8 0 28.2px,#ffcdbc 0 30.2px,#ffe2d8 0 32.2px,#ffc6b2 0 34.2px,#ffc9b7 0 36.2px,#ffd0c0 0 38.2px,#ffdccf 0 40.2px,#ffd9cb 0 42.3px,#ffd6c8 0 44.3px,#ffdfd3 0 46.3px,#ffd7c9 0 48.3px,#ffd5c6 0 50.3px,#ffd3c3 0 52.3px,#ffc8b5 0 54.3px,#ffd6c7 0 56.3px,#ffe7df 0 58.4px,#ffcab8 0 60.4px,#ffe3d9 0 62.4px,#ffd9cb 0 64.4px,#ffddd0 0 66.4px,#ffd7c9 0 68.4px,#ffdfd4 0 70.4px,#ffd6c7 0 72.4px,#ffb69f 0 74.5px,#ffd9cc 0 76.5px,#ffd2c2 0 78.5px,#ffd3c4 0 80.5px,#ffd1c1 0 82.5px,#ffcdbb 0 84.5px,#ffcfbf 0 86.5px,#ffe1d6 0 88.5px,#ffdace 0 90.5px,#ffd9cb 0 92.6px,#ffcfbe 0 94.6px,#ffd0bf 0 96.6px,#ffc9b7 0 98.6px,#ffd9cc 0 100.6px,#ffd2c2 0 102.6px,#ffd6c8 0 104.6px,#ffcfbe 0 106.6px,#ffd3c4 0 108.7px,#ffd3c3 0 110.7px,#ffdbce 0 112.7px,#ffd5c6 0 114.7px,#ffcab9 0 116.7px,#ffcbba 0 118.7px,#ffd2c2 0 120.7px,#ffcbba 0 122.7px,#ffcdbc 0 124.8px,#ffcdbc 0 126.8px,#ffd2c3 0 128.8px,#ffdacc 0 130.8px,#ffd4c5 0 132.8px,#ffd9cb 0 134.8px,#ffcfbe 0 136.8px,#ffd8ca 0 138.8px,#ffd8cb 0 140.9px,#ffd7c9 0 142.9px,#ffcdbc 0 144.9px,#ffd8ca 0 146.9px,#ffd4c6 0 148.9px,#ffcbb9 0 150.9px,#ffd8ca 0 152.9px,#ffcebd 0 154.9px,#ffd6c7 0 157px,#ffd5c6 0 159px,#ffded2 0 161px,#ffc8b5 0 163px,#ffdacd 0 165px)"></div><div style="left:19px;top:452.3px;width:165px;height:9.7px;background:linear-gradient(90deg,#9366ff 0 2px,#c19dff 0 4px,#b790ff 0 6px,#c9a9ff 0 8px,#a277ff 0 10.1px,#a378ff 0 12.1px,#ad83ff 0 14.1px,#c19eff 0 16.1px,#9e72ff 0 18.1px,#a378ff 0 20.1px,#b38bff 0 22.1px,#a175ff 0 24.1px,#b58dff 0 26.2px,#a980ff 0 28.2px,#986bff 0 30.2px,#af87ff 0 32.2px,#c19eff 0 34.2px,#a67cff 0 36.2px,#966aff 0 38.2px,#8457ff 0 40.2px,#ae85ff 0 42.3px,#a87dff 0 44.3px,#9063ff 0 46.3px,#a67cff 0 48.3px,#976bff 0 50.3px,#ad83ff 0 52.3px,#b189ff 0 54.3px,#ad84ff 0 56.3px,#9c70ff 0 58.4px,#af86ff 0 60.4px,#8e61ff 0 62.4px,#a277ff 0 64.4px,#9569ff 0 66.4px,#a57aff 0 68.4px,#a57aff 0 70.4px,#b088ff 0 72.4px,#d0b2ff 0 74.5px,#865aff 0 76.5px,#b28bff 0 78.5px,#9b6fff 0 80.5px,#be9aff 0 82.5px,#b790ff 0 84.5px,#9366ff 0 86.5px,#af86ff 0 88.5px,#a277ff 0 90.5px,#ab82ff 0 92.6px,#a074ff 0 94.6px,#a075ff 0 96.6px,#b48dff 0 98.6px,#a378ff 0 100.6px,#a67cff 0 102.6px,#9164ff 0 104.6px,#b48cff 0 106.6px,#ae86ff 0 108.7px,#ae86ff 0 110.7px,#9a6eff 0 112.7px,#b38cff 0 114.7px,#b38bff 0 116.7px,#a77cff 0 118.7px,#a176ff 0 120.7px,#bd98ff 0 122.7px,#9e72ff 0 124.8px,#ae85ff 0 126.8px,#8d60ff 0 128.8px,#a479ff 0 130.8px,#a378ff 0 132.8px,#9e73ff 0 134.8px,#a176ff 0 136.8px,#bd98ff 0 138.8px,#a175ff 0 140.9px,#9e73ff 0 142.9px,#bd98ff 0 144.9px,#ab82ff 0 146.9px,#9f74ff 0 148.9px,#b38cff 0 150.9px,#a57aff 0 152.9px,#bf9bff 0 154.9px,#9e73ff 0 157px,#a277ff 0 159px,#9b6fff 0 161px,#b68fff 0 163px,#996dff 0 165px)"></div><div style="left:19px;top:461.7px;width:165px;height:9.7px;background:linear-gradient(90deg,#ffdbce 0 2px,#ffd6c7 0 4px,#ffd5c6 0 6px,#ffd1c1 0 8px,#ffd5c6 0 10.1px,#ffd5c6 0 12.1px,#ffd9cc 0 14.1px,#ffd7c9 0 16.1px,#ffd9cb 0 18.1px,#ffcab8 0 20.1px,#ffd5c6 0 22.1px,#ffd8cb 0 24.1px,#ffd3c3 0 26.2px,#ffd8ca 0 28.2px,#ffdcd0 0 30.2px,#ffd8ca 0 32.2px,#ffbfaa 0 34.2px,#ffd6c8 0 36.2px,#ffdcd0 0 38.2px,#ffe5dc 0 40.2px,#ffd3c4 0 42.3px,#ffd4c6 0 44.3px,#ffdfd4 0 46.3px,#ffddd1 0 48.3px,#ffd4c5 0 50.3px,#ffcbb9 0 52.3px,#ffccba 0 54.3px,#ffd3c3 0 56.3px,#ffdfd4 0 58.4px,#ffcfbf 0 60.4px,#ffdccf 0 62.4px,#ffc7b4 0 64.4px,#ffe4da 0 66.4px,#ffd8ca 0 68.4px,#ffd0bf 0 70.4px,#ffd6c7 0 72.4px,#ffbca6 0 74.5px,#ffd5c7 0 76.5px,#ffd0c0 0 78.5px,#ffded2 0 80.5px,#ffe0d5 0 82.5px,#ffd9cb 0 84.5px,#ffc6b3 0 86.5px,#ffcfbe 0 88.5px,#ffd0c0 0 90.5px,#ffd3c4 0 92.6px,#ffcebe 0 94.6px,#ffd2c2 0 96.6px,#ffcebd 0 98.6px,#ffd9cb 0 100.6px,#ffcbb9 0 102.6px,#ffd7c9 0 104.6px,#ffdacd 0 106.6px,#ffd9cc 0 108.7px,#ffd4c5 0 110.7px,#ffd1c1 0 112.7px,#ffd4c5 0 114.7px,#ffd9cc 0 116.7px,#ffd7c8 0 118.7px,#ffcebd 0 120.7px,#ffd2c2 0 122.7px,#ffd2c2 0 124.8px,#ffcdbc 0 126.8px,#ffd5c6 0 128.8px,#ffccba 0 130.8px,#ffc9b7 0 132.8px,#ffdfd4 0 134.8px,#ffcbb9 0 136.8px,#ffd4c5 0 138.8px,#ffdacd 0 140.9px,#ffc9b7 0 142.9px,#ffd8ca 0 144.9px,#ffc5b1 0 146.9px,#ffc7b4 0 148.9px,#ffd8ca 0 150.9px,#ffcdbb 0 152.9px,#ffccbb 0 154.9px,#ffd3c3 0 157px,#ffe4da 0 159px,#ffd4c5 0 161px,#ffcebd 0 163px,#ffded2 0 165px)"></div><div style="left:19px;top:471.1px;width:165px;height:9.7px;background:linear-gradient(90deg,#ffd9cb 0 2px,#ffdfd3 0 4px,#ffddd1 0 6px,#ffe2d8 0 8px,#ffe8e0 0 10.1px,#ffe3d9 0 12.1px,#ffdcd0 0 14.1px,#ffd9cb 0 16.1px,#ffe6dd 0 18.1px,#ffe4da 0 20.1px,#ffe4da 0 22.1px,#ffdacd 0 24.1px,#ffddd1 0 26.2px,#ffdacc 0 28.2px,#ffe4da 0 30.2px,#ffe3d8 0 32.2px,#ffd3c4 0 34.2px,#ffe7de 0 36.2px,#ffd3c4 0 38.2px,#ffe3d9 0 40.2px,#ffdfd3 0 42.3px,#ffe2d8 0 44.3px,#ffd7c9 0 46.3px,#ffd7c9 0 48.3px,#ffdccf 0 50.3px,#ffe4da 0 52.3px,#ffddd1 0 54.3px,#ffdacd 0 56.3px,#ffe8e0 0 58.4px,#ffe3d8 0 60.4px,#ffebe3 0 62.4px,#ffe4da 0 64.4px,#ffe4da 0 66.4px,#ffe2d8 0 68.4px,#ffe1d7 0 70.4px,#ffcebd 0 72.4px,#ffc8b5 0 74.5px,#ffe5db 0 76.5px,#ffd9cc 0 78.5px,#ffe3d9 0 80.5px,#ffe0d5 0 82.5px,#ffd6c8 0 84.5px,#ffe1d6 0 86.5px,#ffdfd4 0 88.5px,#ffe0d5 0 90.5px,#ffe3d9 0 92.6px,#ffd5c6 0 94.6px,#ffddd1 0 96.6px,#ffdfd4 0 98.6px,#ffe3d9 0 100.6px,#ffe1d6 0 102.6px,#ffdacd 0 104.6px,#ffdacc 0 106.6px,#ffdccf 0 108.7px,#ffdbce 0 110.7px,#ffeae2 0 112.7px,#ffd7c9 0 114.7px,#ffdbce 0 116.7px,#ffdbce 0 118.7px,#ffe9e1 0 120.7px,#ffdbce 0 122.7px,#ffe1d6 0 124.8px,#ffdcd0 0 126.8px,#ffded2 0 128.8px,#ffdacd 0 130.8px,#ffe2d7 0 132.8px,#ffe7df 0 134.8px,#ffece5 0 136.8px,#ffe1d6 0 138.8px,#ffdacd 0 140.9px,#ffe3d9 0 142.9px,#ffede6 0 144.9px,#ffe1d7 0 146.9px,#ffd6c8 0 148.9px,#ffd1c1 0 150.9px,#ffd4c5 0 152.9px,#ffd9cc 0 154.9px,#ffdbce 0 157px,#ffe4da 0 159px,#ffded2 0 161px,#ffdacc 0 163px,#ffe4db 0 165px)"></div><div style="left:19px;top:480.5px;width:165px;height:9.7px;background:linear-gradient(90deg,#be9aff 0 2px,#c6a4ff 0 4px,#d3b7ff 0 6px,#d4b9ff 0 8px,#c6a4ff 0 10.1px,#ccadff 0 12.1px,#c8a8ff 0 14.1px,#be9aff 0 16.1px,#bc97ff 0 18.1px,#c4a1ff 0 20.1px,#c19eff 0 22.1px,#d9c1ff 0 24.1px,#d0b2ff 0 26.2px,#d3b8ff 0 28.2px,#c3a0ff 0 30.2px,#b68fff 0 32.2px,#f1e6ff 0 34.2px,#b790ff 0 36.2px,#ccadff 0 38.2px,#b791ff 0 40.2px,#ccacff 0 42.3px,#bf9bff 0 44.3px,#c09cff 0 46.3px,#d2b5ff 0 48.3px,#dfcaff 0 50.3px,#c3a0ff 0 52.3px,#d0b3ff 0 54.3px,#d4b9ff 0 56.3px,#b189ff 0 58.4px,#d5baff 0 60.4px,#b28aff 0 62.4px,#cdafff 0 64.4px,#c19eff 0 66.4px,#d6bbff 0 68.4px,#c6a4ff 0 70.4px,#bb95ff 0 72.4px,#e7d6ff 0 74.5px,#ba94ff 0 76.5px,#d7bcff 0 78.5px,#cfb1ff 0 80.5px,#ccadff 0 82.5px,#c6a5ff 0 84.5px,#d5b9ff 0 86.5px,#ccadff 0 88.5px,#b993ff 0 90.5px,#bb96ff 0 92.6px,#dcc4ff 0 94.6px,#bd99ff 0 96.6px,#d7bdff 0 98.6px,#bf9bff 0 100.6px,#b992ff 0 102.6px,#c19eff 0 104.6px,#d3b7ff 0 106.6px,#c5a3ff 0 108.7px,#cdafff 0 110.7px,#ac82ff 0 112.7px,#dfc9ff 0 114.7px,#d5b9ff 0 116.7px,#d4b9ff 0 118.7px,#d1b3ff 0 120.7px,#c8a8ff 0 122.7px,#c4a2ff 0 124.8px,#d8beff 0 126.8px,#d8beff 0 128.8px,#b791ff 0 130.8px,#c9a8ff 0 132.8px,#c19eff 0 134.8px,#d0b2ff 0 136.8px,#dac1ff 0 138.8px,#bf9bff 0 140.9px,#b087ff 0 142.9px,#c5a3ff 0 144.9px,#c9a8ff 0 146.9px,#c19eff 0 148.9px,#d9c0ff 0 150.9px,#caaaff 0 152.9px,#d5baff 0 154.9px,#bd99ff 0 157px,#d6bbff 0 159px,#bc97ff 0 161px,#e1ccff 0 163px,#ae85ff 0 165px)"></div><div style="left:19px;top:489.9px;width:165px;height:9.7px;background:linear-gradient(90deg,#d9bfff 0 2px,#d3b8ff 0 4px,#ceafff 0 6px,#d0b3ff 0 8px,#d0b3ff 0 10.1px,#cdaeff 0 12.1px,#d3b7ff 0 14.1px,#dcc4ff 0 16.1px,#cdaeff 0 18.1px,#b58eff 0 20.1px,#d5b9ff 0 22.1px,#dac1ff 0 24.1px,#dec8ff 0 26.2px,#e0cbff 0 28.2px,#cfb1ff 0 30.2px,#e5d3ff 0 32.2px,#e6d5ff 0 34.2px,#d5baff 0 36.2px,#d9bfff 0 38.2px,#d6bbff 0 40.2px,#d6bbff 0 42.3px,#d0b3ff 0 44.3px,#dac2ff 0 46.3px,#d7bdff 0 48.3px,#c7a6ff 0 50.3px,#d0b2ff 0 52.3px,#ddc6ff 0 54.3px,#d6bcff 0 56.3px,#cdafff 0 58.4px,#dcc5ff 0 60.4px,#ceb0ff 0 62.4px,#dfc9ff 0 64.4px,#c8a8ff 0 66.4px,#d1b5ff 0 68.4px,#d3b7ff 0 70.4px,#dbc3ff 0 72.4px,#eadaff 0 74.5px,#dfc9ff 0 76.5px,#d5baff 0 78.5px,#d6bcff 0 80.5px,#d6bcff 0 82.5px,#d0b2ff 0 84.5px,#d3b7ff 0 86.5px,#e5d3ff 0 88.5px,#dbc2ff 0 90.5px,#ccacff 0 92.6px,#c5a3ff 0 94.6px,#cbabff 0 96.6px,#d8bfff 0 98.6px,#d2b6ff 0 100.6px,#e8d8ff 0 102.6px,#dac1ff 0 104.6px,#dbc3ff 0 106.6px,#caaaff 0 108.7px,#d0b3ff 0 110.7px,#d2b6ff 0 112.7px,#d7bdff 0 114.7px,#eddfff 0 116.7px,#d2b6ff 0 118.7px,#ccacff 0 120.7px,#e0cbff 0 122.7px,#d7bdff 0 124.8px,#d3b7ff 0 126.8px,#dcc4ff 0 128.8px,#d5baff 0 130.8px,#cdaeff 0 132.8px,#d8bfff 0 134.8px,#d9c0ff 0 136.8px,#d3b7ff 0 138.8px,#d7bcff 0 140.9px,#d5bbff 0 142.9px,#ccacff 0 144.9px,#c8a7ff 0 146.9px,#caaaff 0 148.9px,#d8bfff 0 150.9px,#e2ceff 0 152.9px,#dfcaff 0 154.9px,#e2ceff 0 157px,#e3cfff 0 159px,#d8bfff 0 161px,#e4d2ff 0 163px,#c7a6ff 0 165px)"></div><div style="left:19px;top:499.2px;width:165px;height:9.7px;background:linear-gradient(90deg,#ffe7de 0 2px,#ffe3d9 0 4px,#ffe4da 0 6px,#ffeae2 0 8px,#ffefea 0 10.1px,#ffe6dd 0 12.1px,#ffdfd3 0 14.1px,#ffe5db 0 16.1px,#ffe8df 0 18.1px,#ffede7 0 20.1px,#ffe3d9 0 22.1px,#ffe9e1 0 24.1px,#ffe0d5 0 26.2px,#ffe4db 0 28.2px,#ffe5dc 0 30.2px,#ffeae2 0 32.2px,#ffe4da 0 34.2px,#ffe9e0 0 36.2px,#ffe4da 0 38.2px,#ffe2d8 0 40.2px,#ffe7df 0 42.3px,#ffe2d8 0 44.3px,#ffe4da 0 46.3px,#ffe5db 0 48.3px,#ffece6 0 50.3px,#ffe3d8 0 52.3px,#ffe7df 0 54.3px,#ffe0d5 0 56.3px,#ffe8e0 0 58.4px,#ffe1d7 0 60.4px,#fff6f3 0 62.4px,#ffe4da 0 64.4px,#ffe8df 0 66.4px,#ffece5 0 68.4px,#ffe4da 0 70.4px,#ffe5dc 0 72.4px,#ffddd1 0 74.5px,#ffeae2 0 76.5px,#ffe8e0 0 78.5px,#ffece5 0 80.5px,#ffd9cb 0 82.5px,#ffe3d9 0 84.5px,#ffe6dc 0 86.5px,#ffe8e0 0 88.5px,#ffe9e1 0 90.5px,#ffece5 0 92.6px,#ffe9e0 0 94.6px,#ffe5db 0 96.6px,#ffe2d7 0 98.6px,#ffe4da 0 100.6px,#ffe9e2 0 102.6px,#ffe2d7 0 104.6px,#ffe3d9 0 106.6px,#ffe5dc 0 108.7px,#ffe4da 0 110.7px,#ffebe3 0 112.7px,#ffddd1 0 114.7px,#ffe6dd 0 116.7px,#ffe6de 0 118.7px,#ffede6 0 120.7px,#ffe3d9 0 122.7px,#ffe7de 0 124.8px,#ffe0d5 0 126.8px,#ffe6dd 0 128.8px,#ffe8df 0 130.8px,#ffebe4 0 132.8px,#ffe3d9 0 134.8px,#ffe1d7 0 136.8px,#ffe2d8 0 138.8px,#ffede7 0 140.9px,#ffe7de 0 142.9px,#ffe6dc 0 144.9px,#ffe3d9 0 146.9px,#ffe0d4 0 148.9px,#ffe5db 0 150.9px,#ffe2d8 0 152.9px,#ffe0d4 0 154.9px,#ffe6dd 0 157px,#ffece5 0 159px,#ffe4db 0 161px,#ffe0d5 0 163px,#fff0ea 0 165px)"></div><div style="left:19px;top:508.6px;width:165px;height:9.7px;background:linear-gradient(90deg,#ffede6 0 2px,#ffe2d8 0 4px,#ffe4da 0 6px,#ffe7df 0 8px,#fff0eb 0 10.1px,#ffe2d8 0 12.1px,#ffddd0 0 14.1px,#ffe4da 0 16.1px,#ffede7 0 18.1px,#ffefea 0 20.1px,#ffe0d5 0 22.1px,#ffe4db 0 24.1px,#ffe5dc 0 26.2px,#ffded2 0 28.2px,#ffe3d9 0 30.2px,#ffe4db 0 32.2px,#ffe6dd 0 34.2px,#ffe8df 0 36.2px,#ffe6dd 0 38.2px,#ffefe9 0 40.2px,#ffe2d7 0 42.3px,#ffdfd4 0 44.3px,#ffe3d8 0 46.3px,#ffeae2 0 48.3px,#ffe9e0 0 50.3px,#ffe0d5 0 52.3px,#ffded3 0 54.3px,#ffe0d5 0 56.3px,#ffe6dd 0 58.4px,#ffe5db 0 60.4px,#ffece6 0 62.4px,#ffefe9 0 64.4px,#ffe7de 0 66.4px,#ffdccf 0 68.4px,#ffebe3 0 70.4px,#ffe8df 0 72.4px,#ffd9cc 0 74.5px,#ffe5db 0 76.5px,#ffeae2 0 78.5px,#ffeee7 0 80.5px,#ffece5 0 82.5px,#ffdbce 0 84.5px,#ffeae2 0 86.5px,#ffe1d6 0 88.5px,#ffddd1 0 90.5px,#ffe1d6 0 92.6px,#ffded2 0 94.6px,#ffe1d7 0 96.6px,#ffe6dd 0 98.6px,#ffe9e1 0 100.6px,#ffe7df 0 102.6px,#ffe8df 0 104.6px,#ffd7c9 0 106.6px,#fff0ea 0 108.7px,#ffe1d6 0 110.7px,#ffece5 0 112.7px,#ffdcd0 0 114.7px,#ffded3 0 116.7px,#ffe8e0 0 118.7px,#ffdfd4 0 120.7px,#ffe4da 0 122.7px,#ffdfd3 0 124.8px,#ffe0d5 0 126.8px,#ffeae2 0 128.8px,#ffe6dd 0 130.8px,#ffe5dc 0 132.8px,#ffe3d8 0 134.8px,#ffe5dc 0 136.8px,#ffdbce 0 138.8px,#ffe9e1 0 140.9px,#ffebe4 0 142.9px,#ffebe3 0 144.9px,#ffe8e0 0 146.9px,#ffe8e0 0 148.9px,#ffe8df 0 150.9px,#ffdfd3 0 152.9px,#ffe4da 0 154.9px,#ffe5db 0 157px,#ffe4da 0 159px,#ffdfd3 0 161px,#ffded2 0 163px,#ffe4da 0 165px)"></div><div style="left:19px;top:518px;width:165px;height:9.7px;background:linear-gradient(90deg,#ffede6 0 2px,#ffe6dd 0 4px,#ffe7de 0 6px,#ffe8e0 0 8px,#ffeee8 0 10.1px,#ffe8e0 0 12.1px,#ffe6dc 0 14.1px,#ffe4da 0 16.1px,#ffebe4 0 18.1px,#ffece6 0 20.1px,#ffded2 0 22.1px,#ffe6dd 0 24.1px,#ffe6dd 0 26.2px,#ffe2d8 0 28.2px,#ffece4 0 30.2px,#ffece5 0 32.2px,#ffded2 0 34.2px,#ffefe9 0 36.2px,#fff7f4 0 38.2px,#ffe8e0 0 40.2px,#ffe1d6 0 42.3px,#ffede7 0 44.3px,#ffebe4 0 46.3px,#ffe4da 0 48.3px,#ffeee8 0 50.3px,#ffe8e0 0 52.3px,#ffe8e0 0 54.3px,#ffe6de 0 56.3px,#fff5f1 0 58.4px,#ffe0d5 0 60.4px,#ffebe4 0 62.4px,#ffe5dc 0 64.4px,#ffece5 0 66.4px,#fff0ea 0 68.4px,#ffe9e1 0 70.4px,#ffece5 0 72.4px,#ffdcd0 0 74.5px,#ffeae3 0 76.5px,#ffe5dc 0 78.5px,#ffebe4 0 80.5px,#ffe4da 0 82.5px,#ffe1d6 0 84.5px,#ffebe4 0 86.5px,#ffe5dc 0 88.5px,#ffdfd4 0 90.5px,#ffe7de 0 92.6px,#ffe8df 0 94.6px,#ffe9e1 0 96.6px,#ffe2d8 0 98.6px,#ffe3d9 0 100.6px,#ffe4da 0 102.6px,#ffe4db 0 104.6px,#ffd9cc 0 106.6px,#ffeee8 0 108.7px,#ffe8df 0 110.7px,#ffefe8 0 112.7px,#ffeae2 0 114.7px,#ffe0d5 0 116.7px,#ffe4db 0 118.7px,#ffe1d6 0 120.7px,#ffede6 0 122.7px,#ffe9e1 0 124.8px,#ffdbce 0 126.8px,#ffe3d8 0 128.8px,#ffe0d5 0 130.8px,#ffe1d6 0 132.8px,#ffe5dc 0 134.8px,#ffe6dc 0 136.8px,#ffe6dc 0 138.8px,#ffe4da 0 140.9px,#ffeae2 0 142.9px,#ffe6dd 0 144.9px,#ffded2 0 146.9px,#ffe7de 0 148.9px,#ffe7de 0 150.9px,#ffe0d5 0 152.9px,#ffe5dc 0 154.9px,#ffe5db 0 157px,#ffdcd0 0 159px,#ffe2d7 0 161px,#ffe3d8 0 163px,#ffe2d8 0 165px)"></div><div style="left:19px;top:527.4px;width:165px;height:9.7px;background:linear-gradient(90deg,#ffded3 0 2px,#ffeae3 0 4px,#ffe6dd 0 6px,#ffe7df 0 8px,#ffede7 0 10.1px,#ffdcd0 0 12.1px,#ffe2d8 0 14.1px,#ffe5db 0 16.1px,#ffe8df 0 18.1px,#ffeee7 0 20.1px,#ffe7de 0 22.1px,#ffe4db 0 24.1px,#ffd7c8 0 26.2px,#ffeee7 0 28.2px,#ffe5db 0 30.2px,#ffe1d6 0 32.2px,#ffdbce 0 34.2px,#ffded3 0 36.2px,#ffe7de 0 38.2px,#ffe9e1 0 40.2px,#ffe7de 0 42.3px,#ffeae2 0 44.3px,#ffe0d5 0 46.3px,#ffece5 0 48.3px,#ffe6dd 0 50.3px,#ffe7de 0 52.3px,#ffe6de 0 54.3px,#fff0ea 0 56.3px,#ffede7 0 58.4px,#ffe3d9 0 60.4px,#ffeae2 0 62.4px,#ffe3d9 0 64.4px,#ffebe4 0 66.4px,#ffe9e1 0 68.4px,#ffe7df 0 70.4px,#ffe3d8 0 72.4px,#ffe0d5 0 74.5px,#ffede7 0 76.5px,#ffe8e0 0 78.5px,#ffe5dc 0 80.5px,#ffe3d8 0 82.5px,#ffe8e0 0 84.5px,#ffe6dd 0 86.5px,#ffe1d7 0 88.5px,#ffe0d5 0 90.5px,#ffece5 0 92.6px,#ffe6dc 0 94.6px,#ffe2d8 0 96.6px,#ffd5c7 0 98.6px,#ffe1d6 0 100.6px,#ffe9e1 0 102.6px,#ffe4da 0 104.6px,#ffe5db 0 106.6px,#ffe8e0 0 108.7px,#ffe6dd 0 110.7px,#ffe9e1 0 112.7px,#ffe2d8 0 114.7px,#ffdcd0 0 116.7px,#ffe3d8 0 118.7px,#ffe7de 0 120.7px,#ffe4da 0 122.7px,#ffe8e0 0 124.8px,#ffe2d8 0 126.8px,#ffe2d7 0 128.8px,#ffe1d6 0 130.8px,#ffdccf 0 132.8px,#ffe4da 0 134.8px,#ffe6dc 0 136.8px,#ffede6 0 138.8px,#ffe6dd 0 140.9px,#fff1ec 0 142.9px,#ffe0d5 0 144.9px,#ffe7df 0 146.9px,#ffe2d7 0 148.9px,#ffe9e2 0 150.9px,#ffe5dc 0 152.9px,#ffe8e0 0 154.9px,#ffdfd3 0 157px,#ffe5db 0 159px,#ffe9e1 0 161px,#ffeae2 0 163px,#ffe8df 0 165px)"></div><div style="left:19px;top:536.8px;width:165px;height:9.7px;background:linear-gradient(90deg,#ceb0ff 0 2px,#d3b6ff 0 4px,#e6d4ff 0 6px,#d6bbff 0 8px,#d3b7ff 0 10.1px,#d5b9ff 0 12.1px,#d8bfff 0 14.1px,#ddc6ff 0 16.1px,#c3a1ff 0 18.1px,#d8bfff 0 20.1px,#e2ceff 0 22.1px,#cdafff 0 24.1px,#e5d2ff 0 26.2px,#eadbff 0 28.2px,#dcc5ff 0 30.2px,#e4d2ff 0 32.2px,#e7d6ff 0 34.2px,#d9c0ff 0 36.2px,#c9a9ff 0 38.2px,#cbabff 0 40.2px,#caaaff 0 42.3px,#d3b7ff 0 44.3px,#dbc2ff 0 46.3px,#dfc9ff 0 48.3px,#e6d5ff 0 50.3px,#e0caff 0 52.3px,#d8bfff 0 54.3px,#e0caff 0 56.3px,#ceb0ff 0 58.4px,#eee2ff 0 60.4px,#e4d0ff 0 62.4px,#e2ceff 0 64.4px,#c6a5ff 0 66.4px,#d6bbff 0 68.4px,#d7beff 0 70.4px,#d5baff 0 72.4px,#f2e8ff 0 74.5px,#e0cbff 0 76.5px,#e7d6ff 0 78.5px,#d4b9ff 0 80.5px,#d1b3ff 0 82.5px,#d7bdff 0 84.5px,#d9c0ff 0 86.5px,#e8d8ff 0 88.5px,#e9d9ff 0 90.5px,#ddc6ff 0 92.6px,#e1ccff 0 94.6px,#dcc4ff 0 96.6px,#eddfff 0 98.6px,#e3cfff 0 100.6px,#e6d4ff 0 102.6px,#ccadff 0 104.6px,#e9d8ff 0 106.6px,#dac2ff 0 108.7px,#dcc5ff 0 110.7px,#dec8ff 0 112.7px,#e5d2ff 0 114.7px,#dec7ff 0 116.7px,#ccacff 0 118.7px,#d7bdff 0 120.7px,#e4d1ff 0 122.7px,#ddc6ff 0 124.8px,#d6bbff 0 126.8px,#dcc5ff 0 128.8px,#e4d1ff 0 130.8px,#dfc9ff 0 132.8px,#e0cbff 0 134.8px,#d9bfff 0 136.8px,#d6bbff 0 138.8px,#dcc4ff 0 140.9px,#d1b4ff 0 142.9px,#dac1ff 0 144.9px,#faf5ff 0 146.9px,#eadaff 0 148.9px,#e2cdff 0 150.9px,#d2b5ff 0 152.9px,#e0cbff 0 154.9px,#e5d3ff 0 157px,#d5baff 0 159px,#ddc6ff 0 161px,#d1b3ff 0 163px,#dec7ff 0 165px)"></div><div style="left:19px;top:546.2px;width:165px;height:9.7px;background:linear-gradient(90deg,#fff2ed 0 2px,#ffe5db 0 4px,#ffded3 0 6px,#ffede6 0 8px,#ffe9e2 0 10.1px,#ffe9e1 0 12.1px,#ffe9e1 0 14.1px,#ffe7df 0 16.1px,#fff4ef 0 18.1px,#ffe8df 0 20.1px,#ffe2d8 0 22.1px,#ffeee8 0 24.1px,#ffdfd4 0 26.2px,#ffeae3 0 28.2px,#fff3ef 0 30.2px,#ffe4db 0 32.2px,#ffe8df 0 34.2px,#ffe4db 0 36.2px,#ffece5 0 38.2px,#ffe9e1 0 40.2px,#ffe7de 0 42.3px,#ffe3d9 0 44.3px,#ffe9e1 0 46.3px,#ffe7de 0 48.3px,#ffe8df 0 50.3px,#ffe1d6 0 52.3px,#ffe8e0 0 54.3px,#ffe3d9 0 56.3px,#ffe8e0 0 58.4px,#ffe8df 0 60.4px,#ffede6 0 62.4px,#ffeee7 0 64.4px,#fff1ec 0 66.4px,#ffe9e0 0 68.4px,#ffefe9 0 70.4px,#ffeee8 0 72.4px,#ffded2 0 74.5px,#ffe9e1 0 76.5px,#ffe5dc 0 78.5px,#ffebe4 0 80.5px,#fff5f2 0 82.5px,#ffdfd4 0 84.5px,#ffebe4 0 86.5px,#ffede6 0 88.5px,#ffece5 0 90.5px,#ffebe4 0 92.6px,#ffe3d9 0 94.6px,#ffefe9 0 96.6px,#ffe2d8 0 98.6px,#fff5f1 0 100.6px,#ffe6de 0 102.6px,#ffebe3 0 104.6px,#ffe9e1 0 106.6px,#ffe7df 0 108.7px,#ffdccf 0 110.7px,#ffe5db 0 112.7px,#ffeae2 0 114.7px,#ffdfd3 0 116.7px,#ffebe4 0 118.7px,#ffede7 0 120.7px,#ffeae3 0 122.7px,#ffe6dc 0 124.8px,#ffe1d6 0 126.8px,#ffebe3 0 128.8px,#ffe9e1 0 130.8px,#ffe9e1 0 132.8px,#ffebe4 0 134.8px,#ffe4da 0 136.8px,#ffece5 0 138.8px,#ffede7 0 140.9px,#ffefe9 0 142.9px,#fff0ea 0 144.9px,#ffe9e1 0 146.9px,#ffede6 0 148.9px,#ffe4da 0 150.9px,#ffe3d9 0 152.9px,#ffe9e1 0 154.9px,#ffded3 0 157px,#ffeee8 0 159px,#ffe4da 0 161px,#ffe1d6 0 163px,#ffeee8 0 165px)"></div><div style="left:19px;top:555.5px;width:165px;height:9.7px;background:linear-gradient(90deg,#fff2ed 0 2px,#ffe5dc 0 4px,#ffe8df 0 6px,#ffece5 0 8px,#ffe9e1 0 10.1px,#ffebe4 0 12.1px,#fff4ef 0 14.1px,#ffece5 0 16.1px,#ffece5 0 18.1px,#fff2ed 0 20.1px,#ffefea 0 22.1px,#fff5f2 0 24.1px,#ffe4db 0 26.2px,#ffe0d4 0 28.2px,#fff3ef 0 30.2px,#fff9f7 0 32.2px,#ffdfd4 0 34.2px,#fff0eb 0 36.2px,#fff1eb 0 38.2px,#fff2ed 0 40.2px,#fff1eb 0 42.3px,#ffe9e1 0 44.3px,#ffe8e0 0 46.3px,#ffeae2 0 48.3px,#ffeee8 0 50.3px,#ffe3d9 0 52.3px,#ffe8e0 0 54.3px,#ffe8df 0 56.3px,#fff8f5 0 58.4px,#ffe6dc 0 60.4px,#ffede7 0 62.4px,#ffe5dc 0 64.4px,#fff1ec 0 66.4px,#ffe9e2 0 68.4px,#fff2ed 0 70.4px,#ffe6dd 0 72.4px,#ffdbce 0 74.5px,#ffe6dd 0 76.5px,#ffebe4 0 78.5px,#fff8f5 0 80.5px,#ffede7 0 82.5px,#ffebe3 0 84.5px,#fff1eb 0 86.5px,#ffe7de 0 88.5px,#ffe6dd 0 90.5px,#ffeee7 0 92.6px,#ffe3da 0 94.6px,#ffede6 0 96.6px,#ffeae3 0 98.6px,#fff1ec 0 100.6px,#ffebe4 0 102.6px,#ffe8e0 0 104.6px,#ffe3d9 0 106.6px,#ffede7 0 108.7px,#ffe2d8 0 110.7px,#fff1ec 0 112.7px,#ffe8df 0 114.7px,#ffe1d6 0 116.7px,#ffe9e1 0 118.7px,#ffe9e1 0 120.7px,#fff4ef 0 122.7px,#fff4ef 0 124.8px,#ffebe3 0 126.8px,#ffe8df 0 128.8px,#ffe1d6 0 130.8px,#ffede7 0 132.8px,#fff0eb 0 134.8px,#fff1ec 0 136.8px,#fff0eb 0 138.8px,#ffebe4 0 140.9px,#fff2ed 0 142.9px,#ffe3d9 0 144.9px,#ffe6dc 0 146.9px,#ffeae2 0 148.9px,#ffe7de 0 150.9px,#ffe9e1 0 152.9px,#ffe4db 0 154.9px,#ffe4da 0 157px,#ffede7 0 159px,#ffe4da 0 161px,#ffe2d7 0 163px,#ffeee7 0 165px)"></div><div style="left:19px;top:564.9px;width:165px;height:9.7px;background:linear-gradient(90deg,#d7bdff 0 2px,#e7d6ff 0 4px,#e1cdff 0 6px,#d2b6ff 0 8px,#e1cdff 0 10.1px,#ddc6ff 0 12.1px,#dbc2ff 0 14.1px,#eadbff 0 16.1px,#c4a1ff 0 18.1px,#d5b9ff 0 20.1px,#d4b8ff 0 22.1px,#dcc5ff 0 24.1px,#d6bbff 0 26.2px,#ddc6ff 0 28.2px,#e6d4ff 0 30.2px,#dac1ff 0 32.2px,#e3d0ff 0 34.2px,#ede0ff 0 36.2px,#d1b4ff 0 38.2px,#e5d3ff 0 40.2px,#d9bfff 0 42.3px,#cfb1ff 0 44.3px,#eee1ff 0 46.3px,#d8bfff 0 48.3px,#e7d6ff 0 50.3px,#efe2ff 0 52.3px,#d7beff 0 54.3px,#e0caff 0 56.3px,#caaaff 0 58.4px,#e9d9ff 0 60.4px,#d3b7ff 0 62.4px,#cfb0ff 0 64.4px,#d3b7ff 0 66.4px,#e6d3ff 0 68.4px,#d5b9ff 0 70.4px,#e5d2ff 0 72.4px,#efe3ff 0 74.5px,#ddc6ff 0 76.5px,#e7d6ff 0 78.5px,#d5bbff 0 80.5px,#e9d9ff 0 82.5px,#ecdeff 0 84.5px,#e6d4ff 0 86.5px,#e8d7ff 0 88.5px,#e0cbff 0 90.5px,#c9a9ff 0 92.6px,#ecdfff 0 94.6px,#eadaff 0 96.6px,#eddfff 0 98.6px,#d7bdff 0 100.6px,#e2ceff 0 102.6px,#eadbff 0 104.6px,#e7d6ff 0 106.6px,#ceb0ff 0 108.7px,#e3cfff 0 110.7px,#d4b9ff 0 112.7px,#e4d2ff 0 114.7px,#d9bfff 0 116.7px,#d5baff 0 118.7px,#e7d6ff 0 120.7px,#eee1ff 0 122.7px,#d0b2ff 0 124.8px,#dfc9ff 0 126.8px,#d6bbff 0 128.8px,#ddc7ff 0 130.8px,#d2b6ff 0 132.8px,#e9d9ff 0 134.8px,#ceafff 0 136.8px,#e6d4ff 0 138.8px,#e1ccff 0 140.9px,#d2b6ff 0 142.9px,#d4b8ff 0 144.9px,#e2ceff 0 146.9px,#eadaff 0 148.9px,#ceb0ff 0 150.9px,#d8beff 0 152.9px,#e8d8ff 0 154.9px,#e1cdff 0 157px,#dbc2ff 0 159px,#d9bfff 0 161px,#e3cfff 0 163px,#d3b7ff 0 165px)"></div><div style="left:19px;top:574.3px;width:165px;height:9.7px;background:linear-gradient(90deg,#fffaf8 0 2px,#efe3ff 0 4px,#fff8f6 0 6px,#f8f3ff 0 8px,#f2e7ff 0 10.1px,#f8f3ff 0 12.1px,#f7f0ff 0 14.1px,#fff8f5 0 16.1px,#f5edff 0 18.1px,#f0e4ff 0 20.1px,#faf6ff 0 22.1px,#fbf8ff 0 24.1px,#f6f0ff 0 26.2px,#faf6ff 0 28.2px,#f2e7ff 0 30.2px,#fbf7ff 0 32.2px,#fff8f5 0 34.2px,#e6d5ff 0 36.2px,#f1e6ff 0 38.2px,#f9f4ff 0 40.2px,#ede0ff 0 42.3px,#eee2ff 0 44.3px,#fdfcff 0 46.3px,#f6efff 0 48.3px,#f5edff 0 50.3px,#f1e7ff 0 52.3px,#fefeff 0 54.3px,#f4ebff 0 56.3px,#efe3ff 0 58.4px,#fefdff 0 60.4px,#f5edff 0 62.4px,#f4ebff 0 64.4px,#ebdcff 0 66.4px,#f7f1ff 0 68.4px,#f2e8ff 0 70.4px,#faf5ff 0 72.4px,#fffbfa 0 74.5px,#f5edff 0 76.5px,#f7f1ff 0 78.5px,#ebdcff 0 80.5px,#f7f0ff 0 82.5px,#fffcfa 0 84.5px,#f2e9ff 0 86.5px,#fefdff 0 88.5px,#faf7ff 0 90.5px,#f3e9ff 0 92.6px,#ffffff 0 94.6px,#eee2ff 0 96.6px,#fffaf9 0 98.6px,#f7f0ff 0 100.6px,#dec8ff 0 102.6px,#faf6ff 0 104.6px,#fffefd 0 106.6px,#fffcfb 0 108.7px,#f4ecff 0 110.7px,#f7f1ff 0 112.7px,#fffefd 0 114.7px,#f3e9ff 0 116.7px,#fffdfd 0 118.7px,#f6f0ff 0 120.7px,#f5edff 0 122.7px,#f0e5ff 0 124.8px,#fdfbff 0 126.8px,#fff9f7 0 128.8px,#fff6f3 0 130.8px,#e6d4ff 0 132.8px,#eadbff 0 134.8px,#fdfcff 0 136.8px,#f7f1ff 0 138.8px,#efe3ff 0 140.9px,#f6f0ff 0 142.9px,#f6efff 0 144.9px,#fdfbff 0 146.9px,#fffdfd 0 148.9px,#f4ebff 0 150.9px,#fff9f7 0 152.9px,#f8f2ff 0 154.9px,#fffcfa 0 157px,#fdfcff 0 159px,#fcf9ff 0 161px,#fffdfc 0 163px,#f5edff 0 165px)"></div><div style="left:19px;top:583.7px;width:165px;height:9.7px;background:linear-gradient(90deg,#d8beff 0 2px,#eee2ff 0 4px,#f8f2ff 0 6px,#dec8ff 0 8px,#dac2ff 0 10.1px,#f7f1ff 0 12.1px,#f8f3ff 0 14.1px,#e8d8ff 0 16.1px,#ecdeff 0 18.1px,#e7d6ff 0 20.1px,#fbf7ff 0 22.1px,#efe3ff 0 24.1px,#f6eeff 0 26.2px,#eee2ff 0 28.2px,#f0e4ff 0 30.2px,#ecdfff 0 32.2px,#f8f2ff 0 34.2px,#eadbff 0 36.2px,#e4d1ff 0 38.2px,#eee1ff 0 40.2px,#e7d6ff 0 42.3px,#e3cfff 0 44.3px,#e5d2ff 0 46.3px,#f7f1ff 0 48.3px,#ecdeff 0 50.3px,#f8f2ff 0 52.3px,#fbf7ff 0 54.3px,#ecdeff 0 56.3px,#ebddff 0 58.4px,#f7f0ff 0 60.4px,#e6d5ff 0 62.4px,#e8d7ff 0 64.4px,#e6d4ff 0 66.4px,#e4d1ff 0 68.4px,#e8d8ff 0 70.4px,#ebddff 0 72.4px,#fffbfa 0 74.5px,#f1e7ff 0 76.5px,#eee2ff 0 78.5px,#efe2ff 0 80.5px,#f7f1ff 0 82.5px,#f3eaff 0 84.5px,#e8d8ff 0 86.5px,#f5edff 0 88.5px,#dbc2ff 0 90.5px,#e4d1ff 0 92.6px,#f7f0ff 0 94.6px,#fbf7ff 0 96.6px,#f3eaff 0 98.6px,#f8f3ff 0 100.6px,#fffbf9 0 102.6px,#fefdff 0 104.6px,#e0cbff 0 106.6px,#f5ecff 0 108.7px,#f6efff 0 110.7px,#f6f0ff 0 112.7px,#f4ecff 0 114.7px,#ede0ff 0 116.7px,#eee1ff 0 118.7px,#f7f0ff 0 120.7px,#faf6ff 0 122.7px,#efe3ff 0 124.8px,#fbf8ff 0 126.8px,#f4ebff 0 128.8px,#f7f0ff 0 130.8px,#f1e7ff 0 132.8px,#ebdcff 0 134.8px,#eadaff 0 136.8px,#ecdeff 0 138.8px,#e7d6ff 0 140.9px,#dbc4ff 0 142.9px,#e1ccff 0 144.9px,#f9f5ff 0 146.9px,#eee1ff 0 148.9px,#e9daff 0 150.9px,#f4ecff 0 152.9px,#fffeff 0 154.9px,#fdfbff 0 157px,#ecdfff 0 159px,#ebdcff 0 161px,#f4ecff 0 163px,#e5d3ff 0 165px)"></div><div style="left:19px;top:593.1px;width:165px;height:9.7px;background:linear-gradient(90deg,#e9d9ff 0 2px,#fcfaff 0 4px,#f2e8ff 0 6px,#ecddff 0 8px,#ebddff 0 10.1px,#f5edff 0 12.1px,#f2e8ff 0 14.1px,#f5eeff 0 16.1px,#e4d1ff 0 18.1px,#e7d6ff 0 20.1px,#fefeff 0 22.1px,#f6f0ff 0 24.1px,#e3cfff 0 26.2px,#fffefd 0 28.2px,#f4ecff 0 30.2px,#ecdeff 0 32.2px,#fffcfc 0 34.2px,#d7bdff 0 36.2px,#e2cdff 0 38.2px,#f9f5ff 0 40.2px,#fff8f5 0 42.3px,#fff7f5 0 44.3px,#ede0ff 0 46.3px,#f6eeff 0 48.3px,#fefdff 0 50.3px,#efe3ff 0 52.3px,#fff6f3 0 54.3px,#f0e6ff 0 56.3px,#eee1ff 0 58.4px,#f0e4ff 0 60.4px,#f0e5ff 0 62.4px,#f5ecff 0 64.4px,#f7f0ff 0 66.4px,#ebddff 0 68.4px,#f1e6ff 0 70.4px,#fff9f7 0 72.4px,#fffeff 0 74.5px,#f9f3ff 0 76.5px,#fefeff 0 78.5px,#e9d9ff 0 80.5px,#f2e7ff 0 82.5px,#fffaf8 0 84.5px,#ffffff 0 86.5px,#fdfbff 0 88.5px,#f9f4ff 0 90.5px,#e5d3ff 0 92.6px,#faf6ff 0 94.6px,#fffefd 0 96.6px,#fff7f4 0 98.6px,#e6d4ff 0 100.6px,#e7d6ff 0 102.6px,#f0e4ff 0 104.6px,#fdfbff 0 106.6px,#ede0ff 0 108.7px,#f9f4ff 0 110.7px,#f8f3ff 0 112.7px,#fffbf9 0 114.7px,#fbf8ff 0 116.7px,#fffdfd 0 118.7px,#e4d0ff 0 120.7px,#fefeff 0 122.7px,#fcfaff 0 124.8px,#f2e8ff 0 126.8px,#fefeff 0 128.8px,#eadbff 0 130.8px,#ecddff 0 132.8px,#fff4ef 0 134.8px,#fffdfc 0 136.8px,#faf6ff 0 138.8px,#fefdff 0 140.9px,#faf6ff 0 142.9px,#e9d9ff 0 144.9px,#fdfcff 0 146.9px,#fff7f3 0 148.9px,#faf6ff 0 150.9px,#fdfbff 0 152.9px,#f6efff 0 154.9px,#fffefe 0 157px,#f2e8ff 0 159px,#f5edff 0 161px,#f5eeff 0 163px,#ebddff 0 165px)"></div><div style="left:19px;top:602.5px;width:165px;height:9.7px;background:linear-gradient(90deg,#f9f4ff 0 2px,#fffefd 0 4px,#fefdff 0 6px,#f3eaff 0 8px,#f9f4ff 0 10.1px,#fefeff 0 12.1px,#fffaf8 0 14.1px,#fefdff 0 16.1px,#f4ecff 0 18.1px,#faf6ff 0 20.1px,#fff8f5 0 22.1px,#fefdff 0 24.1px,#fffdfc 0 26.2px,#fbf7ff 0 28.2px,#faf5ff 0 30.2px,#fffdfd 0 32.2px,#fff5f1 0 34.2px,#fffdfc 0 36.2px,#eee2ff 0 38.2px,#fdfbff 0 40.2px,#f7f0ff 0 42.3px,#fffefd 0 44.3px,#ebddff 0 46.3px,#fbf9ff 0 48.3px,#f8f2ff 0 50.3px,#fff9f7 0 52.3px,#fffdfc 0 54.3px,#fffaf8 0 56.3px,#f2e8ff 0 58.4px,#fff6f2 0 60.4px,#f3ebff 0 62.4px,#fff9f6 0 64.4px,#f3eaff 0 66.4px,#f6efff 0 68.4px,#ffffff 0 70.4px,#fbf7ff 0 72.4px,#fff7f4 0 74.5px,#f3ebff 0 76.5px,#fefdff 0 78.5px,#f7f2ff 0 80.5px,#f7f0ff 0 82.5px,#fffdfc 0 84.5px,#eddfff 0 86.5px,#fffcfa 0 88.5px,#faf6ff 0 90.5px,#fffdfc 0 92.6px,#fdfbff 0 94.6px,#f5edff 0 96.6px,#fffdfd 0 98.6px,#fcfaff 0 100.6px,#fffcfb 0 102.6px,#f9f5ff 0 104.6px,#fbf8ff 0 106.6px,#fdfbff 0 108.7px,#fffaf8 0 110.7px,#f0e5ff 0 112.7px,#fbf8ff 0 114.7px,#fbf7ff 0 116.7px,#fff9f6 0 118.7px,#fffefd 0 120.7px,#fffbf9 0 122.7px,#fffdfd 0 124.8px,#fcfaff 0 126.8px,#fffdfc 0 128.8px,#fcf9ff 0 130.8px,#f9f5ff 0 132.8px,#fff7f4 0 134.8px,#f4ebff 0 136.8px,#fffaf8 0 138.8px,#fbf8ff 0 140.9px,#f2e8ff 0 142.9px,#fcf9ff 0 144.9px,#f9f5ff 0 146.9px,#fffbfa 0 148.9px,#fcfaff 0 150.9px,#f9f5ff 0 152.9px,#fff2ed 0 154.9px,#fcfaff 0 157px,#fffcfb 0 159px,#ffffff 0 161px,#fff8f6 0 163px,#f3e9ff 0 165px)"></div><div style="left:19px;top:611.8px;width:165px;height:9.7px;background:linear-gradient(90deg,#e9d9ff 0 2px,#dec8ff 0 4px,#fffaf8 0 6px,#f9f5ff 0 8px,#e7d6ff 0 10.1px,#ffffff 0 12.1px,#fffffe 0 14.1px,#ffefe9 0 16.1px,#f4ebff 0 18.1px,#f9f4ff 0 20.1px,#fffefd 0 22.1px,#fffdfd 0 24.1px,#fffefe 0 26.2px,#faf7ff 0 28.2px,#fefcff 0 30.2px,#fffefd 0 32.2px,#fdfbff 0 34.2px,#ede0ff 0 36.2px,#f4ebff 0 38.2px,#fffefd 0 40.2px,#f7f1ff 0 42.3px,#ebdcff 0 44.3px,#fdfcff 0 46.3px,#fefdff 0 48.3px,#fff7f5 0 50.3px,#fefdff 0 52.3px,#fff4f0 0 54.3px,#f4ebff 0 56.3px,#f6efff 0 58.4px,#fdfcff 0 60.4px,#e6d5ff 0 62.4px,#f5eeff 0 64.4px,#fbf8ff 0 66.4px,#fffdfd 0 68.4px,#f1e7ff 0 70.4px,#fffdfc 0 72.4px,#fff2ed 0 74.5px,#ffffff 0 76.5px,#ffffff 0 78.5px,#f4ebff 0 80.5px,#f0e5ff 0 82.5px,#fbf9ff 0 84.5px,#f9f4ff 0 86.5px,#f4ecff 0 88.5px,#f7f0ff 0 90.5px,#f4ecff 0 92.6px,#fdfcff 0 94.6px,#fdfbff 0 96.6px,#faf6ff 0 98.6px,#f2e9ff 0 100.6px,#fefeff 0 102.6px,#f5eeff 0 104.6px,#fffefe 0 106.6px,#f1e7ff 0 108.7px,#fff9f7 0 110.7px,#f6efff 0 112.7px,#f6efff 0 114.7px,#fffdfc 0 116.7px,#fffaf8 0 118.7px,#e4d1ff 0 120.7px,#fbf9ff 0 122.7px,#fbf9ff 0 124.8px,#fff8f5 0 126.8px,#fffdfc 0 128.8px,#faf6ff 0 130.8px,#eee2ff 0 132.8px,#ffffff 0 134.8px,#fffdfc 0 136.8px,#fdfcff 0 138.8px,#f6efff 0 140.9px,#ecdeff 0 142.9px,#fff7f4 0 144.9px,#f2e8ff 0 146.9px,#f4ecff 0 148.9px,#fffaf9 0 150.9px,#fffefe 0 152.9px,#fffdfc 0 154.9px,#ffffff 0 157px,#fff9f7 0 159px,#fff9f6 0 161px,#fdfcff 0 163px,#ffffff 0 165px)"></div><div style="left:19px;top:621.2px;width:165px;height:9.7px;background:linear-gradient(90deg,#e5d2ff 0 2px,#e9daff 0 4px,#fffbf9 0 6px,#efe4ff 0 8px,#dcc4ff 0 10.1px,#f5eeff 0 12.1px,#f3eaff 0 14.1px,#fffffe 0 16.1px,#efe2ff 0 18.1px,#e8d8ff 0 20.1px,#f4ebff 0 22.1px,#fefeff 0 24.1px,#f6f0ff 0 26.2px,#fcfaff 0 28.2px,#ede0ff 0 30.2px,#f8f2ff 0 32.2px,#fff2ed 0 34.2px,#f9f4ff 0 36.2px,#fbf7ff 0 38.2px,#f3eaff 0 40.2px,#eee2ff 0 42.3px,#f4ecff 0 44.3px,#f4ecff 0 46.3px,#f9f4ff 0 48.3px,#f2e9ff 0 50.3px,#fefeff 0 52.3px,#f6efff 0 54.3px,#f7f1ff 0 56.3px,#ecdeff 0 58.4px,#f0e5ff 0 60.4px,#f6f0ff 0 62.4px,#f5eeff 0 64.4px,#efe2ff 0 66.4px,#f5eeff 0 68.4px,#dfcaff 0 70.4px,#ebddff 0 72.4px,#fffefe 0 74.5px,#fefcff 0 76.5px,#f6eeff 0 78.5px,#f4ebff 0 80.5px,#ecddff 0 82.5px,#f2e9ff 0 84.5px,#f1e7ff 0 86.5px,#fffefe 0 88.5px,#e8d8ff 0 90.5px,#efe3ff 0 92.6px,#fcfaff 0 94.6px,#f2e9ff 0 96.6px,#fffffe 0 98.6px,#f9f5ff 0 100.6px,#fcf9ff 0 102.6px,#ede0ff 0 104.6px,#fffefe 0 106.6px,#ecdeff 0 108.7px,#f8f3ff 0 110.7px,#fffefd 0 112.7px,#fff3ee 0 114.7px,#fffbf9 0 116.7px,#faf6ff 0 118.7px,#ebdcff 0 120.7px,#f4ebff 0 122.7px,#fffaf8 0 124.8px,#fffdfd 0 126.8px,#e8d7ff 0 128.8px,#fffaf9 0 130.8px,#fdfcff 0 132.8px,#fffdfc 0 134.8px,#faf6ff 0 136.8px,#e4d2ff 0 138.8px,#ecdeff 0 140.9px,#efe3ff 0 142.9px,#f2e8ff 0 144.9px,#fffbf9 0 146.9px,#f8f3ff 0 148.9px,#faf6ff 0 150.9px,#fbf8ff 0 152.9px,#f9f5ff 0 154.9px,#f1e6ff 0 157px,#eddfff 0 159px,#e4d1ff 0 161px,#fffdfc 0 163px,#f2e9ff 0 165px)"></div><div style="left:349.3px;top:413.3px;width:165.1px;height:9.7px;background:linear-gradient(90deg,#ff8666 0 2px,#ff6644 0 4px,#ff7e5d 0 6px,#ff9475 0 8.1px,#ffaf96 0 10.1px,#ff8160 0 12.1px,#ff7c5b 0 14.1px,#ff8767 0 16.1px,#ff7957 0 18.1px,#ff8767 0 20.1px,#ff977a 0 22.1px,#ff8565 0 24.2px,#ff7857 0 26.2px,#ff8362 0 28.2px,#ffa78c 0 30.2px,#ff6140 0 32.2px,#ff8969 0 34.2px,#ff7a59 0 36.2px,#ff6b4a 0 38.3px,#ff8f70 0 40.3px,#ff6241 0 42.3px,#ff9071 0 44.3px,#ff7857 0 46.3px,#ff8b6c 0 48.3px,#ff361c 0 50.3px,#ff7c5b 0 52.3px,#ff7e5d 0 54.4px,#ff997b 0 56.4px,#ffa589 0 58.4px,#ffa488 0 60.4px,#ffa78d 0 62.4px,#ff9071 0 64.4px,#ff7a59 0 66.4px,#ff9173 0 68.5px,#ffa489 0 70.5px,#ffaa8f 0 72.5px,#ff9a7d 0 74.5px,#ff9577 0 76.5px,#ff987b 0 78.5px,#ff9a7c 0 80.5px,#ff9b7e 0 82.5px,#ff8362 0 84.6px,#ff7553 0 86.6px,#ff7756 0 88.6px,#ff8b6c 0 90.6px,#ff8e6e 0 92.6px,#ffa589 0 94.6px,#ff8565 0 96.6px,#ff704e 0 98.7px,#ff482a 0 100.7px,#ff3d21 0 102.7px,#ff6947 0 104.7px,#ff4124 0 106.7px,#ff4c2d 0 108.7px,#ff8766 0 110.7px,#ff6f4d 0 112.8px,#ff5736 0 114.8px,#ff3e22 0 116.8px,#ff6645 0 118.8px,#ff5131 0 120.8px,#ffb299 0 122.8px,#ffccba 0 124.8px,#ffdacd 0 126.8px,#ffc5b1 0 128.9px,#ffc0ab 0 130.9px,#ffaa90 0 132.9px,#ff6c4a 0 134.9px,#ff8362 0 136.9px,#ff8868 0 138.9px,#ff6c4b 0 140.9px,#ff8868 0 143px,#ff987a 0 145px,#ff7352 0 147px,#ff4729 0 149px,#ff7756 0 151px,#ff896a 0 153px,#ff6442 0 155px,#ff9476 0 157px,#ff8767 0 159.1px,#ff8261 0 161.1px,#ff7d5c 0 163.1px,#ff7756 0 165.1px)"></div><div style="left:349.3px;top:422.7px;width:165.1px;height:9.7px;background:linear-gradient(90deg,#ffa78c 0 2px,#ffad94 0 4px,#ffaf96 0 6px,#ffab91 0 8.1px,#ff9f83 0 10.1px,#ffbba5 0 12.1px,#ffccba 0 14.1px,#ffa387 0 16.1px,#ffb49c 0 18.1px,#ffae94 0 20.1px,#ffb39b 0 22.1px,#ffa185 0 24.2px,#ff9f83 0 26.2px,#ffc0ab 0 28.2px,#ffb198 0 30.2px,#ffbca6 0 32.2px,#ffc9b7 0 34.2px,#ffbaa3 0 36.2px,#ff9a7d 0 38.3px,#ff9677 0 40.3px,#ffa78c 0 42.3px,#ffb8a1 0 44.3px,#ffb79f 0 46.3px,#ffb59d 0 48.3px,#ffa286 0 50.3px,#ffc9b6 0 52.3px,#ffbea9 0 54.4px,#ffbda8 0 56.4px,#ffc6b2 0 58.4px,#ffbba5 0 60.4px,#ffd4c5 0 62.4px,#ffcfbf 0 64.4px,#ffc9b7 0 66.4px,#ffb9a2 0 68.5px,#ffccbb 0 70.5px,#ffd5c7 0 72.5px,#ffc6b3 0 74.5px,#ffd5c6 0 76.5px,#ffe9e1 0 78.5px,#ffc8b6 0 80.5px,#ffa185 0 82.5px,#ffb8a1 0 84.6px,#ffb299 0 86.6px,#ffae95 0 88.6px,#ffb69e 0 90.6px,#ffb299 0 92.6px,#ffbda7 0 94.6px,#ffc7b5 0 96.6px,#ffb9a2 0 98.7px,#ff987b 0 100.7px,#ffb69f 0 102.7px,#ffc9b7 0 104.7px,#ffbfaa 0 106.7px,#ffac92 0 108.7px,#ffc2ae 0 110.7px,#ffb198 0 112.8px,#ffb59e 0 114.8px,#ffb29a 0 116.8px,#ffd5c7 0 118.8px,#ffc3af 0 120.8px,#ffddd1 0 122.8px,#ffd3c3 0 124.8px,#ffe5dc 0 126.8px,#ffd0bf 0 128.9px,#ffb7a0 0 130.9px,#ffbda7 0 132.9px,#ff9a7c 0 134.9px,#ffa286 0 136.9px,#ffad93 0 138.9px,#ffd3c4 0 140.9px,#ffb9a3 0 143px,#ffb79f 0 145px,#ffaa90 0 147px,#ffb7a0 0 149px,#ffc5b2 0 151px,#ffe3d9 0 153px,#ffc3af 0 155px,#ffb198 0 157px,#ffcbb9 0 159.1px,#ffbfa9 0 161.1px,#ffb69e 0 163.1px,#ffc2ad 0 165.1px)"></div><div style="left:349.3px;top:432.1px;width:165.1px;height:9.7px;background:linear-gradient(90deg,#e5d2ff 0 2px,#ddc5ff 0 4px,#ede0ff 0 6px,#eddfff 0 8.1px,#ecddff 0 10.1px,#e9d9ff 0 12.1px,#dec7ff 0 14.1px,#b58eff 0 16.1px,#ccadff 0 18.1px,#c4a2ff 0 20.1px,#ccadff 0 22.1px,#c3a0ff 0 24.2px,#c8a7ff 0 26.2px,#dac1ff 0 28.2px,#dcc4ff 0 30.2px,#c5a3ff 0 32.2px,#c3a0ff 0 34.2px,#dec8ff 0 36.2px,#c09cff 0 38.3px,#c7a6ff 0 40.3px,#b58eff 0 42.3px,#bb95ff 0 44.3px,#c4a2ff 0 46.3px,#9a6eff 0 48.3px,#be9aff 0 50.3px,#d0b3ff 0 52.3px,#cdaeff 0 54.4px,#bc97ff 0 56.4px,#bb95ff 0 58.4px,#c5a4ff 0 60.4px,#c7a6ff 0 62.4px,#b68fff 0 64.4px,#b994ff 0 66.4px,#ceb0ff 0 68.5px,#bf9bff 0 70.5px,#c7a6ff 0 72.5px,#d6bbff 0 74.5px,#cbacff 0 76.5px,#ddc7ff 0 78.5px,#b38bff 0 80.5px,#b28aff 0 82.5px,#ad84ff 0 84.6px,#a77cff 0 86.6px,#af86ff 0 88.6px,#ccacff 0 90.6px,#aa81ff 0 92.6px,#9c71ff 0 94.6px,#9164ff 0 96.6px,#ac83ff 0 98.7px,#d7beff 0 100.7px,#b28aff 0 102.7px,#bc97ff 0 104.7px,#b891ff 0 106.7px,#bf9bff 0 108.7px,#d7bdff 0 110.7px,#af86ff 0 112.8px,#d1b4ff 0 114.8px,#a87eff 0 116.8px,#caaaff 0 118.8px,#b088ff 0 120.8px,#d0b3ff 0 122.8px,#d8beff 0 124.8px,#c7a6ff 0 126.8px,#d6bbff 0 128.9px,#e0cbff 0 130.9px,#e2cdff 0 132.9px,#d7beff 0 134.9px,#c5a4ff 0 136.9px,#c19eff 0 138.9px,#d6bbff 0 140.9px,#ccadff 0 143px,#bd98ff 0 145px,#d3b7ff 0 147px,#c8a7ff 0 149px,#be99ff 0 151px,#d1b4ff 0 153px,#d1b4ff 0 155px,#dfc9ff 0 157px,#d1b4ff 0 159.1px,#ddc7ff 0 161.1px,#d2b6ff 0 163.1px,#cbabff 0 165.1px)"></div><div style="left:349.3px;top:441.6px;width:165.1px;height:9.7px;background:linear-gradient(90deg,#ffd9cb 0 2px,#ffdcd0 0 4px,#ffd7c9 0 6px,#ffdbce 0 8.1px,#ffe2d7 0 10.1px,#ffe5dc 0 12.1px,#ffe0d5 0 14.1px,#ffdfd3 0 16.1px,#ffe0d5 0 18.1px,#ffefe9 0 20.1px,#ffe1d7 0 22.1px,#ffded2 0 24.2px,#ffdcd0 0 26.2px,#ffe3d9 0 28.2px,#fff3ee 0 30.2px,#ffede7 0 32.2px,#ffede6 0 34.2px,#ffeee8 0 36.2px,#ffece5 0 38.3px,#ffe1d6 0 40.3px,#ffdfd3 0 42.3px,#ffe6dd 0 44.3px,#ffe8e0 0 46.3px,#ffebe4 0 48.3px,#ffebe4 0 50.3px,#ffefea 0 52.3px,#ffe8e0 0 54.4px,#ffece4 0 56.4px,#fff0eb 0 58.4px,#fff2ed 0 60.4px,#ffeae2 0 62.4px,#ffeee8 0 64.4px,#fffcfb 0 66.4px,#fff9f6 0 68.5px,#fffcfa 0 70.5px,#f7f1ff 0 72.5px,#fff5f1 0 74.5px,#fff1ec 0 76.5px,#fff8f6 0 78.5px,#ffede7 0 80.5px,#ffebe3 0 82.5px,#ffe7de 0 84.6px,#ffebe4 0 86.6px,#fff0ea 0 88.6px,#ffe6dd 0 90.6px,#fff0eb 0 92.6px,#fffaf8 0 94.6px,#fff5f1 0 96.6px,#ffe5db 0 98.7px,#ffded2 0 100.7px,#ffe1d6 0 102.7px,#ffe0d4 0 104.7px,#ffd6c7 0 106.7px,#ffdfd3 0 108.7px,#ffe0d5 0 110.7px,#ffe2d8 0 112.8px,#ffdcd0 0 114.8px,#ffeae2 0 116.8px,#ffdccf 0 118.8px,#ffdccf 0 120.8px,#ffefea 0 122.8px,#fff5f1 0 124.8px,#ffeee7 0 126.8px,#ffece4 0 128.9px,#ffe7de 0 130.9px,#ffebe3 0 132.9px,#ffd7c9 0 134.9px,#ffdbce 0 136.9px,#ffd5c6 0 138.9px,#ffd9cc 0 140.9px,#ffe3d8 0 143px,#ffece5 0 145px,#ffe3d9 0 147px,#fff1ec 0 149px,#fff6f2 0 151px,#ffeee8 0 153px,#ffe7de 0 155px,#ffe8df 0 157px,#ffd9cb 0 159.1px,#ffdcd0 0 161.1px,#ffe0d5 0 163.1px,#ffe6dd 0 165.1px)"></div><div style="left:349.3px;top:451px;width:165.1px;height:9.7px;background:linear-gradient(90deg,#ffece4 0 2px,#fefdff 0 4px,#fff8f5 0 6px,#fffcfa 0 8.1px,#fff5f2 0 10.1px,#fdfbff 0 12.1px,#fff3ef 0 14.1px,#ffefe9 0 16.1px,#ffe8e0 0 18.1px,#ffe9e1 0 20.1px,#ffede6 0 22.1px,#fff0eb 0 24.2px,#ffefe9 0 26.2px,#fffbf9 0 28.2px,#fff4ef 0 30.2px,#fff1ec 0 32.2px,#fff3ef 0 34.2px,#fff6f3 0 36.2px,#fff3ee 0 38.3px,#ffebe4 0 40.3px,#ffe3d8 0 42.3px,#fff6f3 0 44.3px,#fff4f0 0 46.3px,#ffece5 0 48.3px,#ffe6dd 0 50.3px,#fffbfa 0 52.3px,#fff0eb 0 54.4px,#fbf7ff 0 56.4px,#fff3ef 0 58.4px,#faf6ff 0 60.4px,#fffbfa 0 62.4px,#fff9f7 0 64.4px,#fffefe 0 66.4px,#fffaf8 0 68.5px,#fff9f6 0 70.5px,#fbf8ff 0 72.5px,#fff4f0 0 74.5px,#fff3ef 0 76.5px,#fff4f0 0 78.5px,#fff0eb 0 80.5px,#fff7f4 0 82.5px,#fff7f4 0 84.6px,#fff4f0 0 86.6px,#fff7f4 0 88.6px,#ffeee7 0 90.6px,#fff7f4 0 92.6px,#fff4f0 0 94.6px,#fff3ef 0 96.6px,#ffede7 0 98.7px,#ffece5 0 100.7px,#ffe9e1 0 102.7px,#ffe8e0 0 104.7px,#fff1ec 0 106.7px,#fff2ed 0 108.7px,#fff0ea 0 110.7px,#fff2ed 0 112.8px,#ffebe3 0 114.8px,#fffaf8 0 116.8px,#ffebe3 0 118.8px,#fff5f1 0 120.8px,#fffffe 0 122.8px,#fffaf8 0 124.8px,#fffaf8 0 126.8px,#fffefd 0 128.9px,#ffe9e1 0 130.9px,#ffebe3 0 132.9px,#ffbfaa 0 134.9px,#ffc2ae 0 136.9px,#ffc5b2 0 138.9px,#ffb8a1 0 140.9px,#ffc5b2 0 143px,#ffd5c7 0 145px,#ffa98f 0 147px,#fff1ec 0 149px,#fffdfc 0 151px,#ffe7de 0 153px,#ffe7de 0 155px,#ffeee8 0 157px,#ffd8ca 0 159.1px,#fff0ea 0 161.1px,#ffe8df 0 163.1px,#ffece5 0 165.1px)"></div><div style="left:349.3px;top:460.4px;width:165.1px;height:9.7px;background:linear-gradient(90deg,#ba95ff 0 2px,#ae85ff 0 4px,#cdaeff 0 6px,#a378ff 0 8.1px,#b891ff 0 10.1px,#bb96ff 0 12.1px,#ba94ff 0 14.1px,#ffffff 0 16.1px,#f2e9ff 0 18.1px,#f6efff 0 20.1px,#fffefe 0 22.1px,#fefeff 0 24.2px,#fff6f3 0 26.2px,#faf6ff 0 28.2px,#fffcfb 0 30.2px,#f4ecff 0 32.2px,#e8d7ff 0 34.2px,#fffdfc 0 36.2px,#a378ff 0 38.3px,#a176ff 0 40.3px,#b188ff 0 42.3px,#b790ff 0 44.3px,#be99ff 0 46.3px,#a97fff 0 48.3px,#c6a4ff 0 50.3px,#f5ecff 0 52.3px,#faf6ff 0 54.4px,#ebdcff 0 56.4px,#f3ebff 0 58.4px,#f4ebff 0 60.4px,#f9f4ff 0 62.4px,#e6d5ff 0 64.4px,#e5d2ff 0 66.4px,#e8d8ff 0 68.5px,#dec7ff 0 70.5px,#ede0ff 0 72.5px,#e3d0ff 0 74.5px,#e1ccff 0 76.5px,#eadaff 0 78.5px,#b892ff 0 80.5px,#e4d0ff 0 82.5px,#bd98ff 0 84.6px,#ba94ff 0 86.6px,#cbacff 0 88.6px,#c9a9ff 0 90.6px,#cfb1ff 0 92.6px,#b189ff 0 94.6px,#b28bff 0 96.6px,#ae85ff 0 98.7px,#d5baff 0 100.7px,#9b6fff 0 102.7px,#bb95ff 0 104.7px,#8054ff 0 106.7px,#af86ff 0 108.7px,#c19eff 0 110.7px,#b088ff 0 112.8px,#b088ff 0 114.8px,#a77dff 0 116.8px,#be9aff 0 118.8px,#c09cff 0 120.8px,#f9f4ff 0 122.8px,#f7f2ff 0 124.8px,#eee1ff 0 126.8px,#f3eaff 0 128.9px,#f9f4ff 0 130.9px,#efe4ff 0 132.9px,#dfcaff 0 134.9px,#b690ff 0 136.9px,#d2b5ff 0 138.9px,#d3b6ff 0 140.9px,#c7a6ff 0 143px,#c3a0ff 0 145px,#cdaeff 0 147px,#a87eff 0 149px,#ae85ff 0 151px,#a87eff 0 153px,#bd98ff 0 155px,#ae85ff 0 157px,#bd99ff 0 159.1px,#cfb2ff 0 161.1px,#bb95ff 0 163.1px,#ceafff 0 165.1px)"></div><div style="left:349.3px;top:469.8px;width:165.1px;height:9.7px;background:linear-gradient(90deg,#f8f2ff 0 2px,#ebdcff 0 4px,#eadaff 0 6px,#f4ecff 0 8.1px,#e4d0ff 0 10.1px,#ebdcff 0 12.1px,#e6d4ff 0 14.1px,#dbc3ff 0 16.1px,#cbabff 0 18.1px,#cfb1ff 0 20.1px,#c29fff 0 22.1px,#c4a1ff 0 24.2px,#c9a8ff 0 26.2px,#c09cff 0 28.2px,#c8a8ff 0 30.2px,#ab82ff 0 32.2px,#bd98ff 0 34.2px,#bb96ff 0 36.2px,#caaaff 0 38.3px,#c3a0ff 0 40.3px,#b891ff 0 42.3px,#c5a3ff 0 44.3px,#cfb1ff 0 46.3px,#b891ff 0 48.3px,#c5a3ff 0 50.3px,#e7d5ff 0 52.3px,#f4ecff 0 54.4px,#f7f1ff 0 56.4px,#ecdeff 0 58.4px,#efe2ff 0 60.4px,#ebdcff 0 62.4px,#f0e5ff 0 64.4px,#e1ccff 0 66.4px,#e8d7ff 0 68.5px,#dfc8ff 0 70.5px,#f2e9ff 0 72.5px,#fbf7ff 0 74.5px,#f2e8ff 0 76.5px,#f6efff 0 78.5px,#dcc4ff 0 80.5px,#e3cfff 0 82.5px,#d4b9ff 0 84.6px,#e8d8ff 0 86.6px,#eadbff 0 88.6px,#e4d0ff 0 90.6px,#e7d6ff 0 92.6px,#dac1ff 0 94.6px,#cdafff 0 96.6px,#885bff 0 98.7px,#d7bcff 0 100.7px,#b38cff 0 102.7px,#caaaff 0 104.7px,#ad84ff 0 106.7px,#a277ff 0 108.7px,#a277ff 0 110.7px,#8c60ff 0 112.8px,#c4a1ff 0 114.8px,#9f74ff 0 116.8px,#8255ff 0 118.8px,#bd99ff 0 120.8px,#e1cdff 0 122.8px,#eadbff 0 124.8px,#d9c0ff 0 126.8px,#eee2ff 0 128.9px,#ede0ff 0 130.9px,#fffefd 0 132.9px,#c7a5ff 0 134.9px,#b892ff 0 136.9px,#c7a6ff 0 138.9px,#b38cff 0 140.9px,#b993ff 0 143px,#9e72ff 0 145px,#ceb0ff 0 147px,#a479ff 0 149px,#c5a3ff 0 151px,#dfcaff 0 153px,#ceafff 0 155px,#d3b7ff 0 157px,#bd98ff 0 159.1px,#b48cff 0 161.1px,#c09dff 0 163.1px,#ccadff 0 165.1px)"></div><div style="left:349.3px;top:479.3px;width:165.1px;height:9.7px;background:linear-gradient(90deg,#ffd2c2 0 2px,#ffe9e1 0 4px,#ffe1d6 0 6px,#ffebe4 0 8.1px,#ffdacd 0 10.1px,#ffe1d6 0 12.1px,#ffddd1 0 14.1px,#ffede6 0 16.1px,#ffe8df 0 18.1px,#ffeae3 0 20.1px,#ffece5 0 22.1px,#fff1eb 0 24.2px,#ffeee8 0 26.2px,#fff5f1 0 28.2px,#fff9f6 0 30.2px,#fff0eb 0 32.2px,#fffcfb 0 34.2px,#fff3ef 0 36.2px,#fff2ed 0 38.3px,#ffece5 0 40.3px,#ffece5 0 42.3px,#fff0eb 0 44.3px,#ffebe4 0 46.3px,#fff0ea 0 48.3px,#fff9f6 0 50.3px,#f8f3ff 0 52.3px,#fff8f6 0 54.4px,#fff6f3 0 56.4px,#fff6f2 0 58.4px,#fffaf8 0 60.4px,#fff9f7 0 62.4px,#fffbfa 0 64.4px,#fff5f1 0 66.4px,#fff4f0 0 68.5px,#fcf9ff 0 70.5px,#ffffff 0 72.5px,#fff8f5 0 74.5px,#fff9f7 0 76.5px,#fff0eb 0 78.5px,#ffece5 0 80.5px,#ffefe9 0 82.5px,#fff2ed 0 84.6px,#ffe7de 0 86.6px,#fffcfb 0 88.6px,#fff5f1 0 90.6px,#ffeee8 0 92.6px,#fffefe 0 94.6px,#fff1ec 0 96.6px,#fff1ec 0 98.7px,#ffe4da 0 100.7px,#ffe6dd 0 102.7px,#ffdfd4 0 104.7px,#ffe7de 0 106.7px,#ffece6 0 108.7px,#ffe7de 0 110.7px,#ffe7df 0 112.8px,#ffd9cc 0 114.8px,#ffe1d7 0 116.8px,#fff9f7 0 118.8px,#ffe8e0 0 120.8px,#fffbf9 0 122.8px,#fff5f1 0 124.8px,#fff8f6 0 126.8px,#ffede6 0 128.9px,#ffe2d8 0 130.9px,#ffdacd 0 132.9px,#ffddd1 0 134.9px,#ffe1d6 0 136.9px,#ffdbcf 0 138.9px,#ffd7c9 0 140.9px,#ffe9e1 0 143px,#ffe9e1 0 145px,#ffdacd 0 147px,#ffdfd4 0 149px,#ffe5db 0 151px,#ffe5db 0 153px,#ffdcd0 0 155px,#ffd8cb 0 157px,#ffd0bf 0 159.1px,#ffdcd0 0 161.1px,#ffd7c8 0 163.1px,#ffd9cc 0 165.1px)"></div><div style="left:349.3px;top:488.7px;width:165.1px;height:9.7px;background:linear-gradient(90deg,#fff2ed 0 2px,#ffece5 0 4px,#ffeee8 0 6px,#ffefe9 0 8.1px,#fff8f6 0 10.1px,#fff1ec 0 12.1px,#ffebe4 0 14.1px,#ffd1c2 0 16.1px,#ffcfbe 0 18.1px,#ffd0c0 0 20.1px,#ffd6c7 0 22.1px,#ffd8ca 0 24.2px,#ffc3af 0 26.2px,#ffe1d6 0 28.2px,#ffddd1 0 30.2px,#ffd9cb 0 32.2px,#ffcdbb 0 34.2px,#ffe0d4 0 36.2px,#ffebe3 0 38.3px,#ffdacd 0 40.3px,#ffd7c9 0 42.3px,#ffeae2 0 44.3px,#ffe3d8 0 46.3px,#ffe9e0 0 48.3px,#ffe1d7 0 50.3px,#fffcfb 0 52.3px,#fff6f3 0 54.4px,#fdfbff 0 56.4px,#fffefd 0 58.4px,#fff5f1 0 60.4px,#fffefd 0 62.4px,#fff7f4 0 64.4px,#fffaf8 0 66.4px,#fff9f7 0 68.5px,#fffbfa 0 70.5px,#fffaf8 0 72.5px,#fff9f7 0 74.5px,#fffdfc 0 76.5px,#fff3ef 0 78.5px,#fff5f1 0 80.5px,#fff9f6 0 82.5px,#fff1ec 0 84.6px,#fff3ef 0 86.6px,#fff4f0 0 88.6px,#fff4ef 0 90.6px,#fdfbff 0 92.6px,#fff5f2 0 94.6px,#fff9f6 0 96.6px,#fff3ee 0 98.7px,#fff1ec 0 100.7px,#fffdfd 0 102.7px,#fff0ea 0 104.7px,#fff8f5 0 106.7px,#fff4f0 0 108.7px,#fff0eb 0 110.7px,#fff5f2 0 112.8px,#fff8f5 0 114.8px,#fff9f7 0 116.8px,#fff6f2 0 118.8px,#fcf9ff 0 120.8px,#fffdfc 0 122.8px,#fff6f2 0 124.8px,#fcfaff 0 126.8px,#fefcff 0 128.9px,#fff8f5 0 130.9px,#fff9f6 0 132.9px,#ffebe3 0 134.9px,#fff1ec 0 136.9px,#ffe5db 0 138.9px,#ffe8e0 0 140.9px,#fff5f1 0 143px,#fff6f2 0 145px,#ffece4 0 147px,#ffece5 0 149px,#ffede6 0 151px,#ffe8df 0 153px,#ffe1d6 0 155px,#ffe9e1 0 157px,#ffeee7 0 159.1px,#ffe5db 0 161.1px,#ffeae2 0 163.1px,#ffe8df 0 165.1px)"></div><div style="left:349.3px;top:498.1px;width:165.1px;height:9.7px;background:linear-gradient(90deg,#fbf7ff 0 2px,#e4d1ff 0 4px,#f8f3ff 0 6px,#eddfff 0 8.1px,#e1ccff 0 10.1px,#f4ecff 0 12.1px,#d9c0ff 0 14.1px,#b48cff 0 16.1px,#bf9aff 0 18.1px,#b188ff 0 20.1px,#bb95ff 0 22.1px,#c09cff 0 24.2px,#ab82ff 0 26.2px,#be9aff 0 28.2px,#ccadff 0 30.2px,#ceb0ff 0 32.2px,#b892ff 0 34.2px,#b48dff 0 36.2px,#f5edff 0 38.3px,#f7f1ff 0 40.3px,#ecdfff 0 42.3px,#ebdcff 0 44.3px,#f5edff 0 46.3px,#f9f4ff 0 48.3px,#fcfaff 0 50.3px,#e4d1ff 0 52.3px,#d2b5ff 0 54.4px,#ccadff 0 56.4px,#c3a1ff 0 58.4px,#d6bbff 0 60.4px,#c7a6ff 0 62.4px,#d0b3ff 0 64.4px,#c9a9ff 0 66.4px,#bf9bff 0 68.5px,#d6bbff 0 70.5px,#caabff 0 72.5px,#e5d3ff 0 74.5px,#e9daff 0 76.5px,#d3b7ff 0 78.5px,#e8d8ff 0 80.5px,#d6bbff 0 82.5px,#dac1ff 0 84.6px,#ebddff 0 86.6px,#e2ceff 0 88.6px,#c8a7ff 0 90.6px,#dec8ff 0 92.6px,#dec8ff 0 94.6px,#c3a1ff 0 96.6px,#a87eff 0 98.7px,#b38bff 0 100.7px,#8558ff 0 102.7px,#cdaeff 0 104.7px,#a67cff 0 106.7px,#8d60ff 0 108.7px,#d4b8ff 0 110.7px,#a67bff 0 112.8px,#ad84ff 0 114.8px,#b088ff 0 116.8px,#9669ff 0 118.8px,#b790ff 0 120.8px,#eadaff 0 122.8px,#efe4ff 0 124.8px,#e6d4ff 0 126.8px,#f2e8ff 0 128.9px,#f2e8ff 0 130.9px,#fffaf8 0 132.9px,#c29fff 0 134.9px,#d1b4ff 0 136.9px,#d6bcff 0 138.9px,#d5baff 0 140.9px,#b68fff 0 143px,#ba95ff 0 145px,#e0cbff 0 147px,#7c4fff 0 149px,#a67cff 0 151px,#c5a3ff 0 153px,#764aff 0 155px,#a57aff 0 157px,#b28aff 0 159.1px,#996dff 0 161.1px,#b189ff 0 163.1px,#9366ff 0 165.1px)"></div><div style="left:349.3px;top:507.5px;width:165.1px;height:9.7px;background:linear-gradient(90deg,#ffece5 0 2px,#ffede7 0 4px,#ffeae3 0 6px,#fff6f2 0 8.1px,#ffe8e0 0 10.1px,#ffebe3 0 12.1px,#ffefea 0 14.1px,#ffece5 0 16.1px,#ffefe8 0 18.1px,#ffe5db 0 20.1px,#ffe9e1 0 22.1px,#ffe4da 0 24.2px,#fff4f0 0 26.2px,#ffeae3 0 28.2px,#fff1ec 0 30.2px,#fff4f0 0 32.2px,#fff1eb 0 34.2px,#ffeae3 0 36.2px,#fff2ee 0 38.3px,#fff3ee 0 40.3px,#ffefe9 0 42.3px,#fff8f6 0 44.3px,#fff5f2 0 46.3px,#fff9f7 0 48.3px,#ffebe4 0 50.3px,#ffeae3 0 52.3px,#fff4f0 0 54.4px,#ffeee8 0 56.4px,#fff7f4 0 58.4px,#ffede6 0 60.4px,#ffeee8 0 62.4px,#fff4f0 0 64.4px,#fffcfb 0 66.4px,#fff4f0 0 68.5px,#fff0eb 0 70.5px,#fff0ea 0 72.5px,#ffeae3 0 74.5px,#fffaf8 0 76.5px,#fff8f6 0 78.5px,#ffede6 0 80.5px,#ffebe4 0 82.5px,#ffede7 0 84.6px,#fff4f0 0 86.6px,#ffeee8 0 88.6px,#ffe7de 0 90.6px,#ffeee8 0 92.6px,#fff2ed 0 94.6px,#ffeee8 0 96.6px,#ffece5 0 98.7px,#ffe9e1 0 100.7px,#fff6f3 0 102.7px,#ffe9e0 0 104.7px,#ffece5 0 106.7px,#fff0ea 0 108.7px,#fff1eb 0 110.7px,#ffede7 0 112.8px,#fff6f2 0 114.8px,#fffaf8 0 116.8px,#fff2ed 0 118.8px,#fff1eb 0 120.8px,#fff1eb 0 122.8px,#ffebe4 0 124.8px,#fbf8ff 0 126.8px,#fffaf8 0 128.9px,#fff0eb 0 130.9px,#ffe4da 0 132.9px,#ffdfd4 0 134.9px,#ffe2d7 0 136.9px,#ffe2d7 0 138.9px,#ffeae2 0 140.9px,#ffdfd3 0 143px,#fff0eb 0 145px,#ffd7c9 0 147px,#ffeee8 0 149px,#fff2ed 0 151px,#fff5f1 0 153px,#ffede7 0 155px,#fff3ef 0 157px,#ffe6dd 0 159.1px,#ffe9e1 0 161.1px,#ffebe3 0 163.1px,#fff7f3 0 165.1px)"></div><div style="left:349.3px;top:516.9px;width:165.1px;height:9.7px;background:linear-gradient(90deg,#ebddff 0 2px,#e7d5ff 0 4px,#e9daff 0 6px,#dcc4ff 0 8.1px,#d3b7ff 0 10.1px,#e8d8ff 0 12.1px,#dac2ff 0 14.1px,#dac1ff 0 16.1px,#e8d8ff 0 18.1px,#d2b6ff 0 20.1px,#e7d6ff 0 22.1px,#e1cdff 0 24.2px,#e9d9ff 0 26.2px,#ddc6ff 0 28.2px,#ebdcff 0 30.2px,#dbc4ff 0 32.2px,#e3d0ff 0 34.2px,#dac1ff 0 36.2px,#e7d6ff 0 38.3px,#cdafff 0 40.3px,#dbc4ff 0 42.3px,#dcc5ff 0 44.3px,#d8bfff 0 46.3px,#e4d1ff 0 48.3px,#e0caff 0 50.3px,#e4d2ff 0 52.3px,#f0e5ff 0 54.4px,#e9d9ff 0 56.4px,#e5d2ff 0 58.4px,#e5d3ff 0 60.4px,#e8d7ff 0 62.4px,#e8d7ff 0 64.4px,#d3b7ff 0 66.4px,#f2e8ff 0 68.5px,#e4d1ff 0 70.5px,#f4ebff 0 72.5px,#e6d4ff 0 74.5px,#dac1ff 0 76.5px,#e8d7ff 0 78.5px,#eee1ff 0 80.5px,#ddc6ff 0 82.5px,#ddc6ff 0 84.6px,#e5d2ff 0 86.6px,#d6bcff 0 88.6px,#d4b9ff 0 90.6px,#e3d0ff 0 92.6px,#d3b7ff 0 94.6px,#d9c0ff 0 96.6px,#cbabff 0 98.7px,#c19eff 0 100.7px,#cdaeff 0 102.7px,#d2b5ff 0 104.7px,#c09dff 0 106.7px,#ccadff 0 108.7px,#d4b9ff 0 110.7px,#ceb0ff 0 112.8px,#cdaeff 0 114.8px,#c9a8ff 0 116.8px,#d2b5ff 0 118.8px,#ceb0ff 0 120.8px,#dbc4ff 0 122.8px,#e8d7ff 0 124.8px,#e6d4ff 0 126.8px,#ede0ff 0 128.9px,#ebdcff 0 130.9px,#efe3ff 0 132.9px,#c29fff 0 134.9px,#b68fff 0 136.9px,#c2a0ff 0 138.9px,#c8a7ff 0 140.9px,#bc97ff 0 143px,#a77cff 0 145px,#c9a8ff 0 147px,#d9c0ff 0 149px,#be99ff 0 151px,#c09cff 0 153px,#caabff 0 155px,#d8bfff 0 157px,#d2b5ff 0 159.1px,#d0b2ff 0 161.1px,#dbc4ff 0 163.1px,#dfcaff 0 165.1px)"></div><div style="left:349.3px;top:526.4px;width:165.1px;height:9.7px;background:linear-gradient(90deg,#f6efff 0 2px,#eee2ff 0 4px,#faf6ff 0 6px,#f1e6ff 0 8.1px,#e5d2ff 0 10.1px,#fffcfa 0 12.1px,#ecddff 0 14.1px,#dbc3ff 0 16.1px,#d6bcff 0 18.1px,#cdafff 0 20.1px,#d0b2ff 0 22.1px,#cdafff 0 24.2px,#dac2ff 0 26.2px,#cdafff 0 28.2px,#ccadff 0 30.2px,#cbabff 0 32.2px,#c6a4ff 0 34.2px,#d3b7ff 0 36.2px,#c8a7ff 0 38.3px,#d7bcff 0 40.3px,#d9c0ff 0 42.3px,#c3a0ff 0 44.3px,#d7bdff 0 46.3px,#cdaeff 0 48.3px,#d5baff 0 50.3px,#dec8ff 0 52.3px,#e7d7ff 0 54.4px,#d6bbff 0 56.4px,#e3d0ff 0 58.4px,#d6bcff 0 60.4px,#dfcaff 0 62.4px,#ceb0ff 0 64.4px,#b28aff 0 66.4px,#e0cbff 0 68.5px,#cdafff 0 70.5px,#c5a3ff 0 72.5px,#c5a4ff 0 74.5px,#d4b8ff 0 76.5px,#d4b8ff 0 78.5px,#d1b4ff 0 80.5px,#d2b6ff 0 82.5px,#c5a3ff 0 84.6px,#d1b4ff 0 86.6px,#b993ff 0 88.6px,#dbc2ff 0 90.6px,#d4b8ff 0 92.6px,#d4b9ff 0 94.6px,#d9c0ff 0 96.6px,#d8beff 0 98.7px,#d3b6ff 0 100.7px,#ebdcff 0 102.7px,#e4d1ff 0 104.7px,#ecdfff 0 106.7px,#dac1ff 0 108.7px,#e4d2ff 0 110.7px,#f3eaff 0 112.8px,#e1cdff 0 114.8px,#e1ccff 0 116.8px,#dec7ff 0 118.8px,#ddc7ff 0 120.8px,#e5d3ff 0 122.8px,#eddfff 0 124.8px,#d6bcff 0 126.8px,#e6d4ff 0 128.9px,#efe3ff 0 130.9px,#fbf8ff 0 132.9px,#e0cbff 0 134.9px,#dec8ff 0 136.9px,#dbc3ff 0 138.9px,#ffffff 0 140.9px,#d3b7ff 0 143px,#ebddff 0 145px,#dec7ff 0 147px,#e7d6ff 0 149px,#dcc5ff 0 151px,#ecdeff 0 153px,#eddfff 0 155px,#d8beff 0 157px,#f2e9ff 0 159.1px,#d9c1ff 0 161.1px,#eee2ff 0 163.1px,#ddc7ff 0 165.1px)"></div><div style="left:349.3px;top:535.8px;width:165.1px;height:9.7px;background:linear-gradient(90deg,#ffdfd4 0 2px,#ffe7df 0 4px,#ffeee8 0 6px,#ffe8df 0 8.1px,#ffe7df 0 10.1px,#ffe0d5 0 12.1px,#ffe9e1 0 14.1px,#ffffff 0 16.1px,#fffefe 0 18.1px,#fff4ef 0 20.1px,#fffaf8 0 22.1px,#fff5f1 0 24.2px,#fff8f5 0 26.2px,#fffcfb 0 28.2px,#fff6f3 0 30.2px,#fcf9ff 0 32.2px,#f7f1ff 0 34.2px,#ffffff 0 36.2px,#fff9f6 0 38.3px,#ffebe4 0 40.3px,#fff1eb 0 42.3px,#fff8f5 0 44.3px,#fff4f0 0 46.3px,#fff0eb 0 48.3px,#ffece5 0 50.3px,#faf5ff 0 52.3px,#fffaf8 0 54.4px,#fffbf9 0 56.4px,#fffcfb 0 58.4px,#fff7f4 0 60.4px,#fffdfc 0 62.4px,#fff0ea 0 64.4px,#ffefea 0 66.4px,#fff0eb 0 68.5px,#fff9f6 0 70.5px,#fff7f3 0 72.5px,#ffede6 0 74.5px,#ffe9e1 0 76.5px,#fff8f5 0 78.5px,#ffe7df 0 80.5px,#ffede6 0 82.5px,#fff3ee 0 84.6px,#ffebe4 0 86.6px,#ffebe4 0 88.6px,#fff3ee 0 90.6px,#fff1ec 0 92.6px,#fff0ea 0 94.6px,#fff1eb 0 96.6px,#fff0ea 0 98.7px,#ffe8df 0 100.7px,#ffe8df 0 102.7px,#ffe0d5 0 104.7px,#ffeee7 0 106.7px,#ffeee8 0 108.7px,#fff2ed 0 110.7px,#ffebe4 0 112.8px,#fff1ec 0 114.8px,#fff1ec 0 116.8px,#ffede6 0 118.8px,#fff3ee 0 120.8px,#fff8f5 0 122.8px,#fff9f7 0 124.8px,#fff7f4 0 126.8px,#fff9f7 0 128.9px,#fff0eb 0 130.9px,#fff3ee 0 132.9px,#ffdacd 0 134.9px,#ffdacd 0 136.9px,#ffdacd 0 138.9px,#ffd3c4 0 140.9px,#ffdcd0 0 143px,#ffe9e1 0 145px,#ffdacd 0 147px,#faf6ff 0 149px,#faf7ff 0 151px,#fff6f3 0 153px,#fff7f4 0 155px,#fffaf8 0 157px,#fff7f4 0 159.1px,#fff7f4 0 161.1px,#fffbf9 0 163.1px,#ffede7 0 165.1px)"></div><div style="left:349.3px;top:545.2px;width:165.1px;height:9.7px;background:linear-gradient(90deg,#f1e6ff 0 2px,#fcfaff 0 4px,#fdfcff 0 6px,#faf6ff 0 8.1px,#eee1ff 0 10.1px,#eddfff 0 12.1px,#e9d9ff 0 14.1px,#ccadff 0 16.1px,#dec8ff 0 18.1px,#d2b5ff 0 20.1px,#d1b4ff 0 22.1px,#d6bbff 0 24.2px,#d2b6ff 0 26.2px,#dbc3ff 0 28.2px,#ddc6ff 0 30.2px,#ceb0ff 0 32.2px,#d2b5ff 0 34.2px,#d4b9ff 0 36.2px,#e0cbff 0 38.3px,#c7a6ff 0 40.3px,#d6bcff 0 42.3px,#caaaff 0 44.3px,#ccadff 0 46.3px,#d0b3ff 0 48.3px,#d2b5ff 0 50.3px,#f6efff 0 52.3px,#f1e7ff 0 54.4px,#e2ceff 0 56.4px,#f7f1ff 0 58.4px,#e9d9ff 0 60.4px,#fdfbff 0 62.4px,#f2e7ff 0 64.4px,#e8d8ff 0 66.4px,#ecdeff 0 68.5px,#e6d5ff 0 70.5px,#ebddff 0 72.5px,#ddc7ff 0 74.5px,#e4d2ff 0 76.5px,#eee2ff 0 78.5px,#f8f3ff 0 80.5px,#e7d5ff 0 82.5px,#e3d0ff 0 84.6px,#f7f1ff 0 86.6px,#f4ecff 0 88.6px,#eee1ff 0 90.6px,#f4ecff 0 92.6px,#d9c0ff 0 94.6px,#ecdeff 0 96.6px,#e8d8ff 0 98.7px,#dfc9ff 0 100.7px,#eee1ff 0 102.7px,#f1e6ff 0 104.7px,#e7d6ff 0 106.7px,#ddc6ff 0 108.7px,#fbf8ff 0 110.7px,#efe3ff 0 112.8px,#e7d5ff 0 114.8px,#d8bfff 0 116.8px,#ecdfff 0 118.8px,#e9daff 0 120.8px,#eee1ff 0 122.8px,#f1e6ff 0 124.8px,#e2cfff 0 126.8px,#f1e7ff 0 128.9px,#fbf9ff 0 130.9px,#fefeff 0 132.9px,#eadbff 0 134.9px,#f6efff 0 136.9px,#f2e8ff 0 138.9px,#f0e5ff 0 140.9px,#eee2ff 0 143px,#ddc6ff 0 145px,#ebddff 0 147px,#ecdfff 0 149px,#dbc3ff 0 151px,#e3d0ff 0 153px,#eadbff 0 155px,#e6d5ff 0 157px,#ebddff 0 159.1px,#eadbff 0 161.1px,#e3cfff 0 163.1px,#e8d8ff 0 165.1px)"></div><div style="left:349.3px;top:554.6px;width:165.1px;height:9.7px;background:linear-gradient(90deg,#fff5f2 0 2px,#fffaf9 0 4px,#fff0eb 0 6px,#fff6f3 0 8.1px,#fffdfc 0 10.1px,#fffaf8 0 12.1px,#fff7f4 0 14.1px,#fff6f3 0 16.1px,#fff5f1 0 18.1px,#fff0ea 0 20.1px,#ffebe4 0 22.1px,#ffeee8 0 24.2px,#fff7f4 0 26.2px,#fefdff 0 28.2px,#fff8f6 0 30.2px,#fff7f4 0 32.2px,#fffdfc 0 34.2px,#fff4ef 0 36.2px,#ffe5dc 0 38.3px,#ffe4da 0 40.3px,#ffe4da 0 42.3px,#ffeae2 0 44.3px,#ffe9e0 0 46.3px,#ffdcd0 0 48.3px,#ffd6c7 0 50.3px,#fff9f7 0 52.3px,#fff5f1 0 54.4px,#fff6f3 0 56.4px,#fffdfc 0 58.4px,#fff8f6 0 60.4px,#fffaf8 0 62.4px,#ffe8e0 0 64.4px,#fff8f6 0 66.4px,#fff1ec 0 68.5px,#fff6f3 0 70.5px,#fff3ee 0 72.5px,#ffebe4 0 74.5px,#fff1ec 0 76.5px,#fff5f2 0 78.5px,#ffe9e1 0 80.5px,#fff0eb 0 82.5px,#ffe8df 0 84.6px,#ffece5 0 86.6px,#fff2ed 0 88.6px,#fff0ea 0 90.6px,#ffeee8 0 92.6px,#fff5f1 0 94.6px,#fff6f3 0 96.6px,#fffdfc 0 98.7px,#fff9f7 0 100.7px,#fff4f0 0 102.7px,#fff8f6 0 104.7px,#fff2ed 0 106.7px,#ffffff 0 108.7px,#fff7f4 0 110.7px,#fff5f1 0 112.8px,#fffaf8 0 114.8px,#fffaf8 0 116.8px,#ffefe9 0 118.8px,#fff3ee 0 120.8px,#fefcff 0 122.8px,#fcfaff 0 124.8px,#fffdfc 0 126.8px,#fffcfb 0 128.9px,#fff6f3 0 130.9px,#fff1ec 0 132.9px,#fff3ee 0 134.9px,#ffebe4 0 136.9px,#ffe7de 0 138.9px,#ffede6 0 140.9px,#ffeee8 0 143px,#fff4f0 0 145px,#fff1ec 0 147px,#fff3ee 0 149px,#fffefd 0 151px,#ffeee8 0 153px,#fff4ef 0 155px,#ffeee8 0 157px,#ffebe4 0 159.1px,#fff2ed 0 161.1px,#ffeee8 0 163.1px,#fff2ee 0 165.1px)"></div><div style="left:349.3px;top:564px;width:165.1px;height:9.7px;background:linear-gradient(90deg,#fff4f0 0 2px,#fffcfb 0 4px,#fffefe 0 6px,#fbf8ff 0 8.1px,#fefdff 0 10.1px,#f8f2ff 0 12.1px,#fefcff 0 14.1px,#dac2ff 0 16.1px,#e3cfff 0 18.1px,#bf9aff 0 20.1px,#e4d1ff 0 22.1px,#ddc6ff 0 24.2px,#ccadff 0 26.2px,#b28aff 0 28.2px,#d7bdff 0 30.2px,#d0b3ff 0 32.2px,#ba94ff 0 34.2px,#ad84ff 0 36.2px,#c6a4ff 0 38.3px,#c3a0ff 0 40.3px,#bf9bff 0 42.3px,#ccadff 0 44.3px,#c09dff 0 46.3px,#cbabff 0 48.3px,#dbc4ff 0 50.3px,#f3e9ff 0 52.3px,#fffeff 0 54.4px,#f7f2ff 0 56.4px,#f7f0ff 0 58.4px,#fbf9ff 0 60.4px,#f0e4ff 0 62.4px,#ebdcff 0 64.4px,#d4b8ff 0 66.4px,#e2ceff 0 68.5px,#d6bcff 0 70.5px,#e8d8ff 0 72.5px,#d6bcff 0 74.5px,#e5d3ff 0 76.5px,#f7f1ff 0 78.5px,#fffcfb 0 80.5px,#f1e6ff 0 82.5px,#fdfbff 0 84.6px,#fefeff 0 86.6px,#fdfbff 0 88.6px,#fdfcff 0 90.6px,#fff3ef 0 92.6px,#eddfff 0 94.6px,#e7d5ff 0 96.6px,#dec8ff 0 98.7px,#f0e5ff 0 100.7px,#fdfcff 0 102.7px,#f4ebff 0 104.7px,#e5d3ff 0 106.7px,#d9c0ff 0 108.7px,#eee1ff 0 110.7px,#eadaff 0 112.8px,#f0e5ff 0 114.8px,#ddc6ff 0 116.8px,#e9d8ff 0 118.8px,#d9c0ff 0 120.8px,#ebddff 0 122.8px,#eadbff 0 124.8px,#e8d7ff 0 126.8px,#e9d9ff 0 128.9px,#fffefe 0 130.9px,#fefdff 0 132.9px,#ab81ff 0 134.9px,#bd99ff 0 136.9px,#d5baff 0 138.9px,#b791ff 0 140.9px,#b28aff 0 143px,#bd98ff 0 145px,#cdaeff 0 147px,#dfc9ff 0 149px,#e5d3ff 0 151px,#f2e8ff 0 153px,#eee2ff 0 155px,#f4ecff 0 157px,#fffdfc 0 159.1px,#f3eaff 0 161.1px,#f6efff 0 163.1px,#fdfcff 0 165.1px)"></div><div style="left:349.3px;top:573.5px;width:165.1px;height:9.7px;background:linear-gradient(90deg,#fff4f0 0 2px,#fffbf9 0 4px,#fff5f1 0 6px,#fffbf9 0 8.1px,#fff7f4 0 10.1px,#fff1ec 0 12.1px,#fff6f2 0 14.1px,#fffaf9 0 16.1px,#fbf8ff 0 18.1px,#fff6f2 0 20.1px,#fff6f3 0 22.1px,#fffaf8 0 24.2px,#fff4ef 0 26.2px,#fffdfc 0 28.2px,#ffffff 0 30.2px,#fffbfa 0 32.2px,#fff2ed 0 34.2px,#ffffff 0 36.2px,#fff9f7 0 38.3px,#fff4f0 0 40.3px,#fff5f1 0 42.3px,#fff5f1 0 44.3px,#fffcfb 0 46.3px,#fffaf8 0 48.3px,#fff7f5 0 50.3px,#fff9f7 0 52.3px,#fffdfc 0 54.4px,#fffaf9 0 56.4px,#fffaf8 0 58.4px,#fffbfa 0 60.4px,#fff8f6 0 62.4px,#ffede7 0 64.4px,#fff7f3 0 66.4px,#ffeae2 0 68.5px,#fff0ea 0 70.5px,#fff3ee 0 72.5px,#fff8f6 0 74.5px,#fffbf9 0 76.5px,#fff6f2 0 78.5px,#ffe1d6 0 80.5px,#ffece5 0 82.5px,#fff3ef 0 84.6px,#ffefe9 0 86.6px,#ffe8df 0 88.6px,#fff4f0 0 90.6px,#ffeee7 0 92.6px,#fff8f5 0 94.6px,#ffede7 0 96.6px,#ffefe8 0 98.7px,#ffeee7 0 100.7px,#fff4f0 0 102.7px,#fff6f2 0 104.7px,#fff8f5 0 106.7px,#fffcfb 0 108.7px,#fff5f1 0 110.7px,#fff8f5 0 112.8px,#fff9f6 0 114.8px,#ffffff 0 116.8px,#fffaf7 0 118.8px,#ffffff 0 120.8px,#fffefd 0 122.8px,#fff8f6 0 124.8px,#fffdfc 0 126.8px,#fffffe 0 128.9px,#fff6f3 0 130.9px,#ffeee8 0 132.9px,#ffe7de 0 134.9px,#ffded2 0 136.9px,#ffe7de 0 138.9px,#ffe6dd 0 140.9px,#ffe6dc 0 143px,#fff3ef 0 145px,#ffe5db 0 147px,#fff1ec 0 149px,#fff5f1 0 151px,#ffefea 0 153px,#ffe7de 0 155px,#fff8f5 0 157px,#ffece5 0 159.1px,#fff1ec 0 161.1px,#ffece5 0 163.1px,#ffebe4 0 165.1px)"></div><div style="left:349.3px;top:582.9px;width:165.1px;height:9.7px;background:linear-gradient(90deg,#ccacff 0 2px,#8a5eff 0 4px,#c6a5ff 0 6px,#bf9bff 0 8.1px,#b891ff 0 10.1px,#bb96ff 0 12.1px,#b791ff 0 14.1px,#fffefe 0 16.1px,#fffdfd 0 18.1px,#fffbf9 0 20.1px,#fff9f6 0 22.1px,#fff4f0 0 24.2px,#fff6f3 0 26.2px,#faf7ff 0 28.2px,#fbf8ff 0 30.2px,#f6efff 0 32.2px,#fbf8ff 0 34.2px,#fffaf8 0 36.2px,#fefeff 0 38.3px,#fff8f6 0 40.3px,#fff6f2 0 42.3px,#f2e9ff 0 44.3px,#fff8f5 0 46.3px,#fffcfb 0 48.3px,#fff7f3 0 50.3px,#efe3ff 0 52.3px,#ecddff 0 54.4px,#ecdfff 0 56.4px,#ecdeff 0 58.4px,#f1e6ff 0 60.4px,#fefdff 0 62.4px,#e6d5ff 0 64.4px,#d2b6ff 0 66.4px,#e7d6ff 0 68.5px,#dbc4ff 0 70.5px,#dcc5ff 0 72.5px,#d8beff 0 74.5px,#cdaeff 0 76.5px,#e3d0ff 0 78.5px,#f4ebff 0 80.5px,#fbf8ff 0 82.5px,#dec7ff 0 84.6px,#eddfff 0 86.6px,#f0e4ff 0 88.6px,#e4d1ff 0 90.6px,#ebddff 0 92.6px,#dcc4ff 0 94.6px,#e6d5ff 0 96.6px,#f7f1ff 0 98.7px,#fefeff 0 100.7px,#f9f5ff 0 102.7px,#eadbff 0 104.7px,#e5d2ff 0 106.7px,#f2e9ff 0 108.7px,#eee1ff 0 110.7px,#efe3ff 0 112.8px,#e3cfff 0 114.8px,#e0cbff 0 116.8px,#e3cfff 0 118.8px,#e1ccff 0 120.8px,#ede0ff 0 122.8px,#e9daff 0 124.8px,#d9c0ff 0 126.8px,#dfc9ff 0 128.9px,#f7f2ff 0 130.9px,#f4ebff 0 132.9px,#dbc2ff 0 134.9px,#dcc4ff 0 136.9px,#d8beff 0 138.9px,#dfcaff 0 140.9px,#d6bbff 0 143px,#d1b5ff 0 145px,#e7d7ff 0 147px,#c6a5ff 0 149px,#bc97ff 0 151px,#b791ff 0 153px,#ccadff 0 155px,#c9a9ff 0 157px,#d1b5ff 0 159.1px,#ceafff 0 161.1px,#b993ff 0 163.1px,#cfb1ff 0 165.1px)"></div><div style="left:349.3px;top:592.3px;width:165.1px;height:9.7px;background:linear-gradient(90deg,#fff6f2 0 2px,#fff8f5 0 4px,#fffcfb 0 6px,#fff4f0 0 8.1px,#fffaf8 0 10.1px,#fff4f0 0 12.1px,#fff8f6 0 14.1px,#fffbf9 0 16.1px,#fff8f5 0 18.1px,#fff5f2 0 20.1px,#fff8f5 0 22.1px,#fff7f4 0 24.2px,#fff1ec 0 26.2px,#fff6f2 0 28.2px,#fff8f6 0 30.2px,#fff8f5 0 32.2px,#fffcfb 0 34.2px,#fff8f6 0 36.2px,#fffbf9 0 38.3px,#fffaf8 0 40.3px,#fbf8ff 0 42.3px,#fff8f5 0 44.3px,#fffdfd 0 46.3px,#fcfaff 0 48.3px,#fff8f5 0 50.3px,#fff8f5 0 52.3px,#fff7f4 0 54.4px,#fff7f4 0 56.4px,#fff4f0 0 58.4px,#fffcfa 0 60.4px,#fff7f5 0 62.4px,#fff3ef 0 64.4px,#fffdfd 0 66.4px,#fff5f1 0 68.5px,#fff1eb 0 70.5px,#fff8f5 0 72.5px,#fffdfc 0 74.5px,#fffdfc 0 76.5px,#fff1ec 0 78.5px,#ffede6 0 80.5px,#fff3ee 0 82.5px,#fff5f2 0 84.6px,#fff0eb 0 86.6px,#fff7f4 0 88.6px,#fff4ef 0 90.6px,#fff3ee 0 92.6px,#fff8f5 0 94.6px,#fefdff 0 96.6px,#fff4f0 0 98.7px,#ffeee8 0 100.7px,#fff8f5 0 102.7px,#ffebe3 0 104.7px,#ffebe4 0 106.7px,#fff6f3 0 108.7px,#ffe8df 0 110.7px,#ffede7 0 112.8px,#fff3ee 0 114.8px,#fff1ec 0 116.8px,#ffeae2 0 118.8px,#ffece5 0 120.8px,#fffeff 0 122.8px,#fff3ee 0 124.8px,#fffcfb 0 126.8px,#fff8f6 0 128.9px,#fff0ea 0 130.9px,#fff6f2 0 132.9px,#fff6f3 0 134.9px,#fff7f4 0 136.9px,#ffebe4 0 138.9px,#fff6f2 0 140.9px,#fffaf8 0 143px,#fffaf7 0 145px,#fffaf8 0 147px,#faf6ff 0 149px,#f8f2ff 0 151px,#fff7f3 0 153px,#fff7f4 0 155px,#fff5f1 0 157px,#fff6f2 0 159.1px,#fff3ee 0 161.1px,#fff3ef 0 163.1px,#fff8f6 0 165.1px)"></div><div style="left:349.3px;top:601.7px;width:165.1px;height:9.7px;background:linear-gradient(90deg,#fffcfb 0 2px,#ffffff 0 4px,#fcf9ff 0 6px,#ecdfff 0 8.1px,#f8f3ff 0 10.1px,#f3eaff 0 12.1px,#fcfaff 0 14.1px,#d8beff 0 16.1px,#e8d7ff 0 18.1px,#d5baff 0 20.1px,#ceb0ff 0 22.1px,#e0caff 0 24.2px,#dfcaff 0 26.2px,#dbc3ff 0 28.2px,#d5baff 0 30.2px,#ceafff 0 32.2px,#c4a1ff 0 34.2px,#d7bdff 0 36.2px,#e3cfff 0 38.3px,#f0e4ff 0 40.3px,#f4ecff 0 42.3px,#d4b9ff 0 44.3px,#f0e4ff 0 46.3px,#dbc3ff 0 48.3px,#ecddff 0 50.3px,#fff6f2 0 52.3px,#ffeee7 0 54.4px,#fbf9ff 0 56.4px,#faf7ff 0 58.4px,#f8f2ff 0 60.4px,#fffefd 0 62.4px,#fbf7ff 0 64.4px,#f8f2ff 0 66.4px,#f7f1ff 0 68.5px,#f9f4ff 0 70.5px,#faf6ff 0 72.5px,#f3e9ff 0 74.5px,#fbf7ff 0 76.5px,#fffdfd 0 78.5px,#f9f4ff 0 80.5px,#e8d7ff 0 82.5px,#e3cfff 0 84.6px,#ecdeff 0 86.6px,#f1e6ff 0 88.6px,#f3eaff 0 90.6px,#ebdcff 0 92.6px,#e6d4ff 0 94.6px,#eddfff 0 96.6px,#fdfcff 0 98.7px,#fffbfa 0 100.7px,#eadaff 0 102.7px,#fbf9ff 0 104.7px,#faf6ff 0 106.7px,#f4ebff 0 108.7px,#e8d7ff 0 110.7px,#e4d0ff 0 112.8px,#fefeff 0 114.8px,#efe4ff 0 116.8px,#f2e9ff 0 118.8px,#ffffff 0 120.8px,#e5d3ff 0 122.8px,#e9d9ff 0 124.8px,#e1cdff 0 126.8px,#dfc9ff 0 128.9px,#efe4ff 0 130.9px,#fffaf8 0 132.9px,#f9f4ff 0 134.9px,#f9f5ff 0 136.9px,#f4ecff 0 138.9px,#efe3ff 0 140.9px,#eadbff 0 143px,#ecdeff 0 145px,#fcf9ff 0 147px,#c5a4ff 0 149px,#c8a7ff 0 151px,#dcc4ff 0 153px,#d6bbff 0 155px,#cbacff 0 157px,#d6bbff 0 159.1px,#c9a8ff 0 161.1px,#ceafff 0 163.1px,#d1b5ff 0 165.1px)"></div><div style="left:349.3px;top:611.2px;width:165.1px;height:9.7px;background:linear-gradient(90deg,#fff4ef 0 2px,#fff6f3 0 4px,#fff7f4 0 6px,#fff0ea 0 8.1px,#fffbfa 0 10.1px,#fff7f4 0 12.1px,#fdfbff 0 14.1px,#ffefe9 0 16.1px,#fff6f2 0 18.1px,#fff2ed 0 20.1px,#fffdfc 0 22.1px,#fff5f2 0 24.2px,#fff9f7 0 26.2px,#fffcfb 0 28.2px,#fff2ed 0 30.2px,#fffcfb 0 32.2px,#fffffe 0 34.2px,#fff7f4 0 36.2px,#efe4ff 0 38.3px,#f6efff 0 40.3px,#f1e6ff 0 42.3px,#f3e9ff 0 44.3px,#e6d5ff 0 46.3px,#f3ebff 0 48.3px,#efe4ff 0 50.3px,#fff6f3 0 52.3px,#fff9f6 0 54.4px,#fffefe 0 56.4px,#fffaf8 0 58.4px,#fffdfd 0 60.4px,#fff4f0 0 62.4px,#fffbf9 0 64.4px,#fff6f3 0 66.4px,#fff3ef 0 68.5px,#fff0ea 0 70.5px,#fff5f1 0 72.5px,#fff8f5 0 74.5px,#ffefe9 0 76.5px,#ffe8e0 0 78.5px,#fff5f1 0 80.5px,#fff2ed 0 82.5px,#fff8f5 0 84.6px,#fff7f5 0 86.6px,#fffaf8 0 88.6px,#ffeee8 0 90.6px,#fff5f1 0 92.6px,#fff6f3 0 94.6px,#fff9f6 0 96.6px,#f6eeff 0 98.7px,#f4ecff 0 100.7px,#f1e6ff 0 102.7px,#fbf8ff 0 104.7px,#f0e4ff 0 106.7px,#f8f3ff 0 108.7px,#ebdcff 0 110.7px,#f5edff 0 112.8px,#f9f4ff 0 114.8px,#dfc9ff 0 116.8px,#fbf9ff 0 118.8px,#f5ecff 0 120.8px,#fff7f4 0 122.8px,#ffefe9 0 124.8px,#fffbfa 0 126.8px,#fffbf9 0 128.9px,#fff1ec 0 130.9px,#fff5f1 0 132.9px,#ffe2d7 0 134.9px,#ffece5 0 136.9px,#ffe5dc 0 138.9px,#ffe7de 0 140.9px,#ffeae3 0 143px,#ffece5 0 145px,#ffe1d6 0 147px,#ffffff 0 149px,#ffffff 0 151px,#fffefe 0 153px,#fff7f4 0 155px,#fffefe 0 157px,#fffaf8 0 159.1px,#fffaf9 0 161.1px,#fffbfa 0 163.1px,#fff9f7 0 165.1px)"></div><div style="left:349.3px;top:620.6px;width:165.1px;height:9.7px;background:linear-gradient(90deg,#f7f0ff 0 2px,#e5d2ff 0 4px,#f6efff 0 6px,#e1cbff 0 8.1px,#eadaff 0 10.1px,#ecdfff 0 12.1px,#fffeff 0 14.1px,#dec8ff 0 16.1px,#dcc5ff 0 18.1px,#d7bdff 0 20.1px,#d4b8ff 0 22.1px,#f1e7ff 0 24.2px,#c3a0ff 0 26.2px,#caaaff 0 28.2px,#c8a8ff 0 30.2px,#e1ccff 0 32.2px,#d7beff 0 34.2px,#c8a8ff 0 36.2px,#e5d3ff 0 38.3px,#d4b8ff 0 40.3px,#efe3ff 0 42.3px,#dec8ff 0 44.3px,#d5bbff 0 46.3px,#d3b7ff 0 48.3px,#dac2ff 0 50.3px,#fff2ee 0 52.3px,#fff0ea 0 54.4px,#fffaf8 0 56.4px,#fffdfc 0 58.4px,#fff6f2 0 60.4px,#ffefea 0 62.4px,#fffbfa 0 64.4px,#fffcfa 0 66.4px,#fff5f1 0 68.5px,#fff9f6 0 70.5px,#fffbf9 0 72.5px,#fff8f6 0 74.5px,#fff8f5 0 76.5px,#fefeff 0 78.5px,#fffdfc 0 80.5px,#fff7f4 0 82.5px,#fefdff 0 84.6px,#fff9f7 0 86.6px,#fff6f2 0 88.6px,#fff4f1 0 90.6px,#fcf9ff 0 92.6px,#fffbfa 0 94.6px,#f5eeff 0 96.6px,#fffcfb 0 98.7px,#fff3ef 0 100.7px,#fff8f6 0 102.7px,#fffeff 0 104.7px,#ffebe4 0 106.7px,#faf5ff 0 108.7px,#fff9f7 0 110.7px,#fff1ec 0 112.8px,#fff6f3 0 114.8px,#fff8f6 0 116.8px,#fffbf9 0 118.8px,#fff8f5 0 120.8px,#e9daff 0 122.8px,#fffdfd 0 124.8px,#fdfcff 0 126.8px,#f8f2ff 0 128.9px,#fff6f3 0 130.9px,#fffbf9 0 132.9px,#fbf8ff 0 134.9px,#fffcfb 0 136.9px,#fdfbff 0 138.9px,#fdfbff 0 140.9px,#e4d0ff 0 143px,#eadbff 0 145px,#fffefe 0 147px,#e4d1ff 0 149px,#d5bbff 0 151px,#e9d9ff 0 153px,#f0e4ff 0 155px,#f5edff 0 157px,#fefdff 0 159.1px,#f7f0ff 0 161.1px,#eadaff 0 163.1px,#efe3ff 0 165.1px)"></div><div style="left:362.2px;top:413.3px;width:0.8px;height:216.7px;background:rgba(255,255,255,0.6)"></div><div style="left:385.4px;top:413.3px;width:0.8px;height:216.7px;background:rgba(255,255,255,0.6)"></div><div style="left:398.7px;top:413.3px;width:0.8px;height:216.7px;background:rgba(255,255,255,0.6)"></div><div style="left:411.5px;top:413.3px;width:0.8px;height:216.7px;background:rgba(255,255,255,0.6)"></div><div style="left:427.4px;top:413.3px;width:0.8px;height:216.7px;background:rgba(255,255,255,0.6)"></div><div style="left:446.2px;top:413.3px;width:0.8px;height:216.7px;background:rgba(255,255,255,0.6)"></div><div style="left:470.1px;top:413.3px;width:0.8px;height:216.7px;background:rgba(255,255,255,0.6)"></div><div style="left:480.9px;top:413.3px;width:0.8px;height:216.7px;background:rgba(255,255,255,0.6)"></div><div style="left:495.5px;top:413.3px;width:0.8px;height:216.7px;background:rgba(255,255,255,0.6)"></div></div></body></html>
